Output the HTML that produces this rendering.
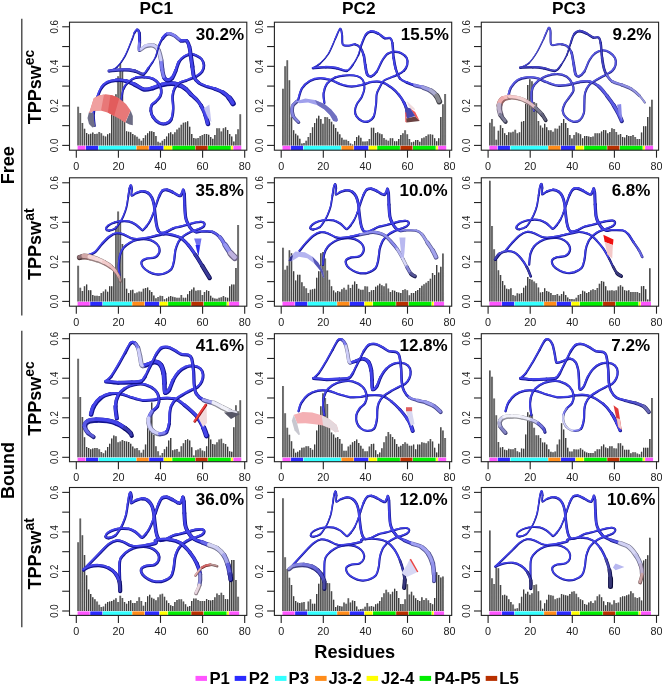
<!DOCTYPE html><html><head><meta charset="utf-8"><title>PCA residue fluctuations</title><style>html,body{margin:0;padding:0;background:#fff;width:662px;height:685px;overflow:hidden}svg{display:block}text{font-family:"Liberation Sans",Arial,sans-serif}</style></head><body>
<svg width="662" height="685" viewBox="0 0 662 685">
<text x="156.2" y="13.7" font-size="17.3" font-weight="bold" text-anchor="middle">PC1</text>
<text x="358.8" y="13.7" font-size="17.3" font-weight="bold" text-anchor="middle">PC2</text>
<text x="568.8" y="13.7" font-size="17.3" font-weight="bold" text-anchor="middle">PC3</text>
<line x1="21.8" y1="18.7" x2="21.8" y2="315.4" stroke="#3a3a3a" stroke-width="1.3"/>
<line x1="21.8" y1="330.8" x2="21.8" y2="627.3" stroke="#3a3a3a" stroke-width="1.3"/>
<text transform="translate(14,165.2) rotate(-90)" font-size="18" font-weight="bold" text-anchor="middle">Free</text>
<text transform="translate(14,470.4) rotate(-90)" font-size="18" font-weight="bold" text-anchor="middle">Bound</text>
<text transform="translate(41.3,124.3) rotate(-90)" font-size="18" font-weight="bold">TPPsw<tspan dy="-7" font-size="14">ec</tspan></text>
<text transform="translate(41.3,279.9) rotate(-90)" font-size="18" font-weight="bold">TPPsw<tspan dy="-7" font-size="14">at</tspan></text>
<text transform="translate(41.3,435.8) rotate(-90)" font-size="18" font-weight="bold">TPPsw<tspan dy="-7" font-size="14">ec</tspan></text>
<text transform="translate(41.3,589.6) rotate(-90)" font-size="18" font-weight="bold">TPPsw<tspan dy="-7" font-size="14">at</tspan></text>
<path fill="#8e8e8e" d="M77.56 106.85h1.6v38.55h-1.6zM79.66 112.98h1.6v32.42h-1.6zM81.77 123.06h1.6v22.34h-1.6zM83.87 128.79h1.6v16.61h-1.6zM85.98 132.94h1.6v12.46h-1.6zM88.08 134.13h1.6v11.27h-1.6zM90.19 133.74h1.6v11.66h-1.6zM92.29 132.55h1.6v12.85h-1.6zM94.4 133.93h1.6v11.47h-1.6zM96.5 133.74h1.6v11.66h-1.6zM98.61 131.96h1.6v13.44h-1.6zM100.71 133.14h1.6v12.26h-1.6zM102.81 135.71h1.6v9.69h-1.6zM104.92 136.5h1.6v8.9h-1.6zM107.03 134.13h1.6v11.27h-1.6zM109.13 133.14h1.6v12.26h-1.6zM111.23 111.79h1.6v33.61h-1.6zM113.34 101.91h1.6v43.49h-1.6zM115.44 94.2h1.6v51.2h-1.6zM117.55 76.21h1.6v69.19h-1.6zM119.66 63.95h1.6v81.45h-1.6zM121.76 71.26h1.6v74.14h-1.6zM123.87 115.75h1.6v29.66h-1.6zM125.97 131.17h1.6v14.23h-1.6zM128.08 131.76h1.6v13.64h-1.6zM130.18 132.15h1.6v13.25h-1.6zM132.28 133.93h1.6v11.47h-1.6zM134.39 135.32h1.6v10.08h-1.6zM136.5 136.7h1.6v8.7h-1.6zM138.6 138.68h1.6v6.72h-1.6zM140.71 140.85h1.6v4.55h-1.6zM142.81 137.89h1.6v7.51h-1.6zM144.91 135.32h1.6v10.08h-1.6zM147.02 133.14h1.6v12.26h-1.6zM149.12 131.17h1.6v14.23h-1.6zM151.23 131.17h1.6v14.23h-1.6zM153.34 131.96h1.6v13.44h-1.6zM155.44 136.11h1.6v9.29h-1.6zM157.54 141.84h1.6v3.56h-1.6zM159.65 142.83h1.6v2.57h-1.6zM161.75 140.85h1.6v4.55h-1.6zM163.86 138.88h1.6v6.52h-1.6zM165.97 136.5h1.6v8.9h-1.6zM168.07 133.14h1.6v12.26h-1.6zM170.17 132.15h1.6v13.25h-1.6zM172.28 134.33h1.6v11.07h-1.6zM174.39 132.15h1.6v13.25h-1.6zM176.49 129.58h1.6v15.82h-1.6zM178.59 127.8h1.6v17.6h-1.6zM180.7 124.64h1.6v20.76h-1.6zM182.81 122.86h1.6v22.54h-1.6zM184.91 122.27h1.6v23.13h-1.6zM187.02 121.28h1.6v24.12h-1.6zM189.12 126.82h1.6v18.58h-1.6zM191.22 133.93h1.6v11.47h-1.6zM193.33 137.89h1.6v7.51h-1.6zM195.44 138.48h1.6v6.92h-1.6zM197.54 137.89h1.6v7.51h-1.6zM199.65 136.11h1.6v9.29h-1.6zM201.75 135.12h1.6v10.28h-1.6zM203.85 133.93h1.6v11.47h-1.6zM205.96 133.93h1.6v11.47h-1.6zM208.07 134.72h1.6v10.68h-1.6zM210.17 137.1h1.6v8.3h-1.6zM212.28 138.68h1.6v6.72h-1.6zM214.38 135.12h1.6v10.28h-1.6zM216.48 128.2h1.6v17.2h-1.6zM218.59 128.2h1.6v17.2h-1.6zM220.7 131.56h1.6v13.84h-1.6zM222.8 128.2h1.6v17.2h-1.6zM224.91 127.21h1.6v18.19h-1.6zM227.01 129.98h1.6v15.42h-1.6zM229.11 133.93h1.6v11.47h-1.6zM231.22 136.5h1.6v8.9h-1.6zM233.33 141.45h1.6v3.95h-1.6zM235.43 134.33h1.6v11.07h-1.6zM237.53 129.19h1.6v16.21h-1.6zM239.64 114.16h1.6v31.24h-1.6z"/><path fill="#202020" d="M77.56 106.85h.75v38.55h-.75zM79.66 112.98h.75v32.42h-.75zM81.77 123.06h.75v22.34h-.75zM83.87 128.79h.75v16.61h-.75zM85.98 132.94h.75v12.46h-.75zM88.08 134.13h.75v11.27h-.75zM90.19 133.74h.75v11.66h-.75zM92.29 132.55h.75v12.85h-.75zM94.4 133.93h.75v11.47h-.75zM96.5 133.74h.75v11.66h-.75zM98.61 131.96h.75v13.44h-.75zM100.71 133.14h.75v12.26h-.75zM102.81 135.71h.75v9.69h-.75zM104.92 136.5h.75v8.9h-.75zM107.03 134.13h.75v11.27h-.75zM109.13 133.14h.75v12.26h-.75zM111.23 111.79h.75v33.61h-.75zM113.34 101.91h.75v43.49h-.75zM115.44 94.2h.75v51.2h-.75zM117.55 76.21h.75v69.19h-.75zM119.66 63.95h.75v81.45h-.75zM121.76 71.26h.75v74.14h-.75zM123.87 115.75h.75v29.66h-.75zM125.97 131.17h.75v14.23h-.75zM128.08 131.76h.75v13.64h-.75zM130.18 132.15h.75v13.25h-.75zM132.28 133.93h.75v11.47h-.75zM134.39 135.32h.75v10.08h-.75zM136.5 136.7h.75v8.7h-.75zM138.6 138.68h.75v6.72h-.75zM140.71 140.85h.75v4.55h-.75zM142.81 137.89h.75v7.51h-.75zM144.91 135.32h.75v10.08h-.75zM147.02 133.14h.75v12.26h-.75zM149.12 131.17h.75v14.23h-.75zM151.23 131.17h.75v14.23h-.75zM153.34 131.96h.75v13.44h-.75zM155.44 136.11h.75v9.29h-.75zM157.54 141.84h.75v3.56h-.75zM159.65 142.83h.75v2.57h-.75zM161.75 140.85h.75v4.55h-.75zM163.86 138.88h.75v6.52h-.75zM165.97 136.5h.75v8.9h-.75zM168.07 133.14h.75v12.26h-.75zM170.17 132.15h.75v13.25h-.75zM172.28 134.33h.75v11.07h-.75zM174.39 132.15h.75v13.25h-.75zM176.49 129.58h.75v15.82h-.75zM178.59 127.8h.75v17.6h-.75zM180.7 124.64h.75v20.76h-.75zM182.81 122.86h.75v22.54h-.75zM184.91 122.27h.75v23.13h-.75zM187.02 121.28h.75v24.12h-.75zM189.12 126.82h.75v18.58h-.75zM191.22 133.93h.75v11.47h-.75zM193.33 137.89h.75v7.51h-.75zM195.44 138.48h.75v6.92h-.75zM197.54 137.89h.75v7.51h-.75zM199.65 136.11h.75v9.29h-.75zM201.75 135.12h.75v10.28h-.75zM203.85 133.93h.75v11.47h-.75zM205.96 133.93h.75v11.47h-.75zM208.07 134.72h.75v10.68h-.75zM210.17 137.1h.75v8.3h-.75zM212.28 138.68h.75v6.72h-.75zM214.38 135.12h.75v10.28h-.75zM216.48 128.2h.75v17.2h-.75zM218.59 128.2h.75v17.2h-.75zM220.7 131.56h.75v13.84h-.75zM222.8 128.2h.75v17.2h-.75zM224.91 127.21h.75v18.19h-.75zM227.01 129.98h.75v15.42h-.75zM229.11 133.93h.75v11.47h-.75zM231.22 136.5h.75v8.9h-.75zM233.33 141.45h.75v3.95h-.75zM235.43 134.33h.75v11.07h-.75zM237.53 129.19h.75v16.21h-.75zM239.64 114.16h.75v31.24h-.75z"/>
<rect x="77.6" y="145.8" width="7.92" height="4.4" fill="#ff55ff"/>
<rect x="86.02" y="145.8" width="12.13" height="4.4" fill="#2a2aff"/>
<rect x="98.65" y="145.8" width="37.39" height="4.4" fill="#33ffff"/>
<rect x="136.54" y="145.8" width="12.13" height="4.4" fill="#ff8c1a"/>
<rect x="149.17" y="145.8" width="14.23" height="4.4" fill="#2a2aff"/>
<rect x="163.91" y="145.8" width="7.92" height="4.4" fill="#ffff00"/>
<rect x="172.33" y="145.8" width="22.66" height="4.4" fill="#00ee00"/>
<rect x="195.48" y="145.8" width="12.13" height="4.4" fill="#b83000"/>
<rect x="208.11" y="145.8" width="22.65" height="4.4" fill="#00ee00"/>
<rect x="231.27" y="145.8" width="1.61" height="4.4" fill="#ffff00"/>
<rect x="233.37" y="145.8" width="7.92" height="4.4" fill="#ff55ff"/>
<rect x="69.5" y="22.2" width="177.3" height="128" fill="none" stroke="#222" stroke-width="1.1"/>
<line x1="62.2" y1="145.4" x2="69.5" y2="145.4" stroke="#222" stroke-width="1.1"/>
<line x1="62.2" y1="125.63" x2="69.5" y2="125.63" stroke="#222" stroke-width="1.1"/>
<line x1="62.2" y1="105.86" x2="69.5" y2="105.86" stroke="#222" stroke-width="1.1"/>
<line x1="62.2" y1="86.09" x2="69.5" y2="86.09" stroke="#222" stroke-width="1.1"/>
<line x1="62.2" y1="66.32" x2="69.5" y2="66.32" stroke="#222" stroke-width="1.1"/>
<line x1="62.2" y1="46.55" x2="69.5" y2="46.55" stroke="#222" stroke-width="1.1"/>
<line x1="62.2" y1="26.78" x2="69.5" y2="26.78" stroke="#222" stroke-width="1.1"/>
<text transform="translate(58.4,145.4) rotate(-90)" font-size="11.4" text-anchor="middle" textLength="13.5" lengthAdjust="spacingAndGlyphs" fill="#222">0.0</text>
<text transform="translate(58.4,105.86) rotate(-90)" font-size="11.4" text-anchor="middle" textLength="13.5" lengthAdjust="spacingAndGlyphs" fill="#222">0.2</text>
<text transform="translate(58.4,66.32) rotate(-90)" font-size="11.4" text-anchor="middle" textLength="13.5" lengthAdjust="spacingAndGlyphs" fill="#222">0.4</text>
<text transform="translate(58.4,26.78) rotate(-90)" font-size="11.4" text-anchor="middle" textLength="13.5" lengthAdjust="spacingAndGlyphs" fill="#222">0.6</text>
<line x1="76.3" y1="150.2" x2="76.3" y2="157.7" stroke="#222" stroke-width="1.1"/>
<text x="76.3" y="169.6" font-size="10.8" text-anchor="middle" fill="#222">0</text>
<line x1="118.4" y1="150.2" x2="118.4" y2="157.7" stroke="#222" stroke-width="1.1"/>
<text x="118.4" y="169.6" font-size="10.8" text-anchor="middle" fill="#222">20</text>
<line x1="160.5" y1="150.2" x2="160.5" y2="157.7" stroke="#222" stroke-width="1.1"/>
<text x="160.5" y="169.6" font-size="10.8" text-anchor="middle" fill="#222">40</text>
<line x1="202.6" y1="150.2" x2="202.6" y2="157.7" stroke="#222" stroke-width="1.1"/>
<text x="202.6" y="169.6" font-size="10.8" text-anchor="middle" fill="#222">60</text>
<line x1="244.7" y1="150.2" x2="244.7" y2="157.7" stroke="#222" stroke-width="1.1"/>
<text x="244.7" y="169.6" font-size="10.8" text-anchor="middle" fill="#222">80</text>
<text x="244.0" y="39.9" font-size="17" font-weight="bold" text-anchor="end">30.2%</text>
<path fill="#8e8e8e" d="M282.45 88.66h1.6v56.74h-1.6zM284.56 66.32h1.6v79.08h-1.6zM286.66 60.19h1.6v85.21h-1.6zM288.77 80.36h1.6v65.04h-1.6zM290.87 117.13h1.6v28.27h-1.6zM292.98 130.37h1.6v15.03h-1.6zM295.08 133.74h1.6v11.66h-1.6zM297.19 135.52h1.6v9.88h-1.6zM299.29 138.68h1.6v6.72h-1.6zM301.4 143.42h1.6v1.98h-1.6zM303.5 143.03h1.6v2.37h-1.6zM305.61 140.85h1.6v4.55h-1.6zM307.71 137.1h1.6v8.3h-1.6zM309.82 132.94h1.6v12.46h-1.6zM311.92 127.21h1.6v18.19h-1.6zM314.03 123.06h1.6v22.34h-1.6zM316.13 118.51h1.6v26.89h-1.6zM318.24 115.75h1.6v29.66h-1.6zM320.34 119.11h1.6v26.29h-1.6zM322.45 123.65h1.6v21.75h-1.6zM324.55 116.93h1.6v28.47h-1.6zM326.66 117.13h1.6v28.27h-1.6zM328.76 119.11h1.6v26.29h-1.6zM330.87 121.87h1.6v23.53h-1.6zM332.97 124.44h1.6v20.96h-1.6zM335.08 128h1.6v17.4h-1.6zM337.18 131.76h1.6v13.64h-1.6zM339.29 134.13h1.6v11.27h-1.6zM341.39 137.69h1.6v7.71h-1.6zM343.5 139.86h1.6v5.54h-1.6zM345.6 139.86h1.6v5.54h-1.6zM347.71 141.05h1.6v4.35h-1.6zM349.81 143.42h1.6v1.98h-1.6zM351.92 144.41h1.6v0.99h-1.6zM354.02 141.05h1.6v4.35h-1.6zM356.13 136.9h1.6v8.5h-1.6zM358.23 135.52h1.6v9.88h-1.6zM360.34 137.69h1.6v7.71h-1.6zM362.44 141.45h1.6v3.95h-1.6zM364.55 141.45h1.6v3.95h-1.6zM366.65 141.25h1.6v4.15h-1.6zM368.76 139.07h1.6v6.33h-1.6zM370.86 127.8h1.6v17.6h-1.6zM372.97 127.8h1.6v17.6h-1.6zM375.07 132.94h1.6v12.46h-1.6zM377.18 132.15h1.6v13.25h-1.6zM379.28 133.54h1.6v11.86h-1.6zM381.39 134.33h1.6v11.07h-1.6zM383.49 137.89h1.6v7.51h-1.6zM385.6 139.67h1.6v5.73h-1.6zM387.7 140.85h1.6v4.55h-1.6zM389.81 138.28h1.6v7.12h-1.6zM391.91 138.28h1.6v7.12h-1.6zM394.02 141.25h1.6v4.15h-1.6zM396.12 141.25h1.6v4.15h-1.6zM398.23 138.88h1.6v6.52h-1.6zM400.33 135.12h1.6v10.28h-1.6zM402.44 133.14h1.6v12.26h-1.6zM404.54 130.18h1.6v15.22h-1.6zM406.65 134.33h1.6v11.07h-1.6zM408.75 138.88h1.6v6.52h-1.6zM410.86 142.24h1.6v3.16h-1.6zM412.96 141.84h1.6v3.56h-1.6zM415.07 140.06h1.6v5.34h-1.6zM417.17 140.06h1.6v5.34h-1.6zM419.28 141.84h1.6v3.56h-1.6zM421.38 138.28h1.6v7.12h-1.6zM423.49 137.49h1.6v7.91h-1.6zM425.59 136.11h1.6v9.29h-1.6zM427.7 134.53h1.6v10.87h-1.6zM429.8 134.33h1.6v11.07h-1.6zM431.91 134.72h1.6v10.68h-1.6zM434.01 138.28h1.6v7.12h-1.6zM436.12 141.25h1.6v4.15h-1.6zM438.22 138.28h1.6v7.12h-1.6zM440.33 116.93h1.6v28.47h-1.6zM442.43 104.28h1.6v41.12h-1.6zM444.54 94h1.6v51.4h-1.6z"/><path fill="#202020" d="M282.45 88.66h.75v56.74h-.75zM284.56 66.32h.75v79.08h-.75zM286.66 60.19h.75v85.21h-.75zM288.77 80.36h.75v65.04h-.75zM290.87 117.13h.75v28.27h-.75zM292.98 130.37h.75v15.03h-.75zM295.08 133.74h.75v11.66h-.75zM297.19 135.52h.75v9.88h-.75zM299.29 138.68h.75v6.72h-.75zM301.4 143.42h.75v1.98h-.75zM303.5 143.03h.75v2.37h-.75zM305.61 140.85h.75v4.55h-.75zM307.71 137.1h.75v8.3h-.75zM309.82 132.94h.75v12.46h-.75zM311.92 127.21h.75v18.19h-.75zM314.03 123.06h.75v22.34h-.75zM316.13 118.51h.75v26.89h-.75zM318.24 115.75h.75v29.66h-.75zM320.34 119.11h.75v26.29h-.75zM322.45 123.65h.75v21.75h-.75zM324.55 116.93h.75v28.47h-.75zM326.66 117.13h.75v28.27h-.75zM328.76 119.11h.75v26.29h-.75zM330.87 121.87h.75v23.53h-.75zM332.97 124.44h.75v20.96h-.75zM335.08 128h.75v17.4h-.75zM337.18 131.76h.75v13.64h-.75zM339.29 134.13h.75v11.27h-.75zM341.39 137.69h.75v7.71h-.75zM343.5 139.86h.75v5.54h-.75zM345.6 139.86h.75v5.54h-.75zM347.71 141.05h.75v4.35h-.75zM349.81 143.42h.75v1.98h-.75zM351.92 144.41h.75v0.99h-.75zM354.02 141.05h.75v4.35h-.75zM356.13 136.9h.75v8.5h-.75zM358.23 135.52h.75v9.88h-.75zM360.34 137.69h.75v7.71h-.75zM362.44 141.45h.75v3.95h-.75zM364.55 141.45h.75v3.95h-.75zM366.65 141.25h.75v4.15h-.75zM368.76 139.07h.75v6.33h-.75zM370.86 127.8h.75v17.6h-.75zM372.97 127.8h.75v17.6h-.75zM375.07 132.94h.75v12.46h-.75zM377.18 132.15h.75v13.25h-.75zM379.28 133.54h.75v11.86h-.75zM381.39 134.33h.75v11.07h-.75zM383.49 137.89h.75v7.51h-.75zM385.6 139.67h.75v5.73h-.75zM387.7 140.85h.75v4.55h-.75zM389.81 138.28h.75v7.12h-.75zM391.91 138.28h.75v7.12h-.75zM394.02 141.25h.75v4.15h-.75zM396.12 141.25h.75v4.15h-.75zM398.23 138.88h.75v6.52h-.75zM400.33 135.12h.75v10.28h-.75zM402.44 133.14h.75v12.26h-.75zM404.54 130.18h.75v15.22h-.75zM406.65 134.33h.75v11.07h-.75zM408.75 138.88h.75v6.52h-.75zM410.86 142.24h.75v3.16h-.75zM412.96 141.84h.75v3.56h-.75zM415.07 140.06h.75v5.34h-.75zM417.17 140.06h.75v5.34h-.75zM419.28 141.84h.75v3.56h-.75zM421.38 138.28h.75v7.12h-.75zM423.49 137.49h.75v7.91h-.75zM425.59 136.11h.75v9.29h-.75zM427.7 134.53h.75v10.87h-.75zM429.8 134.33h.75v11.07h-.75zM431.91 134.72h.75v10.68h-.75zM434.01 138.28h.75v7.12h-.75zM436.12 141.25h.75v4.15h-.75zM438.22 138.28h.75v7.12h-.75zM440.33 116.93h.75v28.47h-.75zM442.43 104.28h.75v41.12h-.75zM444.54 94h.75v51.4h-.75z"/>
<rect x="282.5" y="145.8" width="7.92" height="4.4" fill="#ff55ff"/>
<rect x="290.92" y="145.8" width="12.13" height="4.4" fill="#2a2aff"/>
<rect x="303.55" y="145.8" width="37.39" height="4.4" fill="#33ffff"/>
<rect x="341.44" y="145.8" width="12.13" height="4.4" fill="#ff8c1a"/>
<rect x="354.07" y="145.8" width="14.24" height="4.4" fill="#2a2aff"/>
<rect x="368.81" y="145.8" width="7.92" height="4.4" fill="#ffff00"/>
<rect x="377.23" y="145.8" width="22.66" height="4.4" fill="#00ee00"/>
<rect x="400.38" y="145.8" width="12.13" height="4.4" fill="#b83000"/>
<rect x="413.01" y="145.8" width="22.66" height="4.4" fill="#00ee00"/>
<rect x="436.17" y="145.8" width="1.6" height="4.4" fill="#ffff00"/>
<rect x="438.27" y="145.8" width="7.92" height="4.4" fill="#ff55ff"/>
<rect x="274.4" y="22.2" width="177.3" height="128" fill="none" stroke="#222" stroke-width="1.1"/>
<line x1="267.1" y1="145.4" x2="274.4" y2="145.4" stroke="#222" stroke-width="1.1"/>
<line x1="267.1" y1="125.63" x2="274.4" y2="125.63" stroke="#222" stroke-width="1.1"/>
<line x1="267.1" y1="105.86" x2="274.4" y2="105.86" stroke="#222" stroke-width="1.1"/>
<line x1="267.1" y1="86.09" x2="274.4" y2="86.09" stroke="#222" stroke-width="1.1"/>
<line x1="267.1" y1="66.32" x2="274.4" y2="66.32" stroke="#222" stroke-width="1.1"/>
<line x1="267.1" y1="46.55" x2="274.4" y2="46.55" stroke="#222" stroke-width="1.1"/>
<line x1="267.1" y1="26.78" x2="274.4" y2="26.78" stroke="#222" stroke-width="1.1"/>
<text transform="translate(263.3,145.4) rotate(-90)" font-size="11.4" text-anchor="middle" textLength="13.5" lengthAdjust="spacingAndGlyphs" fill="#222">0.0</text>
<text transform="translate(263.3,105.86) rotate(-90)" font-size="11.4" text-anchor="middle" textLength="13.5" lengthAdjust="spacingAndGlyphs" fill="#222">0.2</text>
<text transform="translate(263.3,66.32) rotate(-90)" font-size="11.4" text-anchor="middle" textLength="13.5" lengthAdjust="spacingAndGlyphs" fill="#222">0.4</text>
<text transform="translate(263.3,26.78) rotate(-90)" font-size="11.4" text-anchor="middle" textLength="13.5" lengthAdjust="spacingAndGlyphs" fill="#222">0.6</text>
<line x1="281.2" y1="150.2" x2="281.2" y2="157.7" stroke="#222" stroke-width="1.1"/>
<text x="281.2" y="169.6" font-size="10.8" text-anchor="middle" fill="#222">0</text>
<line x1="323.3" y1="150.2" x2="323.3" y2="157.7" stroke="#222" stroke-width="1.1"/>
<text x="323.3" y="169.6" font-size="10.8" text-anchor="middle" fill="#222">20</text>
<line x1="365.4" y1="150.2" x2="365.4" y2="157.7" stroke="#222" stroke-width="1.1"/>
<text x="365.4" y="169.6" font-size="10.8" text-anchor="middle" fill="#222">40</text>
<line x1="407.5" y1="150.2" x2="407.5" y2="157.7" stroke="#222" stroke-width="1.1"/>
<text x="407.5" y="169.6" font-size="10.8" text-anchor="middle" fill="#222">60</text>
<line x1="449.6" y1="150.2" x2="449.6" y2="157.7" stroke="#222" stroke-width="1.1"/>
<text x="449.6" y="169.6" font-size="10.8" text-anchor="middle" fill="#222">80</text>
<text x="448.9" y="39.9" font-size="17" font-weight="bold" text-anchor="end">15.5%</text>
<path fill="#8e8e8e" d="M489.36 122.66h1.6v22.74h-1.6zM491.46 119.11h1.6v26.29h-1.6zM493.56 126.42h1.6v18.98h-1.6zM495.67 139.86h1.6v5.54h-1.6zM497.77 130.77h1.6v14.63h-1.6zM499.88 125.23h1.6v20.17h-1.6zM501.99 128h1.6v17.4h-1.6zM504.09 133.34h1.6v12.06h-1.6zM506.19 135.12h1.6v10.28h-1.6zM508.3 132.15h1.6v13.25h-1.6zM510.4 132.55h1.6v12.85h-1.6zM512.51 131.76h1.6v13.64h-1.6zM514.62 129.78h1.6v15.62h-1.6zM516.72 133.34h1.6v12.06h-1.6zM518.83 132.15h1.6v13.25h-1.6zM520.93 121.87h1.6v23.53h-1.6zM523.03 120.89h1.6v24.51h-1.6zM525.14 103.88h1.6v41.52h-1.6zM527.25 85.1h1.6v60.3h-1.6zM529.35 79.37h1.6v66.03h-1.6zM531.46 81.35h1.6v64.05h-1.6zM533.56 101.91h1.6v43.49h-1.6zM535.66 103.29h1.6v42.11h-1.6zM537.77 121.08h1.6v24.32h-1.6zM539.88 125.43h1.6v19.97h-1.6zM541.98 127.8h1.6v17.6h-1.6zM544.09 123.85h1.6v21.55h-1.6zM546.19 127.21h1.6v18.19h-1.6zM548.29 130.18h1.6v15.22h-1.6zM550.4 130.37h1.6v15.03h-1.6zM552.5 131.76h1.6v13.64h-1.6zM554.61 128.4h1.6v17h-1.6zM556.72 128.79h1.6v16.61h-1.6zM558.82 125.83h1.6v19.57h-1.6zM560.92 123.06h1.6v22.34h-1.6zM563.03 119.11h1.6v26.29h-1.6zM565.13 123.06h1.6v22.34h-1.6zM567.24 128h1.6v17.4h-1.6zM569.35 135.12h1.6v10.28h-1.6zM571.45 138.48h1.6v6.92h-1.6zM573.55 135.12h1.6v10.28h-1.6zM575.66 132.15h1.6v13.25h-1.6zM577.76 133.14h1.6v12.26h-1.6zM579.87 134.33h1.6v11.07h-1.6zM581.98 138.28h1.6v7.12h-1.6zM584.08 135.91h1.6v9.49h-1.6zM586.19 135.91h1.6v9.49h-1.6zM588.29 136.5h1.6v8.9h-1.6zM590.39 136.9h1.6v8.5h-1.6zM592.5 136.5h1.6v8.9h-1.6zM594.61 133.14h1.6v12.26h-1.6zM596.71 133.14h1.6v12.26h-1.6zM598.81 133.14h1.6v12.26h-1.6zM600.92 131.56h1.6v13.84h-1.6zM603.02 129.98h1.6v15.42h-1.6zM605.13 130.37h1.6v15.03h-1.6zM607.24 133.14h1.6v12.26h-1.6zM609.34 131.96h1.6v13.44h-1.6zM611.45 128.2h1.6v17.2h-1.6zM613.55 128.99h1.6v16.41h-1.6zM615.65 131.96h1.6v13.44h-1.6zM617.76 134.72h1.6v10.68h-1.6zM619.87 133.93h1.6v11.47h-1.6zM621.97 136.9h1.6v8.5h-1.6zM624.07 137.49h1.6v7.91h-1.6zM626.18 135.12h1.6v10.28h-1.6zM628.28 135.91h1.6v9.49h-1.6zM630.39 135.91h1.6v9.49h-1.6zM632.5 135.12h1.6v10.28h-1.6zM634.6 136.9h1.6v8.5h-1.6zM636.71 139.07h1.6v6.33h-1.6zM638.81 139.07h1.6v6.33h-1.6zM640.91 132.55h1.6v12.85h-1.6zM643.02 126.22h1.6v19.18h-1.6zM645.12 126.22h1.6v19.18h-1.6zM647.23 116.93h1.6v28.47h-1.6zM649.34 106.65h1.6v38.75h-1.6zM651.44 99.73h1.6v45.67h-1.6z"/><path fill="#202020" d="M489.36 122.66h.75v22.74h-.75zM491.46 119.11h.75v26.29h-.75zM493.56 126.42h.75v18.98h-.75zM495.67 139.86h.75v5.54h-.75zM497.77 130.77h.75v14.63h-.75zM499.88 125.23h.75v20.17h-.75zM501.99 128h.75v17.4h-.75zM504.09 133.34h.75v12.06h-.75zM506.19 135.12h.75v10.28h-.75zM508.3 132.15h.75v13.25h-.75zM510.4 132.55h.75v12.85h-.75zM512.51 131.76h.75v13.64h-.75zM514.62 129.78h.75v15.62h-.75zM516.72 133.34h.75v12.06h-.75zM518.83 132.15h.75v13.25h-.75zM520.93 121.87h.75v23.53h-.75zM523.03 120.89h.75v24.51h-.75zM525.14 103.88h.75v41.52h-.75zM527.25 85.1h.75v60.3h-.75zM529.35 79.37h.75v66.03h-.75zM531.46 81.35h.75v64.05h-.75zM533.56 101.91h.75v43.49h-.75zM535.66 103.29h.75v42.11h-.75zM537.77 121.08h.75v24.32h-.75zM539.88 125.43h.75v19.97h-.75zM541.98 127.8h.75v17.6h-.75zM544.09 123.85h.75v21.55h-.75zM546.19 127.21h.75v18.19h-.75zM548.29 130.18h.75v15.22h-.75zM550.4 130.37h.75v15.03h-.75zM552.5 131.76h.75v13.64h-.75zM554.61 128.4h.75v17h-.75zM556.72 128.79h.75v16.61h-.75zM558.82 125.83h.75v19.57h-.75zM560.92 123.06h.75v22.34h-.75zM563.03 119.11h.75v26.29h-.75zM565.13 123.06h.75v22.34h-.75zM567.24 128h.75v17.4h-.75zM569.35 135.12h.75v10.28h-.75zM571.45 138.48h.75v6.92h-.75zM573.55 135.12h.75v10.28h-.75zM575.66 132.15h.75v13.25h-.75zM577.76 133.14h.75v12.26h-.75zM579.87 134.33h.75v11.07h-.75zM581.98 138.28h.75v7.12h-.75zM584.08 135.91h.75v9.49h-.75zM586.19 135.91h.75v9.49h-.75zM588.29 136.5h.75v8.9h-.75zM590.39 136.9h.75v8.5h-.75zM592.5 136.5h.75v8.9h-.75zM594.61 133.14h.75v12.26h-.75zM596.71 133.14h.75v12.26h-.75zM598.81 133.14h.75v12.26h-.75zM600.92 131.56h.75v13.84h-.75zM603.02 129.98h.75v15.42h-.75zM605.13 130.37h.75v15.03h-.75zM607.24 133.14h.75v12.26h-.75zM609.34 131.96h.75v13.44h-.75zM611.45 128.2h.75v17.2h-.75zM613.55 128.99h.75v16.41h-.75zM615.65 131.96h.75v13.44h-.75zM617.76 134.72h.75v10.68h-.75zM619.87 133.93h.75v11.47h-.75zM621.97 136.9h.75v8.5h-.75zM624.07 137.49h.75v7.91h-.75zM626.18 135.12h.75v10.28h-.75zM628.28 135.91h.75v9.49h-.75zM630.39 135.91h.75v9.49h-.75zM632.5 135.12h.75v10.28h-.75zM634.6 136.9h.75v8.5h-.75zM636.71 139.07h.75v6.33h-.75zM638.81 139.07h.75v6.33h-.75zM640.91 132.55h.75v12.85h-.75zM643.02 126.22h.75v19.18h-.75zM645.12 126.22h.75v19.18h-.75zM647.23 116.93h.75v28.47h-.75zM649.34 106.65h.75v38.75h-.75zM651.44 99.73h.75v45.67h-.75z"/>
<rect x="489.4" y="145.8" width="7.92" height="4.4" fill="#ff55ff"/>
<rect x="497.82" y="145.8" width="12.13" height="4.4" fill="#2a2aff"/>
<rect x="510.45" y="145.8" width="37.39" height="4.4" fill="#33ffff"/>
<rect x="548.34" y="145.8" width="12.13" height="4.4" fill="#ff8c1a"/>
<rect x="560.97" y="145.8" width="14.23" height="4.4" fill="#2a2aff"/>
<rect x="575.71" y="145.8" width="7.92" height="4.4" fill="#ffff00"/>
<rect x="584.13" y="145.8" width="22.65" height="4.4" fill="#00ee00"/>
<rect x="607.28" y="145.8" width="12.13" height="4.4" fill="#b83000"/>
<rect x="619.91" y="145.8" width="22.65" height="4.4" fill="#00ee00"/>
<rect x="643.07" y="145.8" width="1.61" height="4.4" fill="#ffff00"/>
<rect x="645.17" y="145.8" width="7.92" height="4.4" fill="#ff55ff"/>
<rect x="481.3" y="22.2" width="177.3" height="128" fill="none" stroke="#222" stroke-width="1.1"/>
<line x1="474" y1="145.4" x2="481.3" y2="145.4" stroke="#222" stroke-width="1.1"/>
<line x1="474" y1="125.63" x2="481.3" y2="125.63" stroke="#222" stroke-width="1.1"/>
<line x1="474" y1="105.86" x2="481.3" y2="105.86" stroke="#222" stroke-width="1.1"/>
<line x1="474" y1="86.09" x2="481.3" y2="86.09" stroke="#222" stroke-width="1.1"/>
<line x1="474" y1="66.32" x2="481.3" y2="66.32" stroke="#222" stroke-width="1.1"/>
<line x1="474" y1="46.55" x2="481.3" y2="46.55" stroke="#222" stroke-width="1.1"/>
<line x1="474" y1="26.78" x2="481.3" y2="26.78" stroke="#222" stroke-width="1.1"/>
<text transform="translate(470.2,145.4) rotate(-90)" font-size="11.4" text-anchor="middle" textLength="13.5" lengthAdjust="spacingAndGlyphs" fill="#222">0.0</text>
<text transform="translate(470.2,105.86) rotate(-90)" font-size="11.4" text-anchor="middle" textLength="13.5" lengthAdjust="spacingAndGlyphs" fill="#222">0.2</text>
<text transform="translate(470.2,66.32) rotate(-90)" font-size="11.4" text-anchor="middle" textLength="13.5" lengthAdjust="spacingAndGlyphs" fill="#222">0.4</text>
<text transform="translate(470.2,26.78) rotate(-90)" font-size="11.4" text-anchor="middle" textLength="13.5" lengthAdjust="spacingAndGlyphs" fill="#222">0.6</text>
<line x1="488.1" y1="150.2" x2="488.1" y2="157.7" stroke="#222" stroke-width="1.1"/>
<text x="488.1" y="169.6" font-size="10.8" text-anchor="middle" fill="#222">0</text>
<line x1="530.2" y1="150.2" x2="530.2" y2="157.7" stroke="#222" stroke-width="1.1"/>
<text x="530.2" y="169.6" font-size="10.8" text-anchor="middle" fill="#222">20</text>
<line x1="572.3" y1="150.2" x2="572.3" y2="157.7" stroke="#222" stroke-width="1.1"/>
<text x="572.3" y="169.6" font-size="10.8" text-anchor="middle" fill="#222">40</text>
<line x1="614.4" y1="150.2" x2="614.4" y2="157.7" stroke="#222" stroke-width="1.1"/>
<text x="614.4" y="169.6" font-size="10.8" text-anchor="middle" fill="#222">60</text>
<line x1="656.5" y1="150.2" x2="656.5" y2="157.7" stroke="#222" stroke-width="1.1"/>
<text x="656.5" y="169.6" font-size="10.8" text-anchor="middle" fill="#222">80</text>
<text x="651.3" y="39.9" font-size="17" font-weight="bold" text-anchor="end">9.2%</text>
<path fill="#8e8e8e" d="M77.56 265.81h1.6v35.59h-1.6zM79.66 287.76h1.6v13.64h-1.6zM81.77 291.12h1.6v10.28h-1.6zM83.87 286.18h1.6v15.22h-1.6zM85.98 284.4h1.6v17h-1.6zM88.08 290.13h1.6v11.27h-1.6zM90.19 290.13h1.6v11.27h-1.6zM92.29 295.07h1.6v6.33h-1.6zM94.4 295.67h1.6v5.73h-1.6zM96.5 295.67h1.6v5.73h-1.6zM98.61 296.06h1.6v5.34h-1.6zM100.71 292.9h1.6v8.5h-1.6zM102.81 291.51h1.6v9.88h-1.6zM104.92 289.54h1.6v11.86h-1.6zM107.03 291.71h1.6v9.69h-1.6zM109.13 286.37h1.6v15.03h-1.6zM111.23 286.37h1.6v15.03h-1.6zM113.34 269.77h1.6v31.63h-1.6zM115.44 226.27h1.6v75.13h-1.6zM117.55 211.45h1.6v89.95h-1.6zM119.66 220.34h1.6v81.06h-1.6zM121.76 244.07h1.6v57.33h-1.6zM123.87 278.27h1.6v23.13h-1.6zM125.97 288.75h1.6v12.65h-1.6zM128.08 292.9h1.6v8.5h-1.6zM130.18 290.13h1.6v11.27h-1.6zM132.28 289.74h1.6v11.66h-1.6zM134.39 293.29h1.6v8.11h-1.6zM136.5 292.5h1.6v8.9h-1.6zM138.6 291.51h1.6v9.88h-1.6zM140.71 291.71h1.6v9.69h-1.6zM142.81 288.75h1.6v12.65h-1.6zM144.91 287.96h1.6v13.44h-1.6zM147.02 287.56h1.6v13.84h-1.6zM149.12 290.13h1.6v11.27h-1.6zM151.23 292.11h1.6v9.29h-1.6zM153.34 295.47h1.6v5.93h-1.6zM155.44 298.24h1.6v3.16h-1.6zM157.54 297.05h1.6v4.35h-1.6zM159.65 295.67h1.6v5.73h-1.6zM161.75 296.06h1.6v5.34h-1.6zM163.86 299.23h1.6v2.17h-1.6zM165.97 298.24h1.6v3.16h-1.6zM168.07 296.85h1.6v4.55h-1.6zM170.17 296.06h1.6v5.34h-1.6zM172.28 296.85h1.6v4.55h-1.6zM174.39 297.25h1.6v4.15h-1.6zM176.49 297.84h1.6v3.56h-1.6zM178.59 297.84h1.6v3.56h-1.6zM180.7 294.88h1.6v6.52h-1.6zM182.81 297.84h1.6v3.56h-1.6zM184.91 297.84h1.6v3.56h-1.6zM187.02 294.28h1.6v7.12h-1.6zM189.12 291.12h1.6v10.28h-1.6zM191.22 289.54h1.6v11.86h-1.6zM193.33 287.56h1.6v13.84h-1.6zM195.44 290.72h1.6v10.68h-1.6zM197.54 290.33h1.6v11.07h-1.6zM199.65 290.33h1.6v11.07h-1.6zM201.75 295.07h1.6v6.33h-1.6zM203.85 291.91h1.6v9.49h-1.6zM205.96 290.33h1.6v11.07h-1.6zM208.07 291.12h1.6v10.28h-1.6zM210.17 295.67h1.6v5.73h-1.6zM212.28 297.84h1.6v3.56h-1.6zM214.38 298.43h1.6v2.97h-1.6zM216.48 298.83h1.6v2.57h-1.6zM218.59 297.84h1.6v3.56h-1.6zM220.7 297.25h1.6v4.15h-1.6zM222.8 296.06h1.6v5.34h-1.6zM224.91 297.25h1.6v4.15h-1.6zM227.01 297.84h1.6v3.56h-1.6zM229.11 286.37h1.6v15.03h-1.6zM231.22 284.6h1.6v16.8h-1.6zM233.33 284.6h1.6v16.8h-1.6zM235.43 267.99h1.6v33.41h-1.6zM237.53 225.09h1.6v76.31h-1.6z"/><path fill="#202020" d="M77.56 265.81h.75v35.59h-.75zM79.66 287.76h.75v13.64h-.75zM81.77 291.12h.75v10.28h-.75zM83.87 286.18h.75v15.22h-.75zM85.98 284.4h.75v17h-.75zM88.08 290.13h.75v11.27h-.75zM90.19 290.13h.75v11.27h-.75zM92.29 295.07h.75v6.33h-.75zM94.4 295.67h.75v5.73h-.75zM96.5 295.67h.75v5.73h-.75zM98.61 296.06h.75v5.34h-.75zM100.71 292.9h.75v8.5h-.75zM102.81 291.51h.75v9.88h-.75zM104.92 289.54h.75v11.86h-.75zM107.03 291.71h.75v9.69h-.75zM109.13 286.37h.75v15.03h-.75zM111.23 286.37h.75v15.03h-.75zM113.34 269.77h.75v31.63h-.75zM115.44 226.27h.75v75.13h-.75zM117.55 211.45h.75v89.95h-.75zM119.66 220.34h.75v81.06h-.75zM121.76 244.07h.75v57.33h-.75zM123.87 278.27h.75v23.13h-.75zM125.97 288.75h.75v12.65h-.75zM128.08 292.9h.75v8.5h-.75zM130.18 290.13h.75v11.27h-.75zM132.28 289.74h.75v11.66h-.75zM134.39 293.29h.75v8.11h-.75zM136.5 292.5h.75v8.9h-.75zM138.6 291.51h.75v9.88h-.75zM140.71 291.71h.75v9.69h-.75zM142.81 288.75h.75v12.65h-.75zM144.91 287.96h.75v13.44h-.75zM147.02 287.56h.75v13.84h-.75zM149.12 290.13h.75v11.27h-.75zM151.23 292.11h.75v9.29h-.75zM153.34 295.47h.75v5.93h-.75zM155.44 298.24h.75v3.16h-.75zM157.54 297.05h.75v4.35h-.75zM159.65 295.67h.75v5.73h-.75zM161.75 296.06h.75v5.34h-.75zM163.86 299.23h.75v2.17h-.75zM165.97 298.24h.75v3.16h-.75zM168.07 296.85h.75v4.55h-.75zM170.17 296.06h.75v5.34h-.75zM172.28 296.85h.75v4.55h-.75zM174.39 297.25h.75v4.15h-.75zM176.49 297.84h.75v3.56h-.75zM178.59 297.84h.75v3.56h-.75zM180.7 294.88h.75v6.52h-.75zM182.81 297.84h.75v3.56h-.75zM184.91 297.84h.75v3.56h-.75zM187.02 294.28h.75v7.12h-.75zM189.12 291.12h.75v10.28h-.75zM191.22 289.54h.75v11.86h-.75zM193.33 287.56h.75v13.84h-.75zM195.44 290.72h.75v10.68h-.75zM197.54 290.33h.75v11.07h-.75zM199.65 290.33h.75v11.07h-.75zM201.75 295.07h.75v6.33h-.75zM203.85 291.91h.75v9.49h-.75zM205.96 290.33h.75v11.07h-.75zM208.07 291.12h.75v10.28h-.75zM210.17 295.67h.75v5.73h-.75zM212.28 297.84h.75v3.56h-.75zM214.38 298.43h.75v2.97h-.75zM216.48 298.83h.75v2.57h-.75zM218.59 297.84h.75v3.56h-.75zM220.7 297.25h.75v4.15h-.75zM222.8 296.06h.75v5.34h-.75zM224.91 297.25h.75v4.15h-.75zM227.01 297.84h.75v3.56h-.75zM229.11 286.37h.75v15.03h-.75zM231.22 284.6h.75v16.8h-.75zM233.33 284.6h.75v16.8h-.75zM235.43 267.99h.75v33.41h-.75zM237.53 225.09h.75v76.31h-.75z"/>
<rect x="77.6" y="301.8" width="12.13" height="4.4" fill="#ff55ff"/>
<rect x="90.23" y="301.8" width="12.13" height="4.4" fill="#2a2aff"/>
<rect x="102.86" y="301.8" width="28.97" height="4.4" fill="#33ffff"/>
<rect x="132.33" y="301.8" width="12.13" height="4.4" fill="#ff8c1a"/>
<rect x="144.96" y="301.8" width="14.24" height="4.4" fill="#2a2aff"/>
<rect x="159.7" y="301.8" width="7.92" height="4.4" fill="#ffff00"/>
<rect x="168.12" y="301.8" width="22.65" height="4.4" fill="#00ee00"/>
<rect x="191.27" y="301.8" width="12.13" height="4.4" fill="#b83000"/>
<rect x="203.9" y="301.8" width="22.66" height="4.4" fill="#00ee00"/>
<rect x="227.06" y="301.8" width="1.61" height="4.4" fill="#ffff00"/>
<rect x="229.16" y="301.8" width="10.02" height="4.4" fill="#ff55ff"/>
<rect x="69.5" y="177.8" width="177.3" height="128.4" fill="none" stroke="#222" stroke-width="1.1"/>
<line x1="62.2" y1="301.4" x2="69.5" y2="301.4" stroke="#222" stroke-width="1.1"/>
<line x1="62.2" y1="281.63" x2="69.5" y2="281.63" stroke="#222" stroke-width="1.1"/>
<line x1="62.2" y1="261.86" x2="69.5" y2="261.86" stroke="#222" stroke-width="1.1"/>
<line x1="62.2" y1="242.09" x2="69.5" y2="242.09" stroke="#222" stroke-width="1.1"/>
<line x1="62.2" y1="222.32" x2="69.5" y2="222.32" stroke="#222" stroke-width="1.1"/>
<line x1="62.2" y1="202.55" x2="69.5" y2="202.55" stroke="#222" stroke-width="1.1"/>
<line x1="62.2" y1="182.78" x2="69.5" y2="182.78" stroke="#222" stroke-width="1.1"/>
<text transform="translate(58.4,301.4) rotate(-90)" font-size="11.4" text-anchor="middle" textLength="13.5" lengthAdjust="spacingAndGlyphs" fill="#222">0.0</text>
<text transform="translate(58.4,261.86) rotate(-90)" font-size="11.4" text-anchor="middle" textLength="13.5" lengthAdjust="spacingAndGlyphs" fill="#222">0.2</text>
<text transform="translate(58.4,222.32) rotate(-90)" font-size="11.4" text-anchor="middle" textLength="13.5" lengthAdjust="spacingAndGlyphs" fill="#222">0.4</text>
<text transform="translate(58.4,182.78) rotate(-90)" font-size="11.4" text-anchor="middle" textLength="13.5" lengthAdjust="spacingAndGlyphs" fill="#222">0.6</text>
<line x1="76.3" y1="306.2" x2="76.3" y2="313.7" stroke="#222" stroke-width="1.1"/>
<text x="76.3" y="325.6" font-size="10.8" text-anchor="middle" fill="#222">0</text>
<line x1="118.4" y1="306.2" x2="118.4" y2="313.7" stroke="#222" stroke-width="1.1"/>
<text x="118.4" y="325.6" font-size="10.8" text-anchor="middle" fill="#222">20</text>
<line x1="160.5" y1="306.2" x2="160.5" y2="313.7" stroke="#222" stroke-width="1.1"/>
<text x="160.5" y="325.6" font-size="10.8" text-anchor="middle" fill="#222">40</text>
<line x1="202.6" y1="306.2" x2="202.6" y2="313.7" stroke="#222" stroke-width="1.1"/>
<text x="202.6" y="325.6" font-size="10.8" text-anchor="middle" fill="#222">60</text>
<line x1="244.7" y1="306.2" x2="244.7" y2="313.7" stroke="#222" stroke-width="1.1"/>
<text x="244.7" y="325.6" font-size="10.8" text-anchor="middle" fill="#222">80</text>
<text x="243.8" y="195.5" font-size="17" font-weight="bold" text-anchor="end">35.8%</text>
<path fill="#8e8e8e" d="M282.45 247.82h1.6v53.58h-1.6zM284.56 269.77h1.6v31.63h-1.6zM286.66 265.81h1.6v35.59h-1.6zM288.77 250.2h1.6v51.2h-1.6zM290.87 253.16h1.6v48.24h-1.6zM292.98 271.15h1.6v30.25h-1.6zM295.08 280.44h1.6v20.96h-1.6zM297.19 274.71h1.6v26.69h-1.6zM299.29 274.71h1.6v26.69h-1.6zM301.4 282.22h1.6v19.18h-1.6zM303.5 286.18h1.6v15.22h-1.6zM305.61 288.35h1.6v13.05h-1.6zM307.71 293.1h1.6v8.3h-1.6zM309.82 289.74h1.6v11.66h-1.6zM311.92 289.14h1.6v12.26h-1.6zM314.03 288.75h1.6v12.65h-1.6zM316.13 277.87h1.6v23.53h-1.6zM318.24 271.15h1.6v30.25h-1.6zM320.34 253.16h1.6v48.24h-1.6zM322.45 251.97h1.6v49.42h-1.6zM324.55 258.5h1.6v42.9h-1.6zM326.66 270.56h1.6v30.84h-1.6zM328.76 279.85h1.6v21.55h-1.6zM330.87 286.37h1.6v15.03h-1.6zM332.97 290.53h1.6v10.87h-1.6zM335.08 292.5h1.6v8.9h-1.6zM337.18 291.12h1.6v10.28h-1.6zM339.29 291.71h1.6v9.69h-1.6zM341.39 289.34h1.6v12.06h-1.6zM343.5 287.76h1.6v13.64h-1.6zM345.6 289.74h1.6v11.66h-1.6zM347.71 284.79h1.6v16.61h-1.6zM349.81 287.96h1.6v13.44h-1.6zM351.92 284.79h1.6v16.61h-1.6zM354.02 281.43h1.6v19.97h-1.6zM356.13 284h1.6v17.4h-1.6zM358.23 288.75h1.6v12.65h-1.6zM360.34 289.74h1.6v11.66h-1.6zM362.44 289.74h1.6v11.66h-1.6zM364.55 286.37h1.6v15.03h-1.6zM366.65 286.57h1.6v14.83h-1.6zM368.76 292.11h1.6v9.29h-1.6zM370.86 290.33h1.6v11.07h-1.6zM372.97 289.93h1.6v11.47h-1.6zM375.07 286.77h1.6v14.63h-1.6zM377.18 285.58h1.6v15.82h-1.6zM379.28 283.8h1.6v17.6h-1.6zM381.39 285.19h1.6v16.21h-1.6zM383.49 286.37h1.6v15.03h-1.6zM385.6 283.61h1.6v17.79h-1.6zM387.7 288.55h1.6v12.85h-1.6zM389.81 292.11h1.6v9.29h-1.6zM391.91 290.33h1.6v11.07h-1.6zM394.02 290.72h1.6v10.68h-1.6zM396.12 292.11h1.6v9.29h-1.6zM398.23 292.5h1.6v8.9h-1.6zM400.33 292.9h1.6v8.5h-1.6zM402.44 289.93h1.6v11.47h-1.6zM404.54 289.14h1.6v12.26h-1.6zM406.65 290.33h1.6v11.07h-1.6zM408.75 295.27h1.6v6.13h-1.6zM410.86 293.1h1.6v8.3h-1.6zM412.96 292.9h1.6v8.5h-1.6zM415.07 291.12h1.6v10.28h-1.6zM417.17 289.93h1.6v11.47h-1.6zM419.28 287.96h1.6v13.44h-1.6zM421.38 285.78h1.6v15.62h-1.6zM423.49 284.2h1.6v17.2h-1.6zM425.59 282.82h1.6v18.58h-1.6zM427.7 281.04h1.6v20.36h-1.6zM429.8 278.86h1.6v22.54h-1.6zM431.91 272.93h1.6v28.47h-1.6zM434.01 274.91h1.6v26.49h-1.6zM436.12 265.02h1.6v36.38h-1.6zM438.22 272.54h1.6v28.86h-1.6zM440.33 266.8h1.6v34.6h-1.6zM442.43 253.56h1.6v47.84h-1.6z"/><path fill="#202020" d="M282.45 247.82h.75v53.58h-.75zM284.56 269.77h.75v31.63h-.75zM286.66 265.81h.75v35.59h-.75zM288.77 250.2h.75v51.2h-.75zM290.87 253.16h.75v48.24h-.75zM292.98 271.15h.75v30.25h-.75zM295.08 280.44h.75v20.96h-.75zM297.19 274.71h.75v26.69h-.75zM299.29 274.71h.75v26.69h-.75zM301.4 282.22h.75v19.18h-.75zM303.5 286.18h.75v15.22h-.75zM305.61 288.35h.75v13.05h-.75zM307.71 293.1h.75v8.3h-.75zM309.82 289.74h.75v11.66h-.75zM311.92 289.14h.75v12.26h-.75zM314.03 288.75h.75v12.65h-.75zM316.13 277.87h.75v23.53h-.75zM318.24 271.15h.75v30.25h-.75zM320.34 253.16h.75v48.24h-.75zM322.45 251.97h.75v49.42h-.75zM324.55 258.5h.75v42.9h-.75zM326.66 270.56h.75v30.84h-.75zM328.76 279.85h.75v21.55h-.75zM330.87 286.37h.75v15.03h-.75zM332.97 290.53h.75v10.87h-.75zM335.08 292.5h.75v8.9h-.75zM337.18 291.12h.75v10.28h-.75zM339.29 291.71h.75v9.69h-.75zM341.39 289.34h.75v12.06h-.75zM343.5 287.76h.75v13.64h-.75zM345.6 289.74h.75v11.66h-.75zM347.71 284.79h.75v16.61h-.75zM349.81 287.96h.75v13.44h-.75zM351.92 284.79h.75v16.61h-.75zM354.02 281.43h.75v19.97h-.75zM356.13 284h.75v17.4h-.75zM358.23 288.75h.75v12.65h-.75zM360.34 289.74h.75v11.66h-.75zM362.44 289.74h.75v11.66h-.75zM364.55 286.37h.75v15.03h-.75zM366.65 286.57h.75v14.83h-.75zM368.76 292.11h.75v9.29h-.75zM370.86 290.33h.75v11.07h-.75zM372.97 289.93h.75v11.47h-.75zM375.07 286.77h.75v14.63h-.75zM377.18 285.58h.75v15.82h-.75zM379.28 283.8h.75v17.6h-.75zM381.39 285.19h.75v16.21h-.75zM383.49 286.37h.75v15.03h-.75zM385.6 283.61h.75v17.79h-.75zM387.7 288.55h.75v12.85h-.75zM389.81 292.11h.75v9.29h-.75zM391.91 290.33h.75v11.07h-.75zM394.02 290.72h.75v10.68h-.75zM396.12 292.11h.75v9.29h-.75zM398.23 292.5h.75v8.9h-.75zM400.33 292.9h.75v8.5h-.75zM402.44 289.93h.75v11.47h-.75zM404.54 289.14h.75v12.26h-.75zM406.65 290.33h.75v11.07h-.75zM408.75 295.27h.75v6.13h-.75zM410.86 293.1h.75v8.3h-.75zM412.96 292.9h.75v8.5h-.75zM415.07 291.12h.75v10.28h-.75zM417.17 289.93h.75v11.47h-.75zM419.28 287.96h.75v13.44h-.75zM421.38 285.78h.75v15.62h-.75zM423.49 284.2h.75v17.2h-.75zM425.59 282.82h.75v18.58h-.75zM427.7 281.04h.75v20.36h-.75zM429.8 278.86h.75v22.54h-.75zM431.91 272.93h.75v28.47h-.75zM434.01 274.91h.75v26.49h-.75zM436.12 265.02h.75v36.38h-.75zM438.22 272.54h.75v28.86h-.75zM440.33 266.8h.75v34.6h-.75zM442.43 253.56h.75v47.84h-.75z"/>
<rect x="282.5" y="301.8" width="12.13" height="4.4" fill="#ff55ff"/>
<rect x="295.13" y="301.8" width="12.13" height="4.4" fill="#2a2aff"/>
<rect x="307.76" y="301.8" width="28.97" height="4.4" fill="#33ffff"/>
<rect x="337.23" y="301.8" width="12.13" height="4.4" fill="#ff8c1a"/>
<rect x="349.86" y="301.8" width="14.24" height="4.4" fill="#2a2aff"/>
<rect x="364.6" y="301.8" width="7.92" height="4.4" fill="#ffff00"/>
<rect x="373.02" y="301.8" width="22.66" height="4.4" fill="#00ee00"/>
<rect x="396.17" y="301.8" width="12.13" height="4.4" fill="#b83000"/>
<rect x="408.8" y="301.8" width="22.65" height="4.4" fill="#00ee00"/>
<rect x="431.96" y="301.8" width="1.61" height="4.4" fill="#ffff00"/>
<rect x="434.06" y="301.8" width="10.02" height="4.4" fill="#ff55ff"/>
<rect x="274.4" y="177.8" width="177.3" height="128.4" fill="none" stroke="#222" stroke-width="1.1"/>
<line x1="267.1" y1="301.4" x2="274.4" y2="301.4" stroke="#222" stroke-width="1.1"/>
<line x1="267.1" y1="281.63" x2="274.4" y2="281.63" stroke="#222" stroke-width="1.1"/>
<line x1="267.1" y1="261.86" x2="274.4" y2="261.86" stroke="#222" stroke-width="1.1"/>
<line x1="267.1" y1="242.09" x2="274.4" y2="242.09" stroke="#222" stroke-width="1.1"/>
<line x1="267.1" y1="222.32" x2="274.4" y2="222.32" stroke="#222" stroke-width="1.1"/>
<line x1="267.1" y1="202.55" x2="274.4" y2="202.55" stroke="#222" stroke-width="1.1"/>
<line x1="267.1" y1="182.78" x2="274.4" y2="182.78" stroke="#222" stroke-width="1.1"/>
<text transform="translate(263.3,301.4) rotate(-90)" font-size="11.4" text-anchor="middle" textLength="13.5" lengthAdjust="spacingAndGlyphs" fill="#222">0.0</text>
<text transform="translate(263.3,261.86) rotate(-90)" font-size="11.4" text-anchor="middle" textLength="13.5" lengthAdjust="spacingAndGlyphs" fill="#222">0.2</text>
<text transform="translate(263.3,222.32) rotate(-90)" font-size="11.4" text-anchor="middle" textLength="13.5" lengthAdjust="spacingAndGlyphs" fill="#222">0.4</text>
<text transform="translate(263.3,182.78) rotate(-90)" font-size="11.4" text-anchor="middle" textLength="13.5" lengthAdjust="spacingAndGlyphs" fill="#222">0.6</text>
<line x1="281.2" y1="306.2" x2="281.2" y2="313.7" stroke="#222" stroke-width="1.1"/>
<text x="281.2" y="325.6" font-size="10.8" text-anchor="middle" fill="#222">0</text>
<line x1="323.3" y1="306.2" x2="323.3" y2="313.7" stroke="#222" stroke-width="1.1"/>
<text x="323.3" y="325.6" font-size="10.8" text-anchor="middle" fill="#222">20</text>
<line x1="365.4" y1="306.2" x2="365.4" y2="313.7" stroke="#222" stroke-width="1.1"/>
<text x="365.4" y="325.6" font-size="10.8" text-anchor="middle" fill="#222">40</text>
<line x1="407.5" y1="306.2" x2="407.5" y2="313.7" stroke="#222" stroke-width="1.1"/>
<text x="407.5" y="325.6" font-size="10.8" text-anchor="middle" fill="#222">60</text>
<line x1="449.6" y1="306.2" x2="449.6" y2="313.7" stroke="#222" stroke-width="1.1"/>
<text x="449.6" y="325.6" font-size="10.8" text-anchor="middle" fill="#222">80</text>
<text x="447.7" y="195.5" font-size="17" font-weight="bold" text-anchor="end">10.0%</text>
<path fill="#8e8e8e" d="M489.36 180.8h1.6v120.6h-1.6zM491.46 225.88h1.6v75.52h-1.6zM493.56 249.21h1.6v52.19h-1.6zM495.67 259.88h1.6v41.52h-1.6zM497.77 270.16h1.6v31.24h-1.6zM499.88 275.11h1.6v26.29h-1.6zM501.99 281.04h1.6v20.36h-1.6zM504.09 285.19h1.6v16.21h-1.6zM506.19 288.75h1.6v12.65h-1.6zM508.3 289.14h1.6v12.26h-1.6zM510.4 288.15h1.6v13.25h-1.6zM512.51 295.07h1.6v6.33h-1.6zM514.62 295.67h1.6v5.73h-1.6zM516.72 293.29h1.6v8.11h-1.6zM518.83 293.69h1.6v7.71h-1.6zM520.93 292.9h1.6v8.5h-1.6zM523.03 287.76h1.6v13.64h-1.6zM525.14 285.78h1.6v15.62h-1.6zM527.25 276.89h1.6v24.51h-1.6zM529.35 279.06h1.6v22.34h-1.6zM531.46 279.85h1.6v21.55h-1.6zM533.56 281.43h1.6v19.97h-1.6zM535.66 283.21h1.6v18.19h-1.6zM537.77 287.56h1.6v13.84h-1.6zM539.88 292.5h1.6v8.9h-1.6zM541.98 292.11h1.6v9.29h-1.6zM544.09 288.35h1.6v13.05h-1.6zM546.19 291.12h1.6v10.28h-1.6zM548.29 291.71h1.6v9.69h-1.6zM550.4 293.1h1.6v8.3h-1.6zM552.5 295.07h1.6v6.33h-1.6zM554.61 295.07h1.6v6.33h-1.6zM556.72 294.09h1.6v7.31h-1.6zM558.82 295.67h1.6v5.73h-1.6zM560.92 294.09h1.6v7.31h-1.6zM563.03 291.51h1.6v9.88h-1.6zM565.13 295.07h1.6v6.33h-1.6zM567.24 297.45h1.6v3.95h-1.6zM569.35 299.03h1.6v2.37h-1.6zM571.45 299.03h1.6v2.37h-1.6zM573.55 299.23h1.6v2.17h-1.6zM575.66 297.84h1.6v3.56h-1.6zM577.76 295.07h1.6v6.33h-1.6zM579.87 293.89h1.6v7.51h-1.6zM581.98 290.72h1.6v10.68h-1.6zM584.08 291.51h1.6v9.88h-1.6zM586.19 292.9h1.6v8.5h-1.6zM588.29 292.11h1.6v9.29h-1.6zM590.39 290.33h1.6v11.07h-1.6zM592.5 289.14h1.6v12.26h-1.6zM594.61 289.93h1.6v11.47h-1.6zM596.71 287.96h1.6v13.44h-1.6zM598.81 283.8h1.6v17.6h-1.6zM600.92 281.04h1.6v20.36h-1.6zM603.02 281.83h1.6v19.57h-1.6zM605.13 286.37h1.6v15.03h-1.6zM607.24 290.53h1.6v10.87h-1.6zM609.34 290.53h1.6v10.87h-1.6zM611.45 290.33h1.6v11.07h-1.6zM613.55 290.72h1.6v10.68h-1.6zM615.65 290.33h1.6v11.07h-1.6zM617.76 286.57h1.6v14.83h-1.6zM619.87 285.19h1.6v16.21h-1.6zM621.97 286.77h1.6v14.63h-1.6zM624.07 290.33h1.6v11.07h-1.6zM626.18 290.72h1.6v10.68h-1.6zM628.28 290.33h1.6v11.07h-1.6zM630.39 292.11h1.6v9.29h-1.6zM632.5 292.11h1.6v9.29h-1.6zM634.6 292.11h1.6v9.29h-1.6zM636.71 292.11h1.6v9.29h-1.6zM638.81 292.9h1.6v8.5h-1.6zM640.91 286.37h1.6v15.03h-1.6zM643.02 285.98h1.6v15.42h-1.6zM645.12 289.14h1.6v12.26h-1.6zM647.23 299.62h1.6v1.78h-1.6zM649.34 268.19h1.6v33.21h-1.6z"/><path fill="#202020" d="M489.36 180.8h.75v120.6h-.75zM491.46 225.88h.75v75.52h-.75zM493.56 249.21h.75v52.19h-.75zM495.67 259.88h.75v41.52h-.75zM497.77 270.16h.75v31.24h-.75zM499.88 275.11h.75v26.29h-.75zM501.99 281.04h.75v20.36h-.75zM504.09 285.19h.75v16.21h-.75zM506.19 288.75h.75v12.65h-.75zM508.3 289.14h.75v12.26h-.75zM510.4 288.15h.75v13.25h-.75zM512.51 295.07h.75v6.33h-.75zM514.62 295.67h.75v5.73h-.75zM516.72 293.29h.75v8.11h-.75zM518.83 293.69h.75v7.71h-.75zM520.93 292.9h.75v8.5h-.75zM523.03 287.76h.75v13.64h-.75zM525.14 285.78h.75v15.62h-.75zM527.25 276.89h.75v24.51h-.75zM529.35 279.06h.75v22.34h-.75zM531.46 279.85h.75v21.55h-.75zM533.56 281.43h.75v19.97h-.75zM535.66 283.21h.75v18.19h-.75zM537.77 287.56h.75v13.84h-.75zM539.88 292.5h.75v8.9h-.75zM541.98 292.11h.75v9.29h-.75zM544.09 288.35h.75v13.05h-.75zM546.19 291.12h.75v10.28h-.75zM548.29 291.71h.75v9.69h-.75zM550.4 293.1h.75v8.3h-.75zM552.5 295.07h.75v6.33h-.75zM554.61 295.07h.75v6.33h-.75zM556.72 294.09h.75v7.31h-.75zM558.82 295.67h.75v5.73h-.75zM560.92 294.09h.75v7.31h-.75zM563.03 291.51h.75v9.88h-.75zM565.13 295.07h.75v6.33h-.75zM567.24 297.45h.75v3.95h-.75zM569.35 299.03h.75v2.37h-.75zM571.45 299.03h.75v2.37h-.75zM573.55 299.23h.75v2.17h-.75zM575.66 297.84h.75v3.56h-.75zM577.76 295.07h.75v6.33h-.75zM579.87 293.89h.75v7.51h-.75zM581.98 290.72h.75v10.68h-.75zM584.08 291.51h.75v9.88h-.75zM586.19 292.9h.75v8.5h-.75zM588.29 292.11h.75v9.29h-.75zM590.39 290.33h.75v11.07h-.75zM592.5 289.14h.75v12.26h-.75zM594.61 289.93h.75v11.47h-.75zM596.71 287.96h.75v13.44h-.75zM598.81 283.8h.75v17.6h-.75zM600.92 281.04h.75v20.36h-.75zM603.02 281.83h.75v19.57h-.75zM605.13 286.37h.75v15.03h-.75zM607.24 290.53h.75v10.87h-.75zM609.34 290.53h.75v10.87h-.75zM611.45 290.33h.75v11.07h-.75zM613.55 290.72h.75v10.68h-.75zM615.65 290.33h.75v11.07h-.75zM617.76 286.57h.75v14.83h-.75zM619.87 285.19h.75v16.21h-.75zM621.97 286.77h.75v14.63h-.75zM624.07 290.33h.75v11.07h-.75zM626.18 290.72h.75v10.68h-.75zM628.28 290.33h.75v11.07h-.75zM630.39 292.11h.75v9.29h-.75zM632.5 292.11h.75v9.29h-.75zM634.6 292.11h.75v9.29h-.75zM636.71 292.11h.75v9.29h-.75zM638.81 292.9h.75v8.5h-.75zM640.91 286.37h.75v15.03h-.75zM643.02 285.98h.75v15.42h-.75zM645.12 289.14h.75v12.26h-.75zM647.23 299.62h.75v1.78h-.75zM649.34 268.19h.75v33.21h-.75z"/>
<rect x="489.4" y="301.8" width="12.13" height="4.4" fill="#ff55ff"/>
<rect x="502.03" y="301.8" width="12.13" height="4.4" fill="#2a2aff"/>
<rect x="514.66" y="301.8" width="28.97" height="4.4" fill="#33ffff"/>
<rect x="544.13" y="301.8" width="12.13" height="4.4" fill="#ff8c1a"/>
<rect x="556.76" y="301.8" width="14.24" height="4.4" fill="#2a2aff"/>
<rect x="571.5" y="301.8" width="7.92" height="4.4" fill="#ffff00"/>
<rect x="579.92" y="301.8" width="22.65" height="4.4" fill="#00ee00"/>
<rect x="603.07" y="301.8" width="12.13" height="4.4" fill="#b83000"/>
<rect x="615.7" y="301.8" width="22.66" height="4.4" fill="#00ee00"/>
<rect x="638.86" y="301.8" width="1.61" height="4.4" fill="#ffff00"/>
<rect x="640.96" y="301.8" width="10.02" height="4.4" fill="#ff55ff"/>
<rect x="481.3" y="177.8" width="177.3" height="128.4" fill="none" stroke="#222" stroke-width="1.1"/>
<line x1="474" y1="301.4" x2="481.3" y2="301.4" stroke="#222" stroke-width="1.1"/>
<line x1="474" y1="281.63" x2="481.3" y2="281.63" stroke="#222" stroke-width="1.1"/>
<line x1="474" y1="261.86" x2="481.3" y2="261.86" stroke="#222" stroke-width="1.1"/>
<line x1="474" y1="242.09" x2="481.3" y2="242.09" stroke="#222" stroke-width="1.1"/>
<line x1="474" y1="222.32" x2="481.3" y2="222.32" stroke="#222" stroke-width="1.1"/>
<line x1="474" y1="202.55" x2="481.3" y2="202.55" stroke="#222" stroke-width="1.1"/>
<line x1="474" y1="182.78" x2="481.3" y2="182.78" stroke="#222" stroke-width="1.1"/>
<text transform="translate(470.2,301.4) rotate(-90)" font-size="11.4" text-anchor="middle" textLength="13.5" lengthAdjust="spacingAndGlyphs" fill="#222">0.0</text>
<text transform="translate(470.2,261.86) rotate(-90)" font-size="11.4" text-anchor="middle" textLength="13.5" lengthAdjust="spacingAndGlyphs" fill="#222">0.2</text>
<text transform="translate(470.2,222.32) rotate(-90)" font-size="11.4" text-anchor="middle" textLength="13.5" lengthAdjust="spacingAndGlyphs" fill="#222">0.4</text>
<text transform="translate(470.2,182.78) rotate(-90)" font-size="11.4" text-anchor="middle" textLength="13.5" lengthAdjust="spacingAndGlyphs" fill="#222">0.6</text>
<line x1="488.1" y1="306.2" x2="488.1" y2="313.7" stroke="#222" stroke-width="1.1"/>
<text x="488.1" y="325.6" font-size="10.8" text-anchor="middle" fill="#222">0</text>
<line x1="530.2" y1="306.2" x2="530.2" y2="313.7" stroke="#222" stroke-width="1.1"/>
<text x="530.2" y="325.6" font-size="10.8" text-anchor="middle" fill="#222">20</text>
<line x1="572.3" y1="306.2" x2="572.3" y2="313.7" stroke="#222" stroke-width="1.1"/>
<text x="572.3" y="325.6" font-size="10.8" text-anchor="middle" fill="#222">40</text>
<line x1="614.4" y1="306.2" x2="614.4" y2="313.7" stroke="#222" stroke-width="1.1"/>
<text x="614.4" y="325.6" font-size="10.8" text-anchor="middle" fill="#222">60</text>
<line x1="656.5" y1="306.2" x2="656.5" y2="313.7" stroke="#222" stroke-width="1.1"/>
<text x="656.5" y="325.6" font-size="10.8" text-anchor="middle" fill="#222">80</text>
<text x="650.4" y="195.5" font-size="17" font-weight="bold" text-anchor="end">6.8%</text>
<path fill="#8e8e8e" d="M77.56 358.65h1.6v98.65h-1.6zM79.66 397h1.6v60.3h-1.6zM81.77 416.97h1.6v40.33h-1.6zM83.87 437.13h1.6v20.17h-1.6zM85.98 447.02h1.6v10.28h-1.6zM88.08 448.01h1.6v9.29h-1.6zM90.19 449.19h1.6v8.11h-1.6zM92.29 448.4h1.6v8.9h-1.6zM94.4 448.01h1.6v9.29h-1.6zM96.5 448.01h1.6v9.29h-1.6zM98.61 449.19h1.6v8.11h-1.6zM100.71 451.96h1.6v5.34h-1.6zM102.81 453.15h1.6v4.15h-1.6zM104.92 450.38h1.6v6.92h-1.6zM107.03 447.02h1.6v10.28h-1.6zM109.13 443.86h1.6v13.44h-1.6zM111.23 438.52h1.6v18.78h-1.6zM113.34 435.55h1.6v21.75h-1.6zM115.44 436.15h1.6v21.15h-1.6zM117.55 442.27h1.6v15.03h-1.6zM119.66 441.48h1.6v15.82h-1.6zM121.76 440.1h1.6v17.2h-1.6zM123.87 440.89h1.6v16.41h-1.6zM125.97 441.48h1.6v15.82h-1.6zM128.08 441.88h1.6v15.42h-1.6zM130.18 443.86h1.6v13.44h-1.6zM132.28 446.43h1.6v10.87h-1.6zM134.39 448.4h1.6v8.9h-1.6zM136.5 448.01h1.6v9.29h-1.6zM138.6 450.18h1.6v7.12h-1.6zM140.71 452.75h1.6v4.55h-1.6zM142.81 449.79h1.6v7.51h-1.6zM144.91 444.45h1.6v12.85h-1.6zM147.02 428.24h1.6v29.06h-1.6zM149.12 429.62h1.6v27.68h-1.6zM151.23 402.54h1.6v54.76h-1.6zM153.34 434.96h1.6v22.34h-1.6zM155.44 446.23h1.6v11.07h-1.6zM157.54 451.37h1.6v5.93h-1.6zM159.65 455.52h1.6v1.78h-1.6zM161.75 452.95h1.6v4.35h-1.6zM163.86 449.19h1.6v8.11h-1.6zM165.97 446.82h1.6v10.48h-1.6zM168.07 440.5h1.6v16.8h-1.6zM170.17 437.93h1.6v19.37h-1.6zM172.28 450.18h1.6v7.12h-1.6zM174.39 449.39h1.6v7.91h-1.6zM176.49 449h1.6v8.3h-1.6zM178.59 451.76h1.6v5.54h-1.6zM180.7 446.23h1.6v11.07h-1.6zM182.81 443.26h1.6v14.04h-1.6zM184.91 440.1h1.6v17.2h-1.6zM187.02 439.31h1.6v17.99h-1.6zM189.12 440.5h1.6v16.8h-1.6zM191.22 447.22h1.6v10.08h-1.6zM193.33 455.52h1.6v1.78h-1.6zM195.44 450.18h1.6v7.12h-1.6zM197.54 449.39h1.6v7.91h-1.6zM199.65 448.21h1.6v9.09h-1.6zM201.75 450.58h1.6v6.72h-1.6zM203.85 451.17h1.6v6.13h-1.6zM205.96 446.23h1.6v11.07h-1.6zM208.07 434.56h1.6v22.74h-1.6zM210.17 439.51h1.6v17.79h-1.6zM212.28 444.05h1.6v13.25h-1.6zM214.38 444.45h1.6v12.85h-1.6zM216.48 442.27h1.6v15.03h-1.6zM218.59 439.51h1.6v17.79h-1.6zM220.7 438.72h1.6v18.58h-1.6zM222.8 443.26h1.6v14.04h-1.6zM224.91 444.05h1.6v13.25h-1.6zM227.01 446.82h1.6v10.48h-1.6zM229.11 451.17h1.6v6.13h-1.6zM231.22 451.76h1.6v5.54h-1.6zM233.33 427.25h1.6v30.05h-1.6zM235.43 405.3h1.6v52h-1.6zM237.53 411.24h1.6v46.06h-1.6zM239.64 400.16h1.6v57.14h-1.6z"/><path fill="#202020" d="M77.56 358.65h.75v98.65h-.75zM79.66 397h.75v60.3h-.75zM81.77 416.97h.75v40.33h-.75zM83.87 437.13h.75v20.17h-.75zM85.98 447.02h.75v10.28h-.75zM88.08 448.01h.75v9.29h-.75zM90.19 449.19h.75v8.11h-.75zM92.29 448.4h.75v8.9h-.75zM94.4 448.01h.75v9.29h-.75zM96.5 448.01h.75v9.29h-.75zM98.61 449.19h.75v8.11h-.75zM100.71 451.96h.75v5.34h-.75zM102.81 453.15h.75v4.15h-.75zM104.92 450.38h.75v6.92h-.75zM107.03 447.02h.75v10.28h-.75zM109.13 443.86h.75v13.44h-.75zM111.23 438.52h.75v18.78h-.75zM113.34 435.55h.75v21.75h-.75zM115.44 436.15h.75v21.15h-.75zM117.55 442.27h.75v15.03h-.75zM119.66 441.48h.75v15.82h-.75zM121.76 440.1h.75v17.2h-.75zM123.87 440.89h.75v16.41h-.75zM125.97 441.48h.75v15.82h-.75zM128.08 441.88h.75v15.42h-.75zM130.18 443.86h.75v13.44h-.75zM132.28 446.43h.75v10.87h-.75zM134.39 448.4h.75v8.9h-.75zM136.5 448.01h.75v9.29h-.75zM138.6 450.18h.75v7.12h-.75zM140.71 452.75h.75v4.55h-.75zM142.81 449.79h.75v7.51h-.75zM144.91 444.45h.75v12.85h-.75zM147.02 428.24h.75v29.06h-.75zM149.12 429.62h.75v27.68h-.75zM151.23 402.54h.75v54.76h-.75zM153.34 434.96h.75v22.34h-.75zM155.44 446.23h.75v11.07h-.75zM157.54 451.37h.75v5.93h-.75zM159.65 455.52h.75v1.78h-.75zM161.75 452.95h.75v4.35h-.75zM163.86 449.19h.75v8.11h-.75zM165.97 446.82h.75v10.48h-.75zM168.07 440.5h.75v16.8h-.75zM170.17 437.93h.75v19.37h-.75zM172.28 450.18h.75v7.12h-.75zM174.39 449.39h.75v7.91h-.75zM176.49 449h.75v8.3h-.75zM178.59 451.76h.75v5.54h-.75zM180.7 446.23h.75v11.07h-.75zM182.81 443.26h.75v14.04h-.75zM184.91 440.1h.75v17.2h-.75zM187.02 439.31h.75v17.99h-.75zM189.12 440.5h.75v16.8h-.75zM191.22 447.22h.75v10.08h-.75zM193.33 455.52h.75v1.78h-.75zM195.44 450.18h.75v7.12h-.75zM197.54 449.39h.75v7.91h-.75zM199.65 448.21h.75v9.09h-.75zM201.75 450.58h.75v6.72h-.75zM203.85 451.17h.75v6.13h-.75zM205.96 446.23h.75v11.07h-.75zM208.07 434.56h.75v22.74h-.75zM210.17 439.51h.75v17.79h-.75zM212.28 444.05h.75v13.25h-.75zM214.38 444.45h.75v12.85h-.75zM216.48 442.27h.75v15.03h-.75zM218.59 439.51h.75v17.79h-.75zM220.7 438.72h.75v18.58h-.75zM222.8 443.26h.75v14.04h-.75zM224.91 444.05h.75v13.25h-.75zM227.01 446.82h.75v10.48h-.75zM229.11 451.17h.75v6.13h-.75zM231.22 451.76h.75v5.54h-.75zM233.33 427.25h.75v30.05h-.75zM235.43 405.3h.75v52h-.75zM237.53 411.24h.75v46.06h-.75zM239.64 400.16h.75v57.14h-.75z"/>
<rect x="77.6" y="457.7" width="7.92" height="4" fill="#ff55ff"/>
<rect x="86.02" y="457.7" width="12.13" height="4" fill="#2a2aff"/>
<rect x="98.65" y="457.7" width="37.39" height="4" fill="#33ffff"/>
<rect x="136.54" y="457.7" width="12.13" height="4" fill="#ff8c1a"/>
<rect x="149.17" y="457.7" width="14.23" height="4" fill="#2a2aff"/>
<rect x="163.91" y="457.7" width="7.92" height="4" fill="#ffff00"/>
<rect x="172.33" y="457.7" width="22.66" height="4" fill="#00ee00"/>
<rect x="195.48" y="457.7" width="12.13" height="4" fill="#b83000"/>
<rect x="208.11" y="457.7" width="22.65" height="4" fill="#00ee00"/>
<rect x="231.27" y="457.7" width="1.61" height="4" fill="#ffff00"/>
<rect x="233.37" y="457.7" width="7.92" height="4" fill="#ff55ff"/>
<rect x="69.5" y="333.7" width="177.3" height="128" fill="none" stroke="#222" stroke-width="1.1"/>
<line x1="62.2" y1="457.3" x2="69.5" y2="457.3" stroke="#222" stroke-width="1.1"/>
<line x1="62.2" y1="437.53" x2="69.5" y2="437.53" stroke="#222" stroke-width="1.1"/>
<line x1="62.2" y1="417.76" x2="69.5" y2="417.76" stroke="#222" stroke-width="1.1"/>
<line x1="62.2" y1="397.99" x2="69.5" y2="397.99" stroke="#222" stroke-width="1.1"/>
<line x1="62.2" y1="378.22" x2="69.5" y2="378.22" stroke="#222" stroke-width="1.1"/>
<line x1="62.2" y1="358.45" x2="69.5" y2="358.45" stroke="#222" stroke-width="1.1"/>
<line x1="62.2" y1="338.68" x2="69.5" y2="338.68" stroke="#222" stroke-width="1.1"/>
<text transform="translate(58.4,457.3) rotate(-90)" font-size="11.4" text-anchor="middle" textLength="13.5" lengthAdjust="spacingAndGlyphs" fill="#222">0.0</text>
<text transform="translate(58.4,417.76) rotate(-90)" font-size="11.4" text-anchor="middle" textLength="13.5" lengthAdjust="spacingAndGlyphs" fill="#222">0.2</text>
<text transform="translate(58.4,378.22) rotate(-90)" font-size="11.4" text-anchor="middle" textLength="13.5" lengthAdjust="spacingAndGlyphs" fill="#222">0.4</text>
<text transform="translate(58.4,338.68) rotate(-90)" font-size="11.4" text-anchor="middle" textLength="13.5" lengthAdjust="spacingAndGlyphs" fill="#222">0.6</text>
<line x1="76.3" y1="461.7" x2="76.3" y2="469.2" stroke="#222" stroke-width="1.1"/>
<text x="76.3" y="481.1" font-size="10.8" text-anchor="middle" fill="#222">0</text>
<line x1="118.4" y1="461.7" x2="118.4" y2="469.2" stroke="#222" stroke-width="1.1"/>
<text x="118.4" y="481.1" font-size="10.8" text-anchor="middle" fill="#222">20</text>
<line x1="160.5" y1="461.7" x2="160.5" y2="469.2" stroke="#222" stroke-width="1.1"/>
<text x="160.5" y="481.1" font-size="10.8" text-anchor="middle" fill="#222">40</text>
<line x1="202.6" y1="461.7" x2="202.6" y2="469.2" stroke="#222" stroke-width="1.1"/>
<text x="202.6" y="481.1" font-size="10.8" text-anchor="middle" fill="#222">60</text>
<line x1="244.7" y1="461.7" x2="244.7" y2="469.2" stroke="#222" stroke-width="1.1"/>
<text x="244.7" y="481.1" font-size="10.8" text-anchor="middle" fill="#222">80</text>
<text x="244.0" y="351.4" font-size="17" font-weight="bold" text-anchor="end">41.6%</text>
<path fill="#8e8e8e" d="M282.45 385.93h1.6v71.37h-1.6zM284.56 413.21h1.6v44.09h-1.6zM286.66 427.84h1.6v29.46h-1.6zM288.77 434.76h1.6v22.54h-1.6zM290.87 441.29h1.6v16.01h-1.6zM292.98 448.8h1.6v8.5h-1.6zM295.08 452.75h1.6v4.55h-1.6zM297.19 451.76h1.6v5.54h-1.6zM299.29 450.18h1.6v7.12h-1.6zM301.4 447.81h1.6v9.49h-1.6zM303.5 447.42h1.6v9.88h-1.6zM305.61 446.23h1.6v11.07h-1.6zM307.71 446.23h1.6v11.07h-1.6zM309.82 448.01h1.6v9.29h-1.6zM311.92 449.79h1.6v7.51h-1.6zM314.03 444.45h1.6v12.85h-1.6zM316.13 430.41h1.6v26.89h-1.6zM318.24 423.69h1.6v33.61h-1.6zM320.34 406.29h1.6v51.01h-1.6zM322.45 393.25h1.6v64.05h-1.6zM324.55 397.99h1.6v59.31h-1.6zM326.66 404.12h1.6v53.18h-1.6zM328.76 425.67h1.6v31.63h-1.6zM330.87 432.39h1.6v24.91h-1.6zM332.97 434.56h1.6v22.74h-1.6zM335.08 437.73h1.6v19.57h-1.6zM337.18 436.94h1.6v20.36h-1.6zM339.29 439.11h1.6v18.19h-1.6zM341.39 443.86h1.6v13.44h-1.6zM343.5 450.78h1.6v6.52h-1.6zM345.6 450.78h1.6v6.52h-1.6zM347.71 446.43h1.6v10.87h-1.6zM349.81 444.84h1.6v12.46h-1.6zM351.92 442.27h1.6v15.03h-1.6zM354.02 440.89h1.6v16.41h-1.6zM356.13 439.51h1.6v17.79h-1.6zM358.23 443.07h1.6v14.23h-1.6zM360.34 445.83h1.6v11.47h-1.6zM362.44 448.8h1.6v8.5h-1.6zM364.55 451.17h1.6v6.13h-1.6zM366.65 451.17h1.6v6.13h-1.6zM368.76 446.62h1.6v10.68h-1.6zM370.86 444.05h1.6v13.25h-1.6zM372.97 443.86h1.6v13.44h-1.6zM375.07 450.18h1.6v7.12h-1.6zM377.18 454.33h1.6v2.97h-1.6zM379.28 452.56h1.6v4.74h-1.6zM381.39 448.21h1.6v9.09h-1.6zM383.49 442.27h1.6v15.03h-1.6zM385.6 436.15h1.6v21.15h-1.6zM387.7 431.99h1.6v25.31h-1.6zM389.81 434.37h1.6v22.93h-1.6zM391.91 436.94h1.6v20.36h-1.6zM394.02 439.31h1.6v17.99h-1.6zM396.12 444.05h1.6v13.25h-1.6zM398.23 446.82h1.6v10.48h-1.6zM400.33 445.83h1.6v11.47h-1.6zM402.44 444.05h1.6v13.25h-1.6zM404.54 442.27h1.6v15.03h-1.6zM406.65 443.86h1.6v13.44h-1.6zM408.75 445.83h1.6v11.47h-1.6zM410.86 445.83h1.6v11.47h-1.6zM412.96 444.45h1.6v12.85h-1.6zM415.07 449.19h1.6v8.11h-1.6zM417.17 444.45h1.6v12.85h-1.6zM419.28 444.45h1.6v12.85h-1.6zM421.38 442.27h1.6v15.03h-1.6zM423.49 442.87h1.6v14.43h-1.6zM425.59 443.26h1.6v14.04h-1.6zM427.7 441.29h1.6v16.01h-1.6zM429.8 438.91h1.6v18.39h-1.6zM431.91 441.48h1.6v15.82h-1.6zM434.01 447.81h1.6v9.49h-1.6zM436.12 452.56h1.6v4.74h-1.6zM438.22 443.86h1.6v13.44h-1.6zM440.33 427.25h1.6v30.05h-1.6zM442.43 430.61h1.6v26.69h-1.6zM444.54 437.93h1.6v19.37h-1.6z"/><path fill="#202020" d="M282.45 385.93h.75v71.37h-.75zM284.56 413.21h.75v44.09h-.75zM286.66 427.84h.75v29.46h-.75zM288.77 434.76h.75v22.54h-.75zM290.87 441.29h.75v16.01h-.75zM292.98 448.8h.75v8.5h-.75zM295.08 452.75h.75v4.55h-.75zM297.19 451.76h.75v5.54h-.75zM299.29 450.18h.75v7.12h-.75zM301.4 447.81h.75v9.49h-.75zM303.5 447.42h.75v9.88h-.75zM305.61 446.23h.75v11.07h-.75zM307.71 446.23h.75v11.07h-.75zM309.82 448.01h.75v9.29h-.75zM311.92 449.79h.75v7.51h-.75zM314.03 444.45h.75v12.85h-.75zM316.13 430.41h.75v26.89h-.75zM318.24 423.69h.75v33.61h-.75zM320.34 406.29h.75v51.01h-.75zM322.45 393.25h.75v64.05h-.75zM324.55 397.99h.75v59.31h-.75zM326.66 404.12h.75v53.18h-.75zM328.76 425.67h.75v31.63h-.75zM330.87 432.39h.75v24.91h-.75zM332.97 434.56h.75v22.74h-.75zM335.08 437.73h.75v19.57h-.75zM337.18 436.94h.75v20.36h-.75zM339.29 439.11h.75v18.19h-.75zM341.39 443.86h.75v13.44h-.75zM343.5 450.78h.75v6.52h-.75zM345.6 450.78h.75v6.52h-.75zM347.71 446.43h.75v10.87h-.75zM349.81 444.84h.75v12.46h-.75zM351.92 442.27h.75v15.03h-.75zM354.02 440.89h.75v16.41h-.75zM356.13 439.51h.75v17.79h-.75zM358.23 443.07h.75v14.23h-.75zM360.34 445.83h.75v11.47h-.75zM362.44 448.8h.75v8.5h-.75zM364.55 451.17h.75v6.13h-.75zM366.65 451.17h.75v6.13h-.75zM368.76 446.62h.75v10.68h-.75zM370.86 444.05h.75v13.25h-.75zM372.97 443.86h.75v13.44h-.75zM375.07 450.18h.75v7.12h-.75zM377.18 454.33h.75v2.97h-.75zM379.28 452.56h.75v4.74h-.75zM381.39 448.21h.75v9.09h-.75zM383.49 442.27h.75v15.03h-.75zM385.6 436.15h.75v21.15h-.75zM387.7 431.99h.75v25.31h-.75zM389.81 434.37h.75v22.93h-.75zM391.91 436.94h.75v20.36h-.75zM394.02 439.31h.75v17.99h-.75zM396.12 444.05h.75v13.25h-.75zM398.23 446.82h.75v10.48h-.75zM400.33 445.83h.75v11.47h-.75zM402.44 444.05h.75v13.25h-.75zM404.54 442.27h.75v15.03h-.75zM406.65 443.86h.75v13.44h-.75zM408.75 445.83h.75v11.47h-.75zM410.86 445.83h.75v11.47h-.75zM412.96 444.45h.75v12.85h-.75zM415.07 449.19h.75v8.11h-.75zM417.17 444.45h.75v12.85h-.75zM419.28 444.45h.75v12.85h-.75zM421.38 442.27h.75v15.03h-.75zM423.49 442.87h.75v14.43h-.75zM425.59 443.26h.75v14.04h-.75zM427.7 441.29h.75v16.01h-.75zM429.8 438.91h.75v18.39h-.75zM431.91 441.48h.75v15.82h-.75zM434.01 447.81h.75v9.49h-.75zM436.12 452.56h.75v4.74h-.75zM438.22 443.86h.75v13.44h-.75zM440.33 427.25h.75v30.05h-.75zM442.43 430.61h.75v26.69h-.75zM444.54 437.93h.75v19.37h-.75z"/>
<rect x="282.5" y="457.7" width="7.92" height="4" fill="#ff55ff"/>
<rect x="290.92" y="457.7" width="12.13" height="4" fill="#2a2aff"/>
<rect x="303.55" y="457.7" width="37.39" height="4" fill="#33ffff"/>
<rect x="341.44" y="457.7" width="12.13" height="4" fill="#ff8c1a"/>
<rect x="354.07" y="457.7" width="14.24" height="4" fill="#2a2aff"/>
<rect x="368.81" y="457.7" width="7.92" height="4" fill="#ffff00"/>
<rect x="377.23" y="457.7" width="22.66" height="4" fill="#00ee00"/>
<rect x="400.38" y="457.7" width="12.13" height="4" fill="#b83000"/>
<rect x="413.01" y="457.7" width="22.66" height="4" fill="#00ee00"/>
<rect x="436.17" y="457.7" width="1.6" height="4" fill="#ffff00"/>
<rect x="438.27" y="457.7" width="7.92" height="4" fill="#ff55ff"/>
<rect x="274.4" y="333.7" width="177.3" height="128" fill="none" stroke="#222" stroke-width="1.1"/>
<line x1="267.1" y1="457.3" x2="274.4" y2="457.3" stroke="#222" stroke-width="1.1"/>
<line x1="267.1" y1="437.53" x2="274.4" y2="437.53" stroke="#222" stroke-width="1.1"/>
<line x1="267.1" y1="417.76" x2="274.4" y2="417.76" stroke="#222" stroke-width="1.1"/>
<line x1="267.1" y1="397.99" x2="274.4" y2="397.99" stroke="#222" stroke-width="1.1"/>
<line x1="267.1" y1="378.22" x2="274.4" y2="378.22" stroke="#222" stroke-width="1.1"/>
<line x1="267.1" y1="358.45" x2="274.4" y2="358.45" stroke="#222" stroke-width="1.1"/>
<line x1="267.1" y1="338.68" x2="274.4" y2="338.68" stroke="#222" stroke-width="1.1"/>
<text transform="translate(263.3,457.3) rotate(-90)" font-size="11.4" text-anchor="middle" textLength="13.5" lengthAdjust="spacingAndGlyphs" fill="#222">0.0</text>
<text transform="translate(263.3,417.76) rotate(-90)" font-size="11.4" text-anchor="middle" textLength="13.5" lengthAdjust="spacingAndGlyphs" fill="#222">0.2</text>
<text transform="translate(263.3,378.22) rotate(-90)" font-size="11.4" text-anchor="middle" textLength="13.5" lengthAdjust="spacingAndGlyphs" fill="#222">0.4</text>
<text transform="translate(263.3,338.68) rotate(-90)" font-size="11.4" text-anchor="middle" textLength="13.5" lengthAdjust="spacingAndGlyphs" fill="#222">0.6</text>
<line x1="281.2" y1="461.7" x2="281.2" y2="469.2" stroke="#222" stroke-width="1.1"/>
<text x="281.2" y="481.1" font-size="10.8" text-anchor="middle" fill="#222">0</text>
<line x1="323.3" y1="461.7" x2="323.3" y2="469.2" stroke="#222" stroke-width="1.1"/>
<text x="323.3" y="481.1" font-size="10.8" text-anchor="middle" fill="#222">20</text>
<line x1="365.4" y1="461.7" x2="365.4" y2="469.2" stroke="#222" stroke-width="1.1"/>
<text x="365.4" y="481.1" font-size="10.8" text-anchor="middle" fill="#222">40</text>
<line x1="407.5" y1="461.7" x2="407.5" y2="469.2" stroke="#222" stroke-width="1.1"/>
<text x="407.5" y="481.1" font-size="10.8" text-anchor="middle" fill="#222">60</text>
<line x1="449.6" y1="461.7" x2="449.6" y2="469.2" stroke="#222" stroke-width="1.1"/>
<text x="449.6" y="481.1" font-size="10.8" text-anchor="middle" fill="#222">80</text>
<text x="447.7" y="351.4" font-size="17" font-weight="bold" text-anchor="end">12.8%</text>
<path fill="#8e8e8e" d="M489.36 370.51h1.6v86.79h-1.6zM491.46 376.64h1.6v80.66h-1.6zM493.56 398.39h1.6v58.91h-1.6zM495.67 415.19h1.6v42.11h-1.6zM497.77 441.88h1.6v15.42h-1.6zM499.88 447.42h1.6v9.88h-1.6zM501.99 447.02h1.6v10.28h-1.6zM504.09 449.79h1.6v7.51h-1.6zM506.19 450.18h1.6v7.12h-1.6zM508.3 448.8h1.6v8.5h-1.6zM510.4 449.19h1.6v8.11h-1.6zM512.51 449.19h1.6v8.11h-1.6zM514.62 448.01h1.6v9.29h-1.6zM516.72 451.17h1.6v6.13h-1.6zM518.83 452.36h1.6v4.94h-1.6zM520.93 448.4h1.6v8.9h-1.6zM523.03 448.8h1.6v8.5h-1.6zM525.14 434.56h1.6v22.74h-1.6zM527.25 412.22h1.6v45.08h-1.6zM529.35 414.79h1.6v42.51h-1.6zM531.46 414.2h1.6v43.1h-1.6zM533.56 427.84h1.6v29.46h-1.6zM535.66 435.16h1.6v22.14h-1.6zM537.77 435.16h1.6v22.14h-1.6zM539.88 438.12h1.6v19.18h-1.6zM541.98 442.47h1.6v14.83h-1.6zM544.09 442.47h1.6v14.83h-1.6zM546.19 444.45h1.6v12.85h-1.6zM548.29 449.19h1.6v8.11h-1.6zM550.4 451.76h1.6v5.54h-1.6zM552.5 452.36h1.6v4.94h-1.6zM554.61 451.57h1.6v5.73h-1.6zM556.72 444.45h1.6v12.85h-1.6zM558.82 439.51h1.6v17.79h-1.6zM560.92 423.3h1.6v34h-1.6zM563.03 429.62h1.6v27.68h-1.6zM565.13 438.12h1.6v19.18h-1.6zM567.24 447.81h1.6v9.49h-1.6zM569.35 451.57h1.6v5.73h-1.6zM571.45 451.57h1.6v5.73h-1.6zM573.55 449.19h1.6v8.11h-1.6zM575.66 449.39h1.6v7.91h-1.6zM577.76 449.39h1.6v7.91h-1.6zM579.87 448.21h1.6v9.09h-1.6zM581.98 449.79h1.6v7.51h-1.6zM584.08 451.57h1.6v5.73h-1.6zM586.19 452.56h1.6v4.74h-1.6zM588.29 452.95h1.6v4.35h-1.6zM590.39 452.95h1.6v4.35h-1.6zM592.5 452.95h1.6v4.35h-1.6zM594.61 451.17h1.6v6.13h-1.6zM596.71 449.19h1.6v8.11h-1.6zM598.81 449.19h1.6v8.11h-1.6zM600.92 446.23h1.6v11.07h-1.6zM603.02 444.45h1.6v12.85h-1.6zM605.13 447.61h1.6v9.69h-1.6zM607.24 448.21h1.6v9.09h-1.6zM609.34 446.23h1.6v11.07h-1.6zM611.45 446.23h1.6v11.07h-1.6zM613.55 448.21h1.6v9.09h-1.6zM615.65 448.4h1.6v8.9h-1.6zM617.76 443.26h1.6v14.04h-1.6zM619.87 443.26h1.6v14.04h-1.6zM621.97 445.83h1.6v11.47h-1.6zM624.07 449.79h1.6v7.51h-1.6zM626.18 449.79h1.6v7.51h-1.6zM628.28 449.79h1.6v7.51h-1.6zM630.39 453.15h1.6v4.15h-1.6zM632.5 452.16h1.6v5.14h-1.6zM634.6 452.16h1.6v5.14h-1.6zM636.71 453.54h1.6v3.76h-1.6zM638.81 454.14h1.6v3.16h-1.6zM640.91 451.76h1.6v5.54h-1.6zM643.02 447.81h1.6v9.49h-1.6zM645.12 447.81h1.6v9.49h-1.6zM647.23 447.81h1.6v9.49h-1.6zM649.34 439.11h1.6v18.19h-1.6zM651.44 397.99h1.6v59.31h-1.6z"/><path fill="#202020" d="M489.36 370.51h.75v86.79h-.75zM491.46 376.64h.75v80.66h-.75zM493.56 398.39h.75v58.91h-.75zM495.67 415.19h.75v42.11h-.75zM497.77 441.88h.75v15.42h-.75zM499.88 447.42h.75v9.88h-.75zM501.99 447.02h.75v10.28h-.75zM504.09 449.79h.75v7.51h-.75zM506.19 450.18h.75v7.12h-.75zM508.3 448.8h.75v8.5h-.75zM510.4 449.19h.75v8.11h-.75zM512.51 449.19h.75v8.11h-.75zM514.62 448.01h.75v9.29h-.75zM516.72 451.17h.75v6.13h-.75zM518.83 452.36h.75v4.94h-.75zM520.93 448.4h.75v8.9h-.75zM523.03 448.8h.75v8.5h-.75zM525.14 434.56h.75v22.74h-.75zM527.25 412.22h.75v45.08h-.75zM529.35 414.79h.75v42.51h-.75zM531.46 414.2h.75v43.1h-.75zM533.56 427.84h.75v29.46h-.75zM535.66 435.16h.75v22.14h-.75zM537.77 435.16h.75v22.14h-.75zM539.88 438.12h.75v19.18h-.75zM541.98 442.47h.75v14.83h-.75zM544.09 442.47h.75v14.83h-.75zM546.19 444.45h.75v12.85h-.75zM548.29 449.19h.75v8.11h-.75zM550.4 451.76h.75v5.54h-.75zM552.5 452.36h.75v4.94h-.75zM554.61 451.57h.75v5.73h-.75zM556.72 444.45h.75v12.85h-.75zM558.82 439.51h.75v17.79h-.75zM560.92 423.3h.75v34h-.75zM563.03 429.62h.75v27.68h-.75zM565.13 438.12h.75v19.18h-.75zM567.24 447.81h.75v9.49h-.75zM569.35 451.57h.75v5.73h-.75zM571.45 451.57h.75v5.73h-.75zM573.55 449.19h.75v8.11h-.75zM575.66 449.39h.75v7.91h-.75zM577.76 449.39h.75v7.91h-.75zM579.87 448.21h.75v9.09h-.75zM581.98 449.79h.75v7.51h-.75zM584.08 451.57h.75v5.73h-.75zM586.19 452.56h.75v4.74h-.75zM588.29 452.95h.75v4.35h-.75zM590.39 452.95h.75v4.35h-.75zM592.5 452.95h.75v4.35h-.75zM594.61 451.17h.75v6.13h-.75zM596.71 449.19h.75v8.11h-.75zM598.81 449.19h.75v8.11h-.75zM600.92 446.23h.75v11.07h-.75zM603.02 444.45h.75v12.85h-.75zM605.13 447.61h.75v9.69h-.75zM607.24 448.21h.75v9.09h-.75zM609.34 446.23h.75v11.07h-.75zM611.45 446.23h.75v11.07h-.75zM613.55 448.21h.75v9.09h-.75zM615.65 448.4h.75v8.9h-.75zM617.76 443.26h.75v14.04h-.75zM619.87 443.26h.75v14.04h-.75zM621.97 445.83h.75v11.47h-.75zM624.07 449.79h.75v7.51h-.75zM626.18 449.79h.75v7.51h-.75zM628.28 449.79h.75v7.51h-.75zM630.39 453.15h.75v4.15h-.75zM632.5 452.16h.75v5.14h-.75zM634.6 452.16h.75v5.14h-.75zM636.71 453.54h.75v3.76h-.75zM638.81 454.14h.75v3.16h-.75zM640.91 451.76h.75v5.54h-.75zM643.02 447.81h.75v9.49h-.75zM645.12 447.81h.75v9.49h-.75zM647.23 447.81h.75v9.49h-.75zM649.34 439.11h.75v18.19h-.75zM651.44 397.99h.75v59.31h-.75z"/>
<rect x="489.4" y="457.7" width="7.92" height="4" fill="#ff55ff"/>
<rect x="497.82" y="457.7" width="12.13" height="4" fill="#2a2aff"/>
<rect x="510.45" y="457.7" width="37.39" height="4" fill="#33ffff"/>
<rect x="548.34" y="457.7" width="12.13" height="4" fill="#ff8c1a"/>
<rect x="560.97" y="457.7" width="14.23" height="4" fill="#2a2aff"/>
<rect x="575.71" y="457.7" width="7.92" height="4" fill="#ffff00"/>
<rect x="584.13" y="457.7" width="22.65" height="4" fill="#00ee00"/>
<rect x="607.28" y="457.7" width="12.13" height="4" fill="#b83000"/>
<rect x="619.91" y="457.7" width="22.65" height="4" fill="#00ee00"/>
<rect x="643.07" y="457.7" width="1.61" height="4" fill="#ffff00"/>
<rect x="645.17" y="457.7" width="7.92" height="4" fill="#ff55ff"/>
<rect x="481.3" y="333.7" width="177.3" height="128" fill="none" stroke="#222" stroke-width="1.1"/>
<line x1="474" y1="457.3" x2="481.3" y2="457.3" stroke="#222" stroke-width="1.1"/>
<line x1="474" y1="437.53" x2="481.3" y2="437.53" stroke="#222" stroke-width="1.1"/>
<line x1="474" y1="417.76" x2="481.3" y2="417.76" stroke="#222" stroke-width="1.1"/>
<line x1="474" y1="397.99" x2="481.3" y2="397.99" stroke="#222" stroke-width="1.1"/>
<line x1="474" y1="378.22" x2="481.3" y2="378.22" stroke="#222" stroke-width="1.1"/>
<line x1="474" y1="358.45" x2="481.3" y2="358.45" stroke="#222" stroke-width="1.1"/>
<line x1="474" y1="338.68" x2="481.3" y2="338.68" stroke="#222" stroke-width="1.1"/>
<text transform="translate(470.2,457.3) rotate(-90)" font-size="11.4" text-anchor="middle" textLength="13.5" lengthAdjust="spacingAndGlyphs" fill="#222">0.0</text>
<text transform="translate(470.2,417.76) rotate(-90)" font-size="11.4" text-anchor="middle" textLength="13.5" lengthAdjust="spacingAndGlyphs" fill="#222">0.2</text>
<text transform="translate(470.2,378.22) rotate(-90)" font-size="11.4" text-anchor="middle" textLength="13.5" lengthAdjust="spacingAndGlyphs" fill="#222">0.4</text>
<text transform="translate(470.2,338.68) rotate(-90)" font-size="11.4" text-anchor="middle" textLength="13.5" lengthAdjust="spacingAndGlyphs" fill="#222">0.6</text>
<line x1="488.1" y1="461.7" x2="488.1" y2="469.2" stroke="#222" stroke-width="1.1"/>
<text x="488.1" y="481.1" font-size="10.8" text-anchor="middle" fill="#222">0</text>
<line x1="530.2" y1="461.7" x2="530.2" y2="469.2" stroke="#222" stroke-width="1.1"/>
<text x="530.2" y="481.1" font-size="10.8" text-anchor="middle" fill="#222">20</text>
<line x1="572.3" y1="461.7" x2="572.3" y2="469.2" stroke="#222" stroke-width="1.1"/>
<text x="572.3" y="481.1" font-size="10.8" text-anchor="middle" fill="#222">40</text>
<line x1="614.4" y1="461.7" x2="614.4" y2="469.2" stroke="#222" stroke-width="1.1"/>
<text x="614.4" y="481.1" font-size="10.8" text-anchor="middle" fill="#222">60</text>
<line x1="656.5" y1="461.7" x2="656.5" y2="469.2" stroke="#222" stroke-width="1.1"/>
<text x="656.5" y="481.1" font-size="10.8" text-anchor="middle" fill="#222">80</text>
<text x="650.0" y="351.4" font-size="17" font-weight="bold" text-anchor="end">7.2%</text>
<path fill="#8e8e8e" d="M77.56 542.2h1.6v68.8h-1.6zM79.66 518.48h1.6v92.52h-1.6zM81.77 535.28h1.6v75.72h-1.6zM83.87 555.05h1.6v55.95h-1.6zM85.98 575.22h1.6v35.78h-1.6zM88.08 589.45h1.6v21.55h-1.6zM90.19 594h1.6v17h-1.6zM92.29 597.16h1.6v13.84h-1.6zM94.4 599.14h1.6v11.86h-1.6zM96.5 601.51h1.6v9.49h-1.6zM98.61 604.67h1.6v6.33h-1.6zM100.71 607.05h1.6v3.95h-1.6zM102.81 606.45h1.6v4.55h-1.6zM104.92 603.69h1.6v7.31h-1.6zM107.03 602.1h1.6v8.9h-1.6zM109.13 601.51h1.6v9.49h-1.6zM111.23 601.12h1.6v9.88h-1.6zM113.34 599.73h1.6v11.27h-1.6zM115.44 598.35h1.6v12.65h-1.6zM117.55 602.1h1.6v8.9h-1.6zM119.66 595.78h1.6v15.22h-1.6zM121.76 597.95h1.6v13.05h-1.6zM123.87 602.1h1.6v8.9h-1.6zM125.97 603.69h1.6v7.31h-1.6zM128.08 601.12h1.6v9.88h-1.6zM130.18 600.13h1.6v10.87h-1.6zM132.28 603.09h1.6v7.91h-1.6zM134.39 602.89h1.6v8.11h-1.6zM136.5 601.12h1.6v9.88h-1.6zM138.6 597.16h1.6v13.84h-1.6zM140.71 601.12h1.6v9.88h-1.6zM142.81 605.66h1.6v5.34h-1.6zM144.91 602.1h1.6v8.9h-1.6zM147.02 596.17h1.6v14.83h-1.6zM149.12 594.79h1.6v16.21h-1.6zM151.23 597.75h1.6v13.25h-1.6zM153.34 598.74h1.6v12.26h-1.6zM155.44 600.13h1.6v10.87h-1.6zM157.54 597.16h1.6v13.84h-1.6zM159.65 594.39h1.6v16.61h-1.6zM161.75 593.8h1.6v17.2h-1.6zM163.86 596.77h1.6v14.23h-1.6zM165.97 600.52h1.6v10.48h-1.6zM168.07 602.89h1.6v8.11h-1.6zM170.17 605.27h1.6v5.73h-1.6zM172.28 606.06h1.6v4.94h-1.6zM174.39 602.1h1.6v8.9h-1.6zM176.49 599.93h1.6v11.07h-1.6zM178.59 599.14h1.6v11.86h-1.6zM180.7 599.14h1.6v11.86h-1.6zM182.81 601.51h1.6v9.49h-1.6zM184.91 604.28h1.6v6.72h-1.6zM187.02 606.85h1.6v4.15h-1.6zM189.12 606.06h1.6v4.94h-1.6zM191.22 600.92h1.6v10.08h-1.6zM193.33 598.54h1.6v12.46h-1.6zM195.44 598.54h1.6v12.46h-1.6zM197.54 599.93h1.6v11.07h-1.6zM199.65 601.12h1.6v9.88h-1.6zM201.75 601.12h1.6v9.88h-1.6zM203.85 601.12h1.6v9.88h-1.6zM205.96 598.94h1.6v12.06h-1.6zM208.07 599.93h1.6v11.07h-1.6zM210.17 600.52h1.6v10.48h-1.6zM212.28 599.93h1.6v11.07h-1.6zM214.38 597.16h1.6v13.84h-1.6zM216.48 593.6h1.6v17.4h-1.6zM218.59 594.99h1.6v16.01h-1.6zM220.7 592.81h1.6v18.19h-1.6zM222.8 594.99h1.6v16.01h-1.6zM224.91 598.94h1.6v12.06h-1.6zM227.01 599.14h1.6v11.86h-1.6zM229.11 581.15h1.6v29.85h-1.6zM231.22 559.99h1.6v51.01h-1.6zM233.33 559.99h1.6v51.01h-1.6zM235.43 579.96h1.6v31.04h-1.6zM237.53 596.77h1.6v14.23h-1.6z"/><path fill="#202020" d="M77.56 542.2h.75v68.8h-.75zM79.66 518.48h.75v92.52h-.75zM81.77 535.28h.75v75.72h-.75zM83.87 555.05h.75v55.95h-.75zM85.98 575.22h.75v35.78h-.75zM88.08 589.45h.75v21.55h-.75zM90.19 594h.75v17h-.75zM92.29 597.16h.75v13.84h-.75zM94.4 599.14h.75v11.86h-.75zM96.5 601.51h.75v9.49h-.75zM98.61 604.67h.75v6.33h-.75zM100.71 607.05h.75v3.95h-.75zM102.81 606.45h.75v4.55h-.75zM104.92 603.69h.75v7.31h-.75zM107.03 602.1h.75v8.9h-.75zM109.13 601.51h.75v9.49h-.75zM111.23 601.12h.75v9.88h-.75zM113.34 599.73h.75v11.27h-.75zM115.44 598.35h.75v12.65h-.75zM117.55 602.1h.75v8.9h-.75zM119.66 595.78h.75v15.22h-.75zM121.76 597.95h.75v13.05h-.75zM123.87 602.1h.75v8.9h-.75zM125.97 603.69h.75v7.31h-.75zM128.08 601.12h.75v9.88h-.75zM130.18 600.13h.75v10.87h-.75zM132.28 603.09h.75v7.91h-.75zM134.39 602.89h.75v8.11h-.75zM136.5 601.12h.75v9.88h-.75zM138.6 597.16h.75v13.84h-.75zM140.71 601.12h.75v9.88h-.75zM142.81 605.66h.75v5.34h-.75zM144.91 602.1h.75v8.9h-.75zM147.02 596.17h.75v14.83h-.75zM149.12 594.79h.75v16.21h-.75zM151.23 597.75h.75v13.25h-.75zM153.34 598.74h.75v12.26h-.75zM155.44 600.13h.75v10.87h-.75zM157.54 597.16h.75v13.84h-.75zM159.65 594.39h.75v16.61h-.75zM161.75 593.8h.75v17.2h-.75zM163.86 596.77h.75v14.23h-.75zM165.97 600.52h.75v10.48h-.75zM168.07 602.89h.75v8.11h-.75zM170.17 605.27h.75v5.73h-.75zM172.28 606.06h.75v4.94h-.75zM174.39 602.1h.75v8.9h-.75zM176.49 599.93h.75v11.07h-.75zM178.59 599.14h.75v11.86h-.75zM180.7 599.14h.75v11.86h-.75zM182.81 601.51h.75v9.49h-.75zM184.91 604.28h.75v6.72h-.75zM187.02 606.85h.75v4.15h-.75zM189.12 606.06h.75v4.94h-.75zM191.22 600.92h.75v10.08h-.75zM193.33 598.54h.75v12.46h-.75zM195.44 598.54h.75v12.46h-.75zM197.54 599.93h.75v11.07h-.75zM199.65 601.12h.75v9.88h-.75zM201.75 601.12h.75v9.88h-.75zM203.85 601.12h.75v9.88h-.75zM205.96 598.94h.75v12.06h-.75zM208.07 599.93h.75v11.07h-.75zM210.17 600.52h.75v10.48h-.75zM212.28 599.93h.75v11.07h-.75zM214.38 597.16h.75v13.84h-.75zM216.48 593.6h.75v17.4h-.75zM218.59 594.99h.75v16.01h-.75zM220.7 592.81h.75v18.19h-.75zM222.8 594.99h.75v16.01h-.75zM224.91 598.94h.75v12.06h-.75zM227.01 599.14h.75v11.86h-.75zM229.11 581.15h.75v29.85h-.75zM231.22 559.99h.75v51.01h-.75zM233.33 559.99h.75v51.01h-.75zM235.43 579.96h.75v31.04h-.75zM237.53 596.77h.75v14.23h-.75z"/>
<rect x="77.6" y="611.4" width="12.13" height="4" fill="#ff55ff"/>
<rect x="90.23" y="611.4" width="12.13" height="4" fill="#2a2aff"/>
<rect x="102.86" y="611.4" width="28.97" height="4" fill="#33ffff"/>
<rect x="132.33" y="611.4" width="12.13" height="4" fill="#ff8c1a"/>
<rect x="144.96" y="611.4" width="14.24" height="4" fill="#2a2aff"/>
<rect x="159.7" y="611.4" width="7.92" height="4" fill="#ffff00"/>
<rect x="168.12" y="611.4" width="22.65" height="4" fill="#00ee00"/>
<rect x="191.27" y="611.4" width="12.13" height="4" fill="#b83000"/>
<rect x="203.9" y="611.4" width="22.66" height="4" fill="#00ee00"/>
<rect x="227.06" y="611.4" width="1.61" height="4" fill="#ffff00"/>
<rect x="229.16" y="611.4" width="10.02" height="4" fill="#ff55ff"/>
<rect x="69.5" y="487.5" width="177.3" height="127.9" fill="none" stroke="#222" stroke-width="1.1"/>
<line x1="62.2" y1="611" x2="69.5" y2="611" stroke="#222" stroke-width="1.1"/>
<line x1="62.2" y1="591.23" x2="69.5" y2="591.23" stroke="#222" stroke-width="1.1"/>
<line x1="62.2" y1="571.46" x2="69.5" y2="571.46" stroke="#222" stroke-width="1.1"/>
<line x1="62.2" y1="551.69" x2="69.5" y2="551.69" stroke="#222" stroke-width="1.1"/>
<line x1="62.2" y1="531.92" x2="69.5" y2="531.92" stroke="#222" stroke-width="1.1"/>
<line x1="62.2" y1="512.15" x2="69.5" y2="512.15" stroke="#222" stroke-width="1.1"/>
<line x1="62.2" y1="492.38" x2="69.5" y2="492.38" stroke="#222" stroke-width="1.1"/>
<text transform="translate(58.4,611) rotate(-90)" font-size="11.4" text-anchor="middle" textLength="13.5" lengthAdjust="spacingAndGlyphs" fill="#222">0.0</text>
<text transform="translate(58.4,571.46) rotate(-90)" font-size="11.4" text-anchor="middle" textLength="13.5" lengthAdjust="spacingAndGlyphs" fill="#222">0.2</text>
<text transform="translate(58.4,531.92) rotate(-90)" font-size="11.4" text-anchor="middle" textLength="13.5" lengthAdjust="spacingAndGlyphs" fill="#222">0.4</text>
<text transform="translate(58.4,492.38) rotate(-90)" font-size="11.4" text-anchor="middle" textLength="13.5" lengthAdjust="spacingAndGlyphs" fill="#222">0.6</text>
<line x1="76.3" y1="615.4" x2="76.3" y2="622.9" stroke="#222" stroke-width="1.1"/>
<text x="76.3" y="634.8" font-size="10.8" text-anchor="middle" fill="#222">0</text>
<line x1="118.4" y1="615.4" x2="118.4" y2="622.9" stroke="#222" stroke-width="1.1"/>
<text x="118.4" y="634.8" font-size="10.8" text-anchor="middle" fill="#222">20</text>
<line x1="160.5" y1="615.4" x2="160.5" y2="622.9" stroke="#222" stroke-width="1.1"/>
<text x="160.5" y="634.8" font-size="10.8" text-anchor="middle" fill="#222">40</text>
<line x1="202.6" y1="615.4" x2="202.6" y2="622.9" stroke="#222" stroke-width="1.1"/>
<text x="202.6" y="634.8" font-size="10.8" text-anchor="middle" fill="#222">60</text>
<line x1="244.7" y1="615.4" x2="244.7" y2="622.9" stroke="#222" stroke-width="1.1"/>
<text x="244.7" y="634.8" font-size="10.8" text-anchor="middle" fill="#222">80</text>
<text x="244.0" y="505.2" font-size="17" font-weight="bold" text-anchor="end">36.0%</text>
<path fill="#8e8e8e" d="M282.45 498.31h1.6v112.69h-1.6zM284.56 557.23h1.6v53.77h-1.6zM286.66 568.89h1.6v42.11h-1.6zM288.77 577.79h1.6v33.21h-1.6zM290.87 585.1h1.6v25.9h-1.6zM292.98 596.37h1.6v14.63h-1.6zM295.08 601.12h1.6v9.88h-1.6zM297.19 602.5h1.6v8.5h-1.6zM299.29 603.09h1.6v7.91h-1.6zM301.4 602.5h1.6v8.5h-1.6zM303.5 602.1h1.6v8.9h-1.6zM305.61 609.42h1.6v1.58h-1.6zM307.71 601.51h1.6v9.49h-1.6zM309.82 599.14h1.6v11.86h-1.6zM311.92 603.69h1.6v7.31h-1.6zM314.03 603.69h1.6v7.31h-1.6zM316.13 594h1.6v17h-1.6zM318.24 583.72h1.6v27.28h-1.6zM320.34 577.39h1.6v33.61h-1.6zM322.45 572.45h1.6v38.55h-1.6zM324.55 579.37h1.6v31.63h-1.6zM326.66 583.12h1.6v27.88h-1.6zM328.76 583.32h1.6v27.68h-1.6zM330.87 591.23h1.6v19.77h-1.6zM332.97 599.73h1.6v11.27h-1.6zM335.08 607.05h1.6v3.95h-1.6zM337.18 605.46h1.6v5.54h-1.6zM339.29 606.06h1.6v4.94h-1.6zM341.39 606.45h1.6v4.55h-1.6zM343.5 602.5h1.6v8.5h-1.6zM345.6 603.69h1.6v7.31h-1.6zM347.71 598.35h1.6v12.65h-1.6zM349.81 602.5h1.6v8.5h-1.6zM351.92 600.52h1.6v10.48h-1.6zM354.02 601.12h1.6v9.88h-1.6zM356.13 606.45h1.6v4.55h-1.6zM358.23 609.42h1.6v1.58h-1.6zM360.34 609.02h1.6v1.98h-1.6zM362.44 608.63h1.6v2.37h-1.6zM364.55 606.85h1.6v4.15h-1.6zM366.65 603.09h1.6v7.91h-1.6zM368.76 606.45h1.6v4.55h-1.6zM370.86 606.06h1.6v4.94h-1.6zM372.97 606.85h1.6v4.15h-1.6zM375.07 604.28h1.6v6.72h-1.6zM377.18 603.49h1.6v7.51h-1.6zM379.28 601.12h1.6v9.88h-1.6zM381.39 597.16h1.6v13.84h-1.6zM383.49 593.21h1.6v17.79h-1.6zM385.6 589.85h1.6v21.15h-1.6zM387.7 592.22h1.6v18.78h-1.6zM389.81 594.2h1.6v16.8h-1.6zM391.91 591.82h1.6v19.18h-1.6zM394.02 588.86h1.6v22.14h-1.6zM396.12 591.03h1.6v19.97h-1.6zM398.23 597.95h1.6v13.05h-1.6zM400.33 603.88h1.6v7.12h-1.6zM402.44 603.88h1.6v7.12h-1.6zM404.54 599.14h1.6v11.86h-1.6zM406.65 584.31h1.6v26.69h-1.6zM408.75 594.59h1.6v16.41h-1.6zM410.86 591.82h1.6v19.18h-1.6zM412.96 595.58h1.6v15.42h-1.6zM415.07 598.15h1.6v12.85h-1.6zM417.17 599.93h1.6v11.07h-1.6zM419.28 601.12h1.6v9.88h-1.6zM421.38 597.16h1.6v13.84h-1.6zM423.49 599.93h1.6v11.07h-1.6zM425.59 598.15h1.6v12.85h-1.6zM427.7 600.32h1.6v10.68h-1.6zM429.8 602.89h1.6v8.11h-1.6zM431.91 604.28h1.6v6.72h-1.6zM434.01 597.95h1.6v13.05h-1.6zM436.12 572.25h1.6v38.75h-1.6zM438.22 575.02h1.6v35.98h-1.6zM440.33 577.59h1.6v33.41h-1.6zM442.43 576.4h1.6v34.6h-1.6z"/><path fill="#202020" d="M282.45 498.31h.75v112.69h-.75zM284.56 557.23h.75v53.77h-.75zM286.66 568.89h.75v42.11h-.75zM288.77 577.79h.75v33.21h-.75zM290.87 585.1h.75v25.9h-.75zM292.98 596.37h.75v14.63h-.75zM295.08 601.12h.75v9.88h-.75zM297.19 602.5h.75v8.5h-.75zM299.29 603.09h.75v7.91h-.75zM301.4 602.5h.75v8.5h-.75zM303.5 602.1h.75v8.9h-.75zM305.61 609.42h.75v1.58h-.75zM307.71 601.51h.75v9.49h-.75zM309.82 599.14h.75v11.86h-.75zM311.92 603.69h.75v7.31h-.75zM314.03 603.69h.75v7.31h-.75zM316.13 594h.75v17h-.75zM318.24 583.72h.75v27.28h-.75zM320.34 577.39h.75v33.61h-.75zM322.45 572.45h.75v38.55h-.75zM324.55 579.37h.75v31.63h-.75zM326.66 583.12h.75v27.88h-.75zM328.76 583.32h.75v27.68h-.75zM330.87 591.23h.75v19.77h-.75zM332.97 599.73h.75v11.27h-.75zM335.08 607.05h.75v3.95h-.75zM337.18 605.46h.75v5.54h-.75zM339.29 606.06h.75v4.94h-.75zM341.39 606.45h.75v4.55h-.75zM343.5 602.5h.75v8.5h-.75zM345.6 603.69h.75v7.31h-.75zM347.71 598.35h.75v12.65h-.75zM349.81 602.5h.75v8.5h-.75zM351.92 600.52h.75v10.48h-.75zM354.02 601.12h.75v9.88h-.75zM356.13 606.45h.75v4.55h-.75zM358.23 609.42h.75v1.58h-.75zM360.34 609.02h.75v1.98h-.75zM362.44 608.63h.75v2.37h-.75zM364.55 606.85h.75v4.15h-.75zM366.65 603.09h.75v7.91h-.75zM368.76 606.45h.75v4.55h-.75zM370.86 606.06h.75v4.94h-.75zM372.97 606.85h.75v4.15h-.75zM375.07 604.28h.75v6.72h-.75zM377.18 603.49h.75v7.51h-.75zM379.28 601.12h.75v9.88h-.75zM381.39 597.16h.75v13.84h-.75zM383.49 593.21h.75v17.79h-.75zM385.6 589.85h.75v21.15h-.75zM387.7 592.22h.75v18.78h-.75zM389.81 594.2h.75v16.8h-.75zM391.91 591.82h.75v19.18h-.75zM394.02 588.86h.75v22.14h-.75zM396.12 591.03h.75v19.97h-.75zM398.23 597.95h.75v13.05h-.75zM400.33 603.88h.75v7.12h-.75zM402.44 603.88h.75v7.12h-.75zM404.54 599.14h.75v11.86h-.75zM406.65 584.31h.75v26.69h-.75zM408.75 594.59h.75v16.41h-.75zM410.86 591.82h.75v19.18h-.75zM412.96 595.58h.75v15.42h-.75zM415.07 598.15h.75v12.85h-.75zM417.17 599.93h.75v11.07h-.75zM419.28 601.12h.75v9.88h-.75zM421.38 597.16h.75v13.84h-.75zM423.49 599.93h.75v11.07h-.75zM425.59 598.15h.75v12.85h-.75zM427.7 600.32h.75v10.68h-.75zM429.8 602.89h.75v8.11h-.75zM431.91 604.28h.75v6.72h-.75zM434.01 597.95h.75v13.05h-.75zM436.12 572.25h.75v38.75h-.75zM438.22 575.02h.75v35.98h-.75zM440.33 577.59h.75v33.41h-.75zM442.43 576.4h.75v34.6h-.75z"/>
<rect x="282.5" y="611.4" width="12.13" height="4" fill="#ff55ff"/>
<rect x="295.13" y="611.4" width="12.13" height="4" fill="#2a2aff"/>
<rect x="307.76" y="611.4" width="28.97" height="4" fill="#33ffff"/>
<rect x="337.23" y="611.4" width="12.13" height="4" fill="#ff8c1a"/>
<rect x="349.86" y="611.4" width="14.24" height="4" fill="#2a2aff"/>
<rect x="364.6" y="611.4" width="7.92" height="4" fill="#ffff00"/>
<rect x="373.02" y="611.4" width="22.66" height="4" fill="#00ee00"/>
<rect x="396.17" y="611.4" width="12.13" height="4" fill="#b83000"/>
<rect x="408.8" y="611.4" width="22.65" height="4" fill="#00ee00"/>
<rect x="431.96" y="611.4" width="1.61" height="4" fill="#ffff00"/>
<rect x="434.06" y="611.4" width="10.02" height="4" fill="#ff55ff"/>
<rect x="274.4" y="487.5" width="177.3" height="127.9" fill="none" stroke="#222" stroke-width="1.1"/>
<line x1="267.1" y1="611" x2="274.4" y2="611" stroke="#222" stroke-width="1.1"/>
<line x1="267.1" y1="591.23" x2="274.4" y2="591.23" stroke="#222" stroke-width="1.1"/>
<line x1="267.1" y1="571.46" x2="274.4" y2="571.46" stroke="#222" stroke-width="1.1"/>
<line x1="267.1" y1="551.69" x2="274.4" y2="551.69" stroke="#222" stroke-width="1.1"/>
<line x1="267.1" y1="531.92" x2="274.4" y2="531.92" stroke="#222" stroke-width="1.1"/>
<line x1="267.1" y1="512.15" x2="274.4" y2="512.15" stroke="#222" stroke-width="1.1"/>
<line x1="267.1" y1="492.38" x2="274.4" y2="492.38" stroke="#222" stroke-width="1.1"/>
<text transform="translate(263.3,611) rotate(-90)" font-size="11.4" text-anchor="middle" textLength="13.5" lengthAdjust="spacingAndGlyphs" fill="#222">0.0</text>
<text transform="translate(263.3,571.46) rotate(-90)" font-size="11.4" text-anchor="middle" textLength="13.5" lengthAdjust="spacingAndGlyphs" fill="#222">0.2</text>
<text transform="translate(263.3,531.92) rotate(-90)" font-size="11.4" text-anchor="middle" textLength="13.5" lengthAdjust="spacingAndGlyphs" fill="#222">0.4</text>
<text transform="translate(263.3,492.38) rotate(-90)" font-size="11.4" text-anchor="middle" textLength="13.5" lengthAdjust="spacingAndGlyphs" fill="#222">0.6</text>
<line x1="281.2" y1="615.4" x2="281.2" y2="622.9" stroke="#222" stroke-width="1.1"/>
<text x="281.2" y="634.8" font-size="10.8" text-anchor="middle" fill="#222">0</text>
<line x1="323.3" y1="615.4" x2="323.3" y2="622.9" stroke="#222" stroke-width="1.1"/>
<text x="323.3" y="634.8" font-size="10.8" text-anchor="middle" fill="#222">20</text>
<line x1="365.4" y1="615.4" x2="365.4" y2="622.9" stroke="#222" stroke-width="1.1"/>
<text x="365.4" y="634.8" font-size="10.8" text-anchor="middle" fill="#222">40</text>
<line x1="407.5" y1="615.4" x2="407.5" y2="622.9" stroke="#222" stroke-width="1.1"/>
<text x="407.5" y="634.8" font-size="10.8" text-anchor="middle" fill="#222">60</text>
<line x1="449.6" y1="615.4" x2="449.6" y2="622.9" stroke="#222" stroke-width="1.1"/>
<text x="449.6" y="634.8" font-size="10.8" text-anchor="middle" fill="#222">80</text>
<text x="447.7" y="505.2" font-size="17" font-weight="bold" text-anchor="end">12.0%</text>
<path fill="#8e8e8e" d="M489.36 530.54h1.6v80.46h-1.6zM491.46 578.18h1.6v32.82h-1.6zM493.56 584.11h1.6v26.89h-1.6zM495.67 567.51h1.6v43.49h-1.6zM497.77 568.3h1.6v42.7h-1.6zM499.88 585.1h1.6v25.9h-1.6zM501.99 595.18h1.6v15.82h-1.6zM504.09 594.79h1.6v16.21h-1.6zM506.19 595.78h1.6v15.22h-1.6zM508.3 599.14h1.6v11.86h-1.6zM510.4 602.1h1.6v8.9h-1.6zM512.51 604.48h1.6v6.52h-1.6zM514.62 608.63h1.6v2.37h-1.6zM516.72 608.23h1.6v2.77h-1.6zM518.83 603.29h1.6v7.71h-1.6zM520.93 596.77h1.6v14.23h-1.6zM523.03 589.45h1.6v21.55h-1.6zM525.14 593.8h1.6v17.2h-1.6zM527.25 591.82h1.6v19.18h-1.6zM529.35 594.79h1.6v16.21h-1.6zM531.46 593.21h1.6v17.79h-1.6zM533.56 585.1h1.6v25.9h-1.6zM535.66 584.51h1.6v26.49h-1.6zM537.77 591.23h1.6v19.77h-1.6zM539.88 600.52h1.6v10.48h-1.6zM541.98 608.63h1.6v2.37h-1.6zM544.09 603.29h1.6v7.71h-1.6zM546.19 599.73h1.6v11.27h-1.6zM548.29 594.79h1.6v16.21h-1.6zM550.4 595.18h1.6v15.82h-1.6zM552.5 595.78h1.6v15.22h-1.6zM554.61 599.14h1.6v11.86h-1.6zM556.72 598.35h1.6v12.65h-1.6zM558.82 597.75h1.6v13.25h-1.6zM560.92 594h1.6v17h-1.6zM563.03 594.79h1.6v16.21h-1.6zM565.13 595.18h1.6v15.82h-1.6zM567.24 595.78h1.6v15.22h-1.6zM569.35 594h1.6v17h-1.6zM571.45 591.82h1.6v19.18h-1.6zM573.55 591.23h1.6v19.77h-1.6zM575.66 593.8h1.6v17.2h-1.6zM577.76 597.16h1.6v13.84h-1.6zM579.87 599.14h1.6v11.86h-1.6zM581.98 600.32h1.6v10.68h-1.6zM584.08 603.88h1.6v7.12h-1.6zM586.19 604.87h1.6v6.13h-1.6zM588.29 602.5h1.6v8.5h-1.6zM590.39 601.31h1.6v9.69h-1.6zM592.5 602.89h1.6v8.11h-1.6zM594.61 600.52h1.6v10.48h-1.6zM596.71 596.37h1.6v14.63h-1.6zM598.81 594.59h1.6v16.41h-1.6zM600.92 597.16h1.6v13.84h-1.6zM603.02 601.31h1.6v9.69h-1.6zM605.13 605.27h1.6v5.73h-1.6zM607.24 602.1h1.6v8.9h-1.6zM609.34 602.5h1.6v8.5h-1.6zM611.45 604.48h1.6v6.52h-1.6zM613.55 600.32h1.6v10.68h-1.6zM615.65 602.89h1.6v8.11h-1.6zM617.76 602.5h1.6v8.5h-1.6zM619.87 597.16h1.6v13.84h-1.6zM621.97 596.37h1.6v14.63h-1.6zM624.07 596.37h1.6v14.63h-1.6zM626.18 595.18h1.6v15.82h-1.6zM628.28 594.59h1.6v16.41h-1.6zM630.39 591.23h1.6v19.77h-1.6zM632.5 593.21h1.6v17.79h-1.6zM634.6 597.16h1.6v13.84h-1.6zM636.71 597.95h1.6v13.05h-1.6zM638.81 597.16h1.6v13.84h-1.6zM640.91 600.52h1.6v10.48h-1.6zM643.02 560.59h1.6v50.41h-1.6zM645.12 559h1.6v52h-1.6zM647.23 555.25h1.6v55.75h-1.6zM649.34 537.85h1.6v73.15h-1.6z"/><path fill="#202020" d="M489.36 530.54h.75v80.46h-.75zM491.46 578.18h.75v32.82h-.75zM493.56 584.11h.75v26.89h-.75zM495.67 567.51h.75v43.49h-.75zM497.77 568.3h.75v42.7h-.75zM499.88 585.1h.75v25.9h-.75zM501.99 595.18h.75v15.82h-.75zM504.09 594.79h.75v16.21h-.75zM506.19 595.78h.75v15.22h-.75zM508.3 599.14h.75v11.86h-.75zM510.4 602.1h.75v8.9h-.75zM512.51 604.48h.75v6.52h-.75zM514.62 608.63h.75v2.37h-.75zM516.72 608.23h.75v2.77h-.75zM518.83 603.29h.75v7.71h-.75zM520.93 596.77h.75v14.23h-.75zM523.03 589.45h.75v21.55h-.75zM525.14 593.8h.75v17.2h-.75zM527.25 591.82h.75v19.18h-.75zM529.35 594.79h.75v16.21h-.75zM531.46 593.21h.75v17.79h-.75zM533.56 585.1h.75v25.9h-.75zM535.66 584.51h.75v26.49h-.75zM537.77 591.23h.75v19.77h-.75zM539.88 600.52h.75v10.48h-.75zM541.98 608.63h.75v2.37h-.75zM544.09 603.29h.75v7.71h-.75zM546.19 599.73h.75v11.27h-.75zM548.29 594.79h.75v16.21h-.75zM550.4 595.18h.75v15.82h-.75zM552.5 595.78h.75v15.22h-.75zM554.61 599.14h.75v11.86h-.75zM556.72 598.35h.75v12.65h-.75zM558.82 597.75h.75v13.25h-.75zM560.92 594h.75v17h-.75zM563.03 594.79h.75v16.21h-.75zM565.13 595.18h.75v15.82h-.75zM567.24 595.78h.75v15.22h-.75zM569.35 594h.75v17h-.75zM571.45 591.82h.75v19.18h-.75zM573.55 591.23h.75v19.77h-.75zM575.66 593.8h.75v17.2h-.75zM577.76 597.16h.75v13.84h-.75zM579.87 599.14h.75v11.86h-.75zM581.98 600.32h.75v10.68h-.75zM584.08 603.88h.75v7.12h-.75zM586.19 604.87h.75v6.13h-.75zM588.29 602.5h.75v8.5h-.75zM590.39 601.31h.75v9.69h-.75zM592.5 602.89h.75v8.11h-.75zM594.61 600.52h.75v10.48h-.75zM596.71 596.37h.75v14.63h-.75zM598.81 594.59h.75v16.41h-.75zM600.92 597.16h.75v13.84h-.75zM603.02 601.31h.75v9.69h-.75zM605.13 605.27h.75v5.73h-.75zM607.24 602.1h.75v8.9h-.75zM609.34 602.5h.75v8.5h-.75zM611.45 604.48h.75v6.52h-.75zM613.55 600.32h.75v10.68h-.75zM615.65 602.89h.75v8.11h-.75zM617.76 602.5h.75v8.5h-.75zM619.87 597.16h.75v13.84h-.75zM621.97 596.37h.75v14.63h-.75zM624.07 596.37h.75v14.63h-.75zM626.18 595.18h.75v15.82h-.75zM628.28 594.59h.75v16.41h-.75zM630.39 591.23h.75v19.77h-.75zM632.5 593.21h.75v17.79h-.75zM634.6 597.16h.75v13.84h-.75zM636.71 597.95h.75v13.05h-.75zM638.81 597.16h.75v13.84h-.75zM640.91 600.52h.75v10.48h-.75zM643.02 560.59h.75v50.41h-.75zM645.12 559h.75v52h-.75zM647.23 555.25h.75v55.75h-.75zM649.34 537.85h.75v73.15h-.75z"/>
<rect x="489.4" y="611.4" width="12.13" height="4" fill="#ff55ff"/>
<rect x="502.03" y="611.4" width="12.13" height="4" fill="#2a2aff"/>
<rect x="514.66" y="611.4" width="28.97" height="4" fill="#33ffff"/>
<rect x="544.13" y="611.4" width="12.13" height="4" fill="#ff8c1a"/>
<rect x="556.76" y="611.4" width="14.24" height="4" fill="#2a2aff"/>
<rect x="571.5" y="611.4" width="7.92" height="4" fill="#ffff00"/>
<rect x="579.92" y="611.4" width="22.65" height="4" fill="#00ee00"/>
<rect x="603.07" y="611.4" width="12.13" height="4" fill="#b83000"/>
<rect x="615.7" y="611.4" width="22.66" height="4" fill="#00ee00"/>
<rect x="638.86" y="611.4" width="1.61" height="4" fill="#ffff00"/>
<rect x="640.96" y="611.4" width="10.02" height="4" fill="#ff55ff"/>
<rect x="481.3" y="487.5" width="177.3" height="127.9" fill="none" stroke="#222" stroke-width="1.1"/>
<line x1="474" y1="611" x2="481.3" y2="611" stroke="#222" stroke-width="1.1"/>
<line x1="474" y1="591.23" x2="481.3" y2="591.23" stroke="#222" stroke-width="1.1"/>
<line x1="474" y1="571.46" x2="481.3" y2="571.46" stroke="#222" stroke-width="1.1"/>
<line x1="474" y1="551.69" x2="481.3" y2="551.69" stroke="#222" stroke-width="1.1"/>
<line x1="474" y1="531.92" x2="481.3" y2="531.92" stroke="#222" stroke-width="1.1"/>
<line x1="474" y1="512.15" x2="481.3" y2="512.15" stroke="#222" stroke-width="1.1"/>
<line x1="474" y1="492.38" x2="481.3" y2="492.38" stroke="#222" stroke-width="1.1"/>
<text transform="translate(470.2,611) rotate(-90)" font-size="11.4" text-anchor="middle" textLength="13.5" lengthAdjust="spacingAndGlyphs" fill="#222">0.0</text>
<text transform="translate(470.2,571.46) rotate(-90)" font-size="11.4" text-anchor="middle" textLength="13.5" lengthAdjust="spacingAndGlyphs" fill="#222">0.2</text>
<text transform="translate(470.2,531.92) rotate(-90)" font-size="11.4" text-anchor="middle" textLength="13.5" lengthAdjust="spacingAndGlyphs" fill="#222">0.4</text>
<text transform="translate(470.2,492.38) rotate(-90)" font-size="11.4" text-anchor="middle" textLength="13.5" lengthAdjust="spacingAndGlyphs" fill="#222">0.6</text>
<line x1="488.1" y1="615.4" x2="488.1" y2="622.9" stroke="#222" stroke-width="1.1"/>
<text x="488.1" y="634.8" font-size="10.8" text-anchor="middle" fill="#222">0</text>
<line x1="530.2" y1="615.4" x2="530.2" y2="622.9" stroke="#222" stroke-width="1.1"/>
<text x="530.2" y="634.8" font-size="10.8" text-anchor="middle" fill="#222">20</text>
<line x1="572.3" y1="615.4" x2="572.3" y2="622.9" stroke="#222" stroke-width="1.1"/>
<text x="572.3" y="634.8" font-size="10.8" text-anchor="middle" fill="#222">40</text>
<line x1="614.4" y1="615.4" x2="614.4" y2="622.9" stroke="#222" stroke-width="1.1"/>
<text x="614.4" y="634.8" font-size="10.8" text-anchor="middle" fill="#222">60</text>
<line x1="656.5" y1="615.4" x2="656.5" y2="622.9" stroke="#222" stroke-width="1.1"/>
<text x="656.5" y="634.8" font-size="10.8" text-anchor="middle" fill="#222">80</text>
<text x="655.3" y="505.2" font-size="17" font-weight="bold" text-anchor="end">10.6%</text>
<g id="ribbons"><g fill="none" stroke-linecap="round" stroke-linejoin="round"><path d="M94.7 126C94.5 123.9 93.5 117.6 93.8 113.4" stroke="#11118e" stroke-width="2.2"/><path d="M93.8 113.4C94.1 109.2 95.1 104.9 96.4 100.7" stroke="#11118e" stroke-width="2.4"/><path d="M96.4 100.7C97.7 96.5 99.7 91 101.5 88" stroke="#11118e" stroke-width="2.6"/><path d="M101.5 88C103.3 85 104.7 84 107.2 82.7" stroke="#11118e" stroke-width="3"/><path d="M107.2 82.7C109.7 81.4 113.3 80.7 116.3 80.4" stroke="#11118e" stroke-width="3.2"/><path d="M116.3 80.4C119.3 80.1 122.3 80.2 125.3 80.9" stroke="#11118e" stroke-width="3.6"/><path d="M125.3 80.9C128.3 81.6 131.3 83 134.4 84.5" stroke="#11118e" stroke-width="3.8"/><path d="M134.4 84.5C137.5 86 141 89 144.1 89.6C147.2 90.2 150.1 88.9 153.1 88.1" stroke="#11118e" stroke-width="4.2"/><path d="M153.1 88.1C156.1 87.3 159.2 85.7 162.2 84.9" stroke="#11118e" stroke-width="4.4"/><path d="M162.2 84.9C165.2 84.2 168.6 83.6 171.3 83.6" stroke="#11118e" stroke-width="4.6"/><path d="M171.3 83.6C174 83.6 176.1 84 178.5 84.9" stroke="#11118e" stroke-width="4.8"/><path d="M178.5 84.9C180.9 85.8 183.7 87.4 185.8 89" stroke="#11118e" stroke-width="4.6"/><path d="M185.8 89C187.9 90.6 189.2 92.8 191 94.5" stroke="#11118e" stroke-width="4.2"/><path d="M191 94.5C192.8 96.2 194.8 97.7 196.5 99.5" stroke="#11118e" stroke-width="3.8"/><path d="M196.5 99.5C198.2 101.3 199.5 102.9 201 105.5" stroke="#11118e" stroke-width="3.6"/><path d="M201 105.5C202.5 108.1 204.3 111.9 205.5 115" stroke="#11118e" stroke-width="4"/><path d="M205.5 115C206.7 118.1 207.6 122.5 208 124" stroke="#11118e" stroke-width="4.6"/><path d="M94.3 125.4C94.2 123.3 93.1 117 93.4 112.8" stroke="#4444ea" stroke-width="1.4"/><path d="M93.4 112.8C93.7 108.6 94.7 104.3 96 100.1" stroke="#4444ea" stroke-width="1.6"/><path d="M96 100.1C97.3 95.9 99.3 90.4 101.1 87.4" stroke="#4444ea" stroke-width="1.8"/><path d="M101.1 87.4C102.9 84.4 104.4 83.4 106.8 82.1" stroke="#4444ea" stroke-width="2"/><path d="M106.8 82.1C109.3 80.8 112.9 80.1 115.9 79.8" stroke="#4444ea" stroke-width="2.2"/><path d="M115.9 79.8C118.9 79.5 121.9 79.6 124.9 80.3" stroke="#4444ea" stroke-width="2.4"/><path d="M124.9 80.3C127.9 81 130.9 82.4 134 83.9" stroke="#4444ea" stroke-width="2.6"/><path d="M134 83.9C137.2 85.3 140.6 88.4 143.7 89C146.8 89.6 149.7 88.3 152.7 87.5" stroke="#4444ea" stroke-width="2.8"/><path d="M152.7 87.5C155.7 86.7 158.8 85 161.8 84.3" stroke="#4444ea" stroke-width="3"/><path d="M161.8 84.3C164.9 83.5 168.2 83 170.9 83C173.6 83 175.7 83.4 178.1 84.3" stroke="#4444ea" stroke-width="3.2"/><path d="M178.1 84.3C180.5 85.2 183.3 86.8 185.4 88.4" stroke="#4444ea" stroke-width="3"/><path d="M185.4 88.4C187.5 90 188.8 92.1 190.6 93.9" stroke="#4444ea" stroke-width="2.8"/><path d="M190.6 93.9C192.4 95.6 194.5 97.1 196.1 98.9C197.8 100.7 199.1 102.3 200.6 104.9" stroke="#4444ea" stroke-width="2.6"/><path d="M200.6 104.9C202.1 107.5 204 111.3 205.1 114.4" stroke="#4444ea" stroke-width="2.8"/><path d="M205.1 114.4C206.3 117.5 207.2 121.9 207.6 123.4" stroke="#4444ea" stroke-width="3.2"/></g><g fill="none" stroke-linecap="round" stroke-linejoin="round"><path d="M121 103C121.4 100.7 122.2 92.5 123.5 89" stroke="#11118e" stroke-width="1.8"/><path d="M123.5 89C124.8 85.5 126.9 83.7 129 81.8" stroke="#11118e" stroke-width="2.2"/><path d="M129 81.8C131.1 79.9 133.7 78.5 136.2 77.7" stroke="#11118e" stroke-width="2.4"/><path d="M136.2 77.7C138.7 76.9 141.3 77 144.1 77.2" stroke="#11118e" stroke-width="2.6"/><path d="M144.1 77.2C146.9 77.4 150.7 77.9 153.1 79C155.5 80.1 157.2 81.8 158.6 83.6C160 85.4 161 87.8 161.3 89.9C161.6 92 161.3 94.3 160.4 96.3C159.5 98.3 157.3 100.2 155.9 101.7C154.5 103.2 152.6 103.8 151.8 105.3C151 106.8 150.7 108.9 150.9 110.8" stroke="#11118e" stroke-width="2.8"/><path d="M150.9 110.8C151.1 112.7 151.6 114.8 152.9 116.8" stroke="#11118e" stroke-width="3"/><path d="M152.9 116.8C154.2 118.8 156.8 121.7 159 122.9C161.2 124.1 163.8 124.4 165.8 123.8" stroke="#11118e" stroke-width="3.2"/><path d="M165.8 123.8C167.9 123.2 170.1 122 171.3 119.5" stroke="#11118e" stroke-width="3"/><path d="M171.3 119.5C172.6 117 173.1 112.5 173.3 108.6C173.5 104.7 172.3 99.7 172.6 96.3C172.9 92.9 173.6 90.4 174.9 88.1C176.2 85.8 178.4 83.9 180.3 82.7C182.2 81.5 184.6 81.3 186.3 80.7C188 80.1 188.7 79.7 190.4 79C192.2 78.3 194.8 77.5 196.8 76.3C198.8 75.1 201 73.6 202.2 71.8C203.4 70 204.1 67.5 204 65.4C203.9 63.3 202.8 60.6 201.5 59C200.2 57.4 197.8 56.3 196 55.5C194.2 54.7 192.7 54.2 190.8 54.4C188.9 54.6 186.5 55.3 184.5 56.6C182.5 57.9 180.4 59.7 179 62.1" stroke="#11118e" stroke-width="2.6"/><path d="M179 62.1C177.6 64.5 176.9 68.2 175.8 70.9" stroke="#11118e" stroke-width="3.2"/><path d="M175.8 70.9C174.7 73.6 173.6 76.5 172.2 78.1" stroke="#11118e" stroke-width="3.6"/><path d="M172.2 78.1C170.8 79.7 169 80.6 167.6 80.4C166.2 80.2 164.9 79.1 164 77.2" stroke="#11118e" stroke-width="4.2"/><path d="M164 77.2C163.1 75.3 162.7 71.9 162.2 69.1" stroke="#3e3e94" stroke-width="4.2"/><path d="M162.2 69.1C161.7 66.3 161.8 63.4 161.2 60.3" stroke="#3e3e94" stroke-width="4.4"/><path d="M161.2 60.3C160.6 57.2 159.7 52.7 158.5 50.3" stroke="#797999" stroke-width="4.6"/><path d="M158.5 50.3C157.3 47.9 156.1 46.5 154 45.8" stroke="#797999" stroke-width="4.4"/><path d="M154 45.8C151.9 45.1 148.2 45.5 145.8 46.2" stroke="#797999" stroke-width="4.2"/><path d="M145.8 46.2C143.4 47 140.5 51 139.5 50.3" stroke="#797999" stroke-width="3.6"/><path d="M139.5 50.3C138.5 49.6 139.6 45 139.6 42.1" stroke="#3e3e94" stroke-width="3.2"/><path d="M139.6 42.1C139.6 39.2 139.7 35.1 139.3 33.1" stroke="#11118e" stroke-width="3"/><path d="M139.3 33.1C138.9 31.1 138 29.9 137.2 29.9" stroke="#11118e" stroke-width="2.6"/><path d="M137.2 29.9C136.4 29.9 135.3 31.4 134.5 33" stroke="#11118e" stroke-width="2"/><path d="M134.5 33C133.7 34.6 133.8 35.5 132.2 39.4" stroke="#11118e" stroke-width="1.6"/><path d="M132.2 39.4C130.6 43.3 127.5 51.9 124.9 56.6C122.3 61.3 119.4 65.1 116.8 67.5" stroke="#11118e" stroke-width="1.4"/><path d="M116.8 67.5C114.2 69.9 110.4 70.5 109.1 71.1" stroke="#11118e" stroke-width="1.6"/><path d="M120.7 102.5C121.1 100.2 121.9 92.1 123.2 88.5" stroke="#4444ea" stroke-width="1.2"/><path d="M123.2 88.5C124.5 85 126.6 83.2 128.7 81.3" stroke="#4444ea" stroke-width="1.4"/><path d="M128.7 81.3C130.8 79.5 133.4 78 135.9 77.2" stroke="#4444ea" stroke-width="1.6"/><path d="M135.9 77.2C138.4 76.5 141 76.5 143.8 76.7" stroke="#4444ea" stroke-width="1.8"/><path d="M143.8 76.7C146.6 77 150.4 77.5 152.8 78.5C155.2 79.6 156.9 81.3 158.3 83.1C159.7 85 160.7 87.3 161 89.4C161.3 91.6 161 93.9 160.1 95.8C159.2 97.8 157 99.7 155.6 101.2C154.2 102.7 152.3 103.3 151.5 104.8C150.7 106.4 150.4 108.4 150.6 110.3C150.8 112.3 151.3 114.3 152.6 116.3" stroke="#4444ea" stroke-width="2"/><path d="M152.6 116.3C154 118.4 156.6 121.3 158.7 122.4C160.9 123.6 163.5 123.9 165.5 123.3" stroke="#4444ea" stroke-width="2.2"/><path d="M165.5 123.3C167.6 122.8 169.8 121.6 171 119" stroke="#4444ea" stroke-width="2"/><path d="M171 119C172.3 116.5 172.8 112 173 108.1C173.2 104.3 172 99.3 172.3 95.8C172.6 92.4 173.3 89.9 174.6 87.6C175.9 85.4 178.1 83.5 180 82.2C181.9 81 184.3 80.9 186 80.2C187.7 79.6 188.4 79.3 190.1 78.5C191.9 77.8 194.5 77 196.5 75.8C198.5 74.6 200.7 73.2 201.9 71.3C203.1 69.5 203.8 67.1 203.7 64.9C203.6 62.8 202.5 60.2 201.2 58.5C199.9 56.9 197.5 55.8 195.7 55C193.9 54.3 192.4 53.8 190.5 53.9C188.6 54.1 186.2 54.9 184.2 56.1C182.2 57.4 180.2 59.3 178.7 61.6" stroke="#4444ea" stroke-width="1.8"/><path d="M178.7 61.6C177.3 64 176.6 67.8 175.5 70.4" stroke="#4444ea" stroke-width="2.2"/><path d="M175.5 70.4C174.4 73.1 173.3 76.1 171.9 77.6" stroke="#4444ea" stroke-width="2.6"/><path d="M171.9 77.6C170.5 79.2 168.7 80.1 167.3 79.9C165.9 79.8 164.6 78.6 163.7 76.7" stroke="#4444ea" stroke-width="2.8"/><path d="M163.7 76.7C162.8 74.9 162.4 71.5 161.9 68.6" stroke="#7f7ff2" stroke-width="2.8"/><path d="M161.9 68.6C161.4 65.8 161.5 63 160.9 59.8" stroke="#7f7ff2" stroke-width="3"/><path d="M160.9 59.8C160.3 56.7 159.4 52.3 158.2 49.8C157 47.4 155.8 46 153.7 45.3" stroke="#cecef9" stroke-width="3"/><path d="M153.7 45.3C151.6 44.7 147.9 45 145.5 45.7" stroke="#cecef9" stroke-width="2.8"/><path d="M145.5 45.7C143.1 46.5 140.2 50.5 139.2 49.8" stroke="#cecef9" stroke-width="2.6"/><path d="M139.2 49.8C138.2 49.2 139.3 44.5 139.3 41.6" stroke="#7f7ff2" stroke-width="2.2"/><path d="M139.3 41.6C139.3 38.8 139.4 34.7 139 32.6" stroke="#4444ea" stroke-width="2"/><path d="M139 32.6C138.6 30.6 137.7 29.5 136.9 29.4" stroke="#4444ea" stroke-width="1.8"/><path d="M136.9 29.4C136.1 29.4 135 31 134.2 32.5" stroke="#4444ea" stroke-width="1.4"/><path d="M134.2 32.5C133.4 34.1 133.5 35 131.9 38.9C130.3 42.9 127.2 51.5 124.6 56.1C122 60.8 119.1 64.6 116.5 67C113.9 69.5 110.1 70 108.8 70.6" stroke="#4444ea" stroke-width="1"/></g><g fill="none" stroke-linecap="round" stroke-linejoin="round"><path d="M109.1 71.1C111.4 70.9 118.8 69.8 123.1 69.8" stroke="#1c1c85" stroke-width="3.2"/><path d="M123.1 69.8C127.4 69.8 131.5 70.3 134.9 71.1" stroke="#181880" stroke-width="3.4"/><path d="M134.9 71.1C138.3 71.8 141.2 74.8 143.5 74.3" stroke="#131377" stroke-width="3.2"/><path d="M143.5 74.3C145.8 73.8 147.1 70.2 148.6 68.2" stroke="#11118e" stroke-width="2.4"/><path d="M148.6 68.2C150.1 66.2 151.3 64.5 152.5 62.6" stroke="#11118e" stroke-width="1.8"/><path d="M152.5 62.6C153.7 60.7 154.7 59.6 155.8 56.6" stroke="#11118e" stroke-width="1.4"/><path d="M155.8 56.6C157 53.6 158.2 47.9 159.4 44.9" stroke="#11118e" stroke-width="1.6"/><path d="M159.4 44.9C160.6 41.9 161.2 40.4 162.7 38.5" stroke="#11118e" stroke-width="2.2"/><path d="M162.7 38.5C164.1 36.6 166.1 34.2 168.1 33.8" stroke="#11118e" stroke-width="3.2"/><path d="M168.1 33.8C170.1 33.3 172.4 34.6 174.5 35.8C176.6 37 178.8 39.9 180.8 40.8" stroke="#3e3e94" stroke-width="3.6"/><path d="M180.8 40.8C182.8 41.7 185.3 40 186.7 41" stroke="#11118e" stroke-width="3.4"/><path d="M186.7 41C188.1 42 188.7 44.2 189.4 46.7" stroke="#11118e" stroke-width="3.6"/><path d="M189.4 46.7C190.1 49.2 190.3 52.4 190.8 55.7" stroke="#11118e" stroke-width="4"/><path d="M190.8 55.7C191.3 59 191.9 63 192.4 66.6" stroke="#11118e" stroke-width="4.2"/><path d="M192.4 66.6C192.9 70.2 193.1 74.5 194.1 77.2" stroke="#11118e" stroke-width="4"/><path d="M194.1 77.2C195.1 79.9 196.6 81.2 198.6 82.7" stroke="#11118e" stroke-width="3.4"/><path d="M198.6 82.7C200.6 84.2 203.2 85.2 205.9 86.3C208.6 87.3 212 88 214.9 89" stroke="#11118e" stroke-width="3"/><path d="M214.9 89C217.8 90 220.7 91.1 223.1 92.6" stroke="#11118e" stroke-width="3.6"/><path d="M223.1 92.6C225.5 94.1 227.8 96.3 229.4 98.1" stroke="#11118e" stroke-width="4.6"/><path d="M229.4 98.1C231.1 99.9 232.4 102.6 233 103.5" stroke="#11118e" stroke-width="5.6"/><path d="M108.8 70.6C111.1 70.4 118.5 69.3 122.8 69.3" stroke="#5353df" stroke-width="2.2"/><path d="M122.8 69.3C127.1 69.3 131.2 69.8 134.6 70.6" stroke="#4e4ed8" stroke-width="2.4"/><path d="M134.6 70.6C138 71.3 140.9 74.3 143.2 73.8" stroke="#4848cb" stroke-width="2.2"/><path d="M143.2 73.8C145.5 73.3 146.8 69.6 148.3 67.7" stroke="#4444ea" stroke-width="1.6"/><path d="M148.3 67.7C149.8 65.7 151 64 152.2 62.1" stroke="#4444ea" stroke-width="1.2"/><path d="M152.2 62.1C153.4 60.1 154.3 59 155.5 56.1C156.6 53.1 157.9 47.4 159.1 44.4" stroke="#4444ea" stroke-width="1"/><path d="M159.1 44.4C160.2 41.4 160.9 39.8 162.4 38" stroke="#4444ea" stroke-width="1.4"/><path d="M162.4 38C163.8 36.1 165.8 33.7 167.8 33.3" stroke="#4444ea" stroke-width="2.2"/><path d="M167.8 33.3C169.7 32.8 172.1 34.1 174.2 35.3" stroke="#7f7ff2" stroke-width="2.6"/><path d="M174.2 35.3C176.3 36.4 178.4 39.4 180.5 40.3" stroke="#7f7ff2" stroke-width="2.4"/><path d="M180.5 40.3C182.5 41.1 184.9 39.5 186.4 40.5C187.8 41.5 188.4 43.7 189.1 46.2" stroke="#4444ea" stroke-width="2.4"/><path d="M189.1 46.2C189.8 48.6 190 51.9 190.5 55.2C191 58.5 191.5 62.5 192.1 66.1C192.6 69.7 192.7 74 193.8 76.7" stroke="#4444ea" stroke-width="2.8"/><path d="M193.8 76.7C194.8 79.4 196.3 80.7 198.3 82.2" stroke="#4444ea" stroke-width="2.4"/><path d="M198.3 82.2C200.2 83.7 202.9 84.7 205.6 85.8C208.3 86.8 211.7 87.4 214.6 88.5" stroke="#4444ea" stroke-width="2"/><path d="M214.6 88.5C217.4 89.5 220.4 90.6 222.8 92.1" stroke="#4444ea" stroke-width="2.4"/><path d="M222.8 92.1C225.2 93.6 227.4 95.8 229.1 97.6" stroke="#4444ea" stroke-width="3"/><path d="M229.1 97.6C230.7 99.4 232.1 102.1 232.7 103" stroke="#4444ea" stroke-width="3.8"/></g><path d="M203.9,108.6 L209.3,104.5 L211.4,122.2 L208,118Z" fill="#c4c4f2" /><path d="M89,112 L87.5,118 L89,124 L92.5,127.5 L95,126.5 L94,120 L93.5,113Z" fill="#707088" /><path d="M130.6,110.4 L132.8,116 L132.8,125.2 L129.4,124.4 L125.5,122.5Z" fill="#6c6c84" /><path d="M93.8,98.2 L98.9,95.6 L105.7,94.3 L112.5,95.2 L119.2,98.6 L126,104.1 L130.6,110.4 L125.1,122.7 L120.1,119.3 L114.1,115.9 L107.4,112.5 L100.6,110.4 L93.8,110.8 L89.2,113Z" fill="#e87878" /><path d="M93.8,98.2 L98.9,95.6 L104,94.6 L101,110.4 L93.8,110.8 L89.2,113Z" fill="#f0a0a0" /><path d="M110.5,94.9 L115.5,96.4 L119.2,98.6 L114.1,115.9 L110.8,114.1 L107.8,112.6Z" fill="#e25c5c" />
<g fill="none" stroke-linecap="round" stroke-linejoin="round"><path d="M297.2 101.3C296.4 102.2 293.2 104.2 292.5 106.7C291.8 109.2 292.2 113.6 293.2 116.2" stroke="#414185" stroke-width="3.6"/><path d="M293.2 116.2C294.2 118.8 297.7 121.3 298.6 122.3" stroke="#414185" stroke-width="3.4"/><path d="M296.9 100.7C296.1 101.6 292.8 103.7 292.2 106.1" stroke="#8484df" stroke-width="2.4"/><path d="M292.2 106.1C291.5 108.6 291.8 113 292.9 115.6" stroke="#8484df" stroke-width="2.6"/><path d="M292.9 115.6C293.9 118.2 297.4 120.7 298.3 121.7" stroke="#8484df" stroke-width="2.4"/></g><g fill="none" stroke-linecap="round" stroke-linejoin="round"><path d="M298 101C298.7 98.9 300 91.8 302 88.5C304 85.2 307 82.7 310 81C313 79.3 316.6 78.5 320 78.3C323.4 78.1 327 79 330.5 80C334 81 337.5 83.4 341 84.5C344.5 85.6 348 86.6 351.5 86.7C355 86.8 358.6 85.8 362 85C365.4 84.2 368.6 82.5 372 82C375.4 81.5 378.9 81.3 382.2 82.3" stroke="#11118e" stroke-width="2.2"/><path d="M382.2 82.3C385.5 83.3 388.9 85.7 391.7 87.8C394.5 89.9 396.9 92.5 399 95" stroke="#11118e" stroke-width="2.4"/><path d="M399 95C401.1 97.5 402.7 100.2 404 102.6" stroke="#11118e" stroke-width="2.6"/><path d="M404 102.6C405.3 105 406 107.2 406.7 109.4" stroke="#11118e" stroke-width="3"/><path d="M406.7 109.4C407.4 111.6 407.8 114.9 408 116" stroke="#11118e" stroke-width="3.2"/><path d="M297.8 100.6C298.4 98.5 299.8 91.4 301.8 88.1C303.8 84.8 306.8 82.3 309.8 80.6C312.8 78.9 316.3 78.1 319.8 77.9C323.2 77.7 326.8 78.6 330.3 79.6C333.8 80.6 337.3 83 340.8 84.1C344.3 85.2 347.8 86.2 351.3 86.3C354.8 86.4 358.3 85.4 361.8 84.6C365.2 83.8 368.4 82.1 371.8 81.6C375.1 81.2 378.7 80.9 382 81.9C385.2 82.9 388.7 85.3 391.5 87.4C394.3 89.5 396.7 92.1 398.8 94.6" stroke="#4444ea" stroke-width="1.6"/><path d="M398.8 94.6C400.8 97.1 402.5 99.8 403.8 102.2" stroke="#4444ea" stroke-width="1.8"/><path d="M403.8 102.2C405 104.6 405.8 106.8 406.5 109" stroke="#4444ea" stroke-width="2"/><path d="M406.5 109C407.1 111.2 407.5 114.5 407.8 115.6" stroke="#4444ea" stroke-width="2.2"/></g><g fill="none" stroke-linecap="round" stroke-linejoin="round"><path d="M324.4 103C324.3 101.3 323.2 96.3 323.7 93.1C324.1 89.9 325.2 86.2 327.1 83.6C329 81 332.1 78.9 335.3 77.5" stroke="#11118e" stroke-width="2.2"/><path d="M335.3 77.5C338.5 76.1 342.6 75.6 346.2 75.4C349.8 75.2 354.2 75.3 357 76.1C359.8 76.9 361.6 78 362.8 80C364.1 82 364.7 85.2 364.5 88C364.3 90.8 363.1 94.3 361.8 97C360.6 99.7 358.1 101.7 357 104C355.9 106.3 355.1 108.8 355 110.8" stroke="#11118e" stroke-width="2"/><path d="M355 110.8C354.9 112.8 355.3 114.5 356.4 116.2C357.5 117.9 359.8 120.1 361.8 121C363.8 121.9 366.6 122.2 368.6 121.4C370.6 120.6 372.8 119.1 374 116.2" stroke="#11118e" stroke-width="2.2"/><path d="M374 116.2C375.2 113.3 375.6 107.7 376.1 104C376.6 100.3 376.2 96.7 376.8 94C377.4 91.3 378.4 90.1 379.5 87.9C380.6 85.8 381.9 82.7 383.5 81.1C385.1 79.5 386.7 79.4 389 78.4C391.3 77.4 394.6 76.2 397.1 75C399.6 73.8 402.2 72.6 403.9 70.9" stroke="#11118e" stroke-width="2"/><path d="M403.9 70.9C405.6 69.2 406.8 67 407.3 64.8C407.8 62.6 407.7 59.9 406.7 58C405.7 56.1 403.2 54.2 401.2 53.2C399.1 52.2 396.7 51.8 394.4 51.9C392.1 52 389.6 52.4 387.6 53.9" stroke="#11118e" stroke-width="2.2"/><path d="M387.6 53.9C385.6 55.4 384 57.8 382.2 60.7C380.4 63.7 378.6 69 376.8 71.6" stroke="#11118e" stroke-width="2"/><path d="M376.8 71.6C375 74.2 372.9 75.8 371.3 76.3" stroke="#11118e" stroke-width="2.4"/><path d="M371.3 76.3C369.7 76.8 368.2 76.2 367.2 74.3" stroke="#11118e" stroke-width="2.6"/><path d="M367.2 74.3C366.2 72.4 365.8 68 365.2 64.8" stroke="#11118e" stroke-width="2.8"/><path d="M365.2 64.8C364.6 61.6 364.6 58.1 363.8 55.3" stroke="#11118e" stroke-width="2.6"/><path d="M363.8 55.3C363 52.5 361.9 49.6 360.4 47.8" stroke="#11118e" stroke-width="2.4"/><path d="M360.4 47.8C358.9 46 356.9 44.7 355 44.4" stroke="#11118e" stroke-width="2.2"/><path d="M355 44.4C353.1 44.1 350.9 45.8 348.9 45.8C346.9 45.8 343.9 46.2 342.8 44.4C341.7 42.6 342.6 37.5 342.1 34.9C341.7 32.3 341.2 28.1 340.1 28.8" stroke="#11118e" stroke-width="2"/><path d="M340.1 28.8C339 29.5 337.2 34.8 335.3 39" stroke="#11118e" stroke-width="1.6"/><path d="M335.3 39C333.4 43.2 331 49.8 328.5 53.9C326 58 322.9 61 320.3 63.4" stroke="#11118e" stroke-width="1.4"/><path d="M320.3 63.4C317.7 65.8 314.1 67.4 312.9 68.2" stroke="#11118e" stroke-width="1.6"/><path d="M324.2 102.7C324.1 101 323 96 323.5 92.8C323.9 89.5 325 85.9 326.9 83.3" stroke="#4444ea" stroke-width="1.6"/><path d="M326.9 83.3C328.8 80.7 331.9 78.5 335.1 77.2C338.3 75.8 342.4 75.3 346 75.1C349.6 74.8 354 75 356.8 75.8C359.6 76.5 361.3 77.7 362.6 79.7C363.8 81.6 364.5 84.8 364.3 87.7C364.1 90.5 362.8 94 361.6 96.7C360.3 99.3 357.9 101.4 356.8 103.7C355.7 106 354.9 108.4 354.8 110.5C354.7 112.5 355.1 114.2 356.2 115.9" stroke="#4444ea" stroke-width="1.4"/><path d="M356.2 115.9C357.3 117.6 359.6 119.8 361.6 120.7C363.6 121.5 366.4 121.9 368.4 121.1" stroke="#4444ea" stroke-width="1.6"/><path d="M368.4 121.1C370.4 120.3 372.5 118.8 373.8 115.9C375 113 375.4 107.4 375.9 103.7C376.4 100 376 96.3 376.6 93.7C377.2 91 378.2 89.7 379.3 87.6C380.4 85.4 381.7 82.3 383.3 80.8C384.9 79.2 386.5 79.1 388.8 78.1C391.1 77 394.4 75.9 396.9 74.7C399.4 73.4 402 72.3 403.7 70.6C405.4 68.9 406.6 66.6 407.1 64.5" stroke="#4444ea" stroke-width="1.4"/><path d="M407.1 64.5C407.6 62.3 407.5 59.6 406.5 57.7C405.5 55.7 403 53.9 401 52.9C398.9 51.8 396.5 51.4 394.2 51.6" stroke="#4444ea" stroke-width="1.6"/><path d="M394.2 51.6C391.9 51.7 389.4 52.1 387.4 53.6C385.4 55 383.8 57.4 382 60.4C380.2 63.3 378.4 68.7 376.6 71.3" stroke="#4444ea" stroke-width="1.4"/><path d="M376.6 71.3C374.8 73.9 372.7 75.5 371.1 76" stroke="#4444ea" stroke-width="1.6"/><path d="M371.1 76C369.5 76.4 368 75.9 367 74" stroke="#4444ea" stroke-width="1.8"/><path d="M367 74C366 72 365.6 67.6 365 64.5" stroke="#4444ea" stroke-width="2"/><path d="M365 64.5C364.4 61.3 364.4 57.8 363.6 55" stroke="#4444ea" stroke-width="1.8"/><path d="M363.6 55C362.8 52.1 361.7 49.3 360.2 47.5" stroke="#4444ea" stroke-width="1.6"/><path d="M360.2 47.5C358.7 45.6 356.7 44.4 354.8 44.1C352.9 43.7 350.7 45.5 348.7 45.5C346.7 45.5 343.7 45.9 342.6 44.1C341.5 42.2 342.3 37.2 341.9 34.6C341.4 32 341 27.8 339.9 28.5" stroke="#4444ea" stroke-width="1.4"/><path d="M339.9 28.5C338.8 29.1 337 34.5 335.1 38.7" stroke="#4444ea" stroke-width="1.2"/><path d="M335.1 38.7C333.2 42.8 330.8 49.5 328.3 53.6C325.8 57.6 322.7 60.7 320.1 63.1C317.5 65.4 313.9 67.1 312.7 67.9" stroke="#4444ea" stroke-width="1"/></g><g fill="none" stroke-linecap="round" stroke-linejoin="round"><path d="M312.9 68.2C315 68 321.8 67.2 325.8 67.2" stroke="#11118e" stroke-width="2.4"/><path d="M325.8 67.2C329.8 67.2 333.2 67.6 336.7 68.2" stroke="#11118e" stroke-width="2.6"/><path d="M336.7 68.2C340.2 68.8 344.2 71.5 346.9 70.9" stroke="#11118e" stroke-width="2.4"/><path d="M346.9 70.9C349.6 70.3 351.1 67.4 353 64.8" stroke="#11118e" stroke-width="1.8"/><path d="M353 64.8C354.9 62.2 357 58.4 358.4 55.3" stroke="#11118e" stroke-width="1.4"/><path d="M358.4 55.3C359.8 52.2 359.9 49.4 361.1 46" stroke="#11118e" stroke-width="1.6"/><path d="M361.1 46C362.4 42.6 364.2 37.3 365.9 34.9" stroke="#11118e" stroke-width="2"/><path d="M365.9 34.9C367.6 32.5 369.3 31.7 371.3 31.5" stroke="#11118e" stroke-width="2.4"/><path d="M371.3 31.5C373.3 31.3 375.8 32.4 378.1 33.5" stroke="#11118e" stroke-width="2.6"/><path d="M378.1 33.5C380.4 34.6 382.9 37.5 384.9 38.3" stroke="#11118e" stroke-width="2.4"/><path d="M384.9 38.3C386.9 39.1 389.1 37.5 390.3 38.3C391.6 39.1 391.8 39.7 392.4 43" stroke="#11118e" stroke-width="2.2"/><path d="M392.4 43C393 46.3 393.1 53.7 393.7 58" stroke="#11118e" stroke-width="2.4"/><path d="M393.7 58C394.3 62.3 394.8 65.5 395.8 68.9" stroke="#11118e" stroke-width="2.6"/><path d="M395.8 68.9C396.8 72.3 398.1 76.1 399.9 78.4" stroke="#11118e" stroke-width="2.4"/><path d="M399.9 78.4C401.7 80.7 404.2 81.3 406.7 82.5" stroke="#11118e" stroke-width="2.2"/><path d="M406.7 82.5C409.2 83.7 412.1 84.7 414.8 85.5" stroke="#11118e" stroke-width="2.6"/><path d="M414.8 85.5C417.5 86.3 420.3 86.7 423 87.6" stroke="#40408f" stroke-width="3.6"/><path d="M423 87.6C425.7 88.5 428.8 89.6 431.1 91" stroke="#545488" stroke-width="4.6"/><path d="M431.1 91C433.4 92.4 435.2 94.2 436.6 96" stroke="#5f5f7c" stroke-width="5.4"/><path d="M436.6 96C438 97.8 438.9 100.6 439.3 101.5" stroke="#45454a" stroke-width="5.8"/><path d="M312.6 67.7C314.8 67.6 321.6 66.7 325.5 66.7" stroke="#4444ea" stroke-width="1.6"/><path d="M325.5 66.7C329.5 66.7 332.9 67.1 336.4 67.7" stroke="#4444ea" stroke-width="1.8"/><path d="M336.4 67.7C339.9 68.4 343.9 71 346.6 70.4" stroke="#4444ea" stroke-width="1.6"/><path d="M346.6 70.4C349.3 69.9 350.8 66.9 352.7 64.3" stroke="#4444ea" stroke-width="1.2"/><path d="M352.7 64.3C354.6 61.7 356.8 58 358.1 54.8C359.5 51.7 359.6 48.9 360.8 45.5" stroke="#4444ea" stroke-width="1"/><path d="M360.8 45.5C362.1 42.1 363.9 36.9 365.6 34.4" stroke="#4444ea" stroke-width="1.4"/><path d="M365.6 34.4C367.3 32 369 31.3 371 31" stroke="#4444ea" stroke-width="1.6"/><path d="M371 31C373.1 30.8 375.6 31.9 377.8 33" stroke="#4444ea" stroke-width="1.8"/><path d="M377.8 33C380.1 34.2 382.6 37 384.6 37.8C386.7 38.6 388.8 37.1 390 37.8C391.3 38.6 391.6 39.3 392.1 42.5C392.7 45.8 392.9 53.2 393.4 57.5" stroke="#4444ea" stroke-width="1.6"/><path d="M393.4 57.5C394 61.9 394.5 65 395.5 68.4" stroke="#4444ea" stroke-width="1.8"/><path d="M395.5 68.4C396.6 71.8 397.8 75.7 399.6 77.9C401.4 80.2 403.9 80.9 406.4 82" stroke="#4444ea" stroke-width="1.6"/><path d="M406.4 82C408.9 83.2 411.8 84.2 414.5 85" stroke="#4444ea" stroke-width="1.8"/><path d="M414.5 85C417.2 85.9 420 86.2 422.7 87.1" stroke="#8383ec" stroke-width="2.6"/><path d="M422.7 87.1C425.4 88.1 428.6 89.1 430.8 90.5" stroke="#9d9de2" stroke-width="3.2"/><path d="M430.8 90.5C433.1 91.9 435 93.8 436.3 95.5" stroke="#acacd1" stroke-width="3.6"/><path d="M436.3 95.5C437.7 97.3 438.6 100.1 439 101" stroke="#898990" stroke-width="4"/></g><path d="M295.9,101.3 L305.4,98.5 L314.9,99.9 L324.4,104 L331.2,109.4 L336.7,116.2 L338,120.3 L336.7,121.7 L333.3,121 L329.9,114.9 L324.4,109.4 L317.6,105.3 L308.1,102.6 L299.3,103.3Z" fill="#a0a0ec" /><path d="M314.9,99.9 L324.4,104 L331.2,109.4 L336.7,116.2 L338,120.3 L336.7,121.7 L333.3,121 L329.9,114.9 L324.4,109.4 L317.6,105.3Z" fill="#7070c0" /><path d="M407,101.3 L414.4,108.2 L415.2,110.3 L410.3,108.6 L408,105Z" fill="#f0dcdc" /><path d="M410.3,108.6 L415.2,111.9 L419.7,120.9 L415.2,116.4Z" fill="#f05858" /><path d="M404.7,107 L410.3,108.2 L415.2,116 L407,118.4 L405.4,112.7Z" fill="#4848b0" /><path d="M405.2,112.3 L406.2,112.6 L406.8,122.5 L405.4,122Z" fill="#e84848" /><path d="M406.2,118.4 L415.2,116.4 L419.7,120.9 L406.6,122.5Z" fill="#6a4242" />
<g fill="none" stroke-linecap="round" stroke-linejoin="round"><path d="M508.3 96.5C508.8 95 509.4 90.4 511 87.7C512.6 85 515.1 81.9 517.8 80.2C520.5 78.5 524.1 77.8 527.3 77.5C530.5 77.2 533.7 77.4 536.9 78.2C540.1 79 543 81 546.4 82.2C549.8 83.4 553.7 85.1 557.3 85.6C560.9 86.1 564.5 85.6 568.1 85C571.7 84.4 575.5 82.8 579 82.2" stroke="#23238a" stroke-width="2.4"/><path d="M579 82.2C582.5 81.6 585.9 80.9 589.2 81.6" stroke="#23238a" stroke-width="2.6"/><path d="M589.2 81.6C592.5 82.3 595.8 83.9 598.7 86.3" stroke="#23238a" stroke-width="3"/><path d="M598.7 86.3C601.7 88.7 604.4 92.6 606.9 95.8" stroke="#23238a" stroke-width="3.4"/><path d="M606.9 95.8C609.4 99 611.7 102.1 613.7 105.3" stroke="#23238a" stroke-width="3.8"/><path d="M613.7 105.3C615.7 108.5 617.8 112.3 619.1 114.9C620.5 117.5 621.3 120 621.8 121" stroke="#23238a" stroke-width="4.2"/><path d="M508 96C508.5 94.6 509.1 90 510.7 87.2C512.3 84.5 514.8 81.4 517.5 79.7C520.2 78 523.8 77.4 527 77C530.2 76.7 533.4 77 536.6 77.7C539.8 78.5 542.7 80.5 546.1 81.7C549.5 83 553.4 84.7 557 85.1C560.6 85.6 564.2 85.1 567.8 84.5C571.4 84 575.2 82.3 578.7 81.7" stroke="#5d5de5" stroke-width="1.6"/><path d="M578.7 81.7C582.2 81.2 585.6 80.5 588.9 81.1" stroke="#5d5de5" stroke-width="1.8"/><path d="M588.9 81.1C592.2 81.8 595.5 83.5 598.4 85.8" stroke="#5d5de5" stroke-width="2"/><path d="M598.4 85.8C601.4 88.2 604.1 92.2 606.6 95.3" stroke="#5d5de5" stroke-width="2.4"/><path d="M606.6 95.3C609.1 98.5 611.4 101.7 613.4 104.8" stroke="#5d5de5" stroke-width="2.6"/><path d="M613.4 104.8C615.4 108 617.5 111.8 618.8 114.4C620.2 117.1 621.1 119.5 621.5 120.5" stroke="#5d5de5" stroke-width="2.8"/></g><path d="M617,104.7 L621.1,104 L622.2,120.3 L619,115Z" fill="#8888e8" /><g fill="none" stroke-linecap="round" stroke-linejoin="round"><path d="M534.1 110.8C533.6 108.5 531.6 101 531.4 97.2C531.2 93.4 531.7 90.4 532.8 87.7C533.9 85 535.9 82.8 538.2 80.9C540.5 79 543.2 77.2 546.4 76.1C549.6 75 553.9 74 557.3 74.1C560.7 74.2 564.3 75.2 566.8 76.8C569.3 78.4 571.1 81.3 572.2 83.6C573.3 85.9 574.1 88.1 573.6 90.4C573.1 92.7 571 94.9 569.5 97.2C568 99.5 565.8 101.7 564.7 104C563.6 106.3 562.5 108.5 562.7 110.8C562.9 113.1 564.4 115.8 566.1 117.6C567.8 119.4 570.6 121.2 572.9 121.7C575.2 122.2 577.9 121.7 579.7 120.3C581.5 118.9 583 116.2 583.8 113.5C584.6 110.8 584.2 107.4 584.4 104C584.6 100.6 584.3 96.3 585.1 93.1C585.9 89.9 587.2 87.3 589.2 85C591.2 82.7 594.6 81.2 597.3 79.5C600 77.8 603 76.4 605.5 75C608 73.6 610.6 72.6 612.3 70.9C614 69.2 615.2 67 615.7 64.8C616.2 62.6 616 60 615 58C614 56 611.6 53.8 609.6 52.5C607.6 51.2 605.2 50.4 602.8 50.5C600.4 50.6 597.6 51.5 595.3 53.2" stroke="#202088" stroke-width="2.2"/><path d="M595.3 53.2C593 54.9 591 57.6 589.2 60.7C587.4 63.8 586.1 69 584.4 71.6" stroke="#202088" stroke-width="2"/><path d="M584.4 71.6C582.7 74.2 580.5 75.8 579 76.3" stroke="#202088" stroke-width="2.4"/><path d="M579 76.3C577.5 76.8 576.5 76.5 575.6 74.3" stroke="#202088" stroke-width="2.6"/><path d="M575.6 74.3C574.7 72.1 574.3 67 573.6 63.4" stroke="#202088" stroke-width="2.8"/><path d="M573.6 63.4C572.9 59.8 572.5 55.3 571.5 52.5" stroke="#202088" stroke-width="2.6"/><path d="M571.5 52.5C570.5 49.7 569 47.8 567.4 46.4" stroke="#202088" stroke-width="2.4"/><path d="M567.4 46.4C565.8 45 563.7 44.7 562 44.4" stroke="#202088" stroke-width="2.2"/><path d="M562 44.4C560.3 44.1 559.1 44.4 557.3 44.4C555.5 44.4 552.2 46.7 551.1 44.4C550 42.1 551 33.5 550.5 30.8C550 28.1 549.5 27 548.4 28.4" stroke="#202088" stroke-width="2"/><path d="M548.4 28.4C547.3 29.8 545.6 35 543.7 39" stroke="#202088" stroke-width="1.6"/><path d="M543.7 39C541.8 43 539.4 48.4 536.9 52.5C534.4 56.6 531.5 60.9 528.7 63.4" stroke="#202088" stroke-width="1.4"/><path d="M528.7 63.4C525.9 66 521.6 67.1 520.2 67.8" stroke="#202088" stroke-width="1.6"/><path d="M533.9 110.5C533.4 108.2 531.4 100.7 531.2 96.9C531 93 531.5 90.1 532.6 87.4" stroke="#5858e2" stroke-width="1.6"/><path d="M532.6 87.4C533.7 84.6 535.7 82.5 538 80.6C540.3 78.6 543 76.9 546.2 75.8C549.4 74.6 553.7 73.6 557.1 73.8C560.5 73.9 564.1 74.9 566.6 76.5C569.1 78 570.9 81 572 83.3C573.1 85.5 573.8 87.8 573.4 90.1C572.9 92.3 570.8 94.6 569.3 96.9C567.8 99.1 565.6 101.4 564.5 103.7C563.4 105.9 562.3 108.2 562.5 110.5" stroke="#5858e2" stroke-width="1.4"/><path d="M562.5 110.5C562.7 112.7 564.2 115.4 565.9 117.3C567.6 119.1 570.4 120.9 572.7 121.4C575 121.8 577.7 121.3 579.5 120" stroke="#5858e2" stroke-width="1.6"/><path d="M579.5 120C581.3 118.6 582.8 115.9 583.6 113.2C584.4 110.4 584 107.1 584.2 103.7C584.4 100.3 584.1 95.9 584.9 92.8C585.7 89.6 587 86.9 589 84.7C591 82.4 594.4 80.8 597.1 79.2C599.8 77.5 602.8 76.1 605.3 74.7C607.8 73.2 610.4 72.3 612.1 70.6" stroke="#5858e2" stroke-width="1.4"/><path d="M612.1 70.6C613.8 68.9 615 66.6 615.5 64.5C615.9 62.3 615.8 59.7 614.8 57.7C613.8 55.6 611.4 53.4 609.4 52.2C607.4 50.9 605 50 602.6 50.2" stroke="#5858e2" stroke-width="1.6"/><path d="M602.6 50.2C600.2 50.3 597.4 51.2 595.1 52.9C592.8 54.6 590.8 57.3 589 60.4C587.2 63.4 585.9 68.7 584.2 71.3" stroke="#5858e2" stroke-width="1.4"/><path d="M584.2 71.3C582.5 73.9 580.3 75.5 578.8 76" stroke="#5858e2" stroke-width="1.6"/><path d="M578.8 76C577.3 76.4 576.3 76.1 575.4 74" stroke="#5858e2" stroke-width="1.8"/><path d="M575.4 74C574.5 71.8 574.1 66.7 573.4 63.1" stroke="#5858e2" stroke-width="2"/><path d="M573.4 63.1C572.7 59.4 572.3 55 571.3 52.2" stroke="#5858e2" stroke-width="1.8"/><path d="M571.3 52.2C570.3 49.3 568.8 47.4 567.2 46.1" stroke="#5858e2" stroke-width="1.6"/><path d="M567.2 46.1C565.6 44.7 563.5 44.4 561.8 44.1C560.1 43.7 558.9 44.1 557.1 44.1C555.3 44.1 552 46.3 550.9 44.1C549.8 41.8 550.7 33.1 550.3 30.5C549.8 27.8 549.3 26.7 548.2 28.1" stroke="#5858e2" stroke-width="1.4"/><path d="M548.2 28.1C547.1 29.4 545.4 34.6 543.5 38.7" stroke="#5858e2" stroke-width="1.2"/><path d="M543.5 38.7C541.6 42.7 539.2 48.1 536.7 52.2C534.2 56.2 531.3 60.5 528.5 63.1C525.7 65.6 521.4 66.7 520 67.5" stroke="#5858e2" stroke-width="1"/></g><g fill="none" stroke-linecap="round" stroke-linejoin="round"><path d="M520.2 67.8C522.3 67.7 528.9 67.1 532.8 67.2" stroke="#101072" stroke-width="2.4"/><path d="M532.8 67.2C536.7 67.3 540 67.6 543.7 68.2" stroke="#101072" stroke-width="2.6"/><path d="M543.7 68.2C547.4 68.8 552.3 71.5 555.2 70.9" stroke="#101072" stroke-width="2.4"/><path d="M555.2 70.9C558.1 70.3 559.4 67.4 561.3 64.8" stroke="#101072" stroke-width="1.8"/><path d="M561.3 64.8C563.2 62.2 565.2 58.9 566.8 55.3" stroke="#101072" stroke-width="1.4"/><path d="M566.8 55.3C568.4 51.7 569.6 46.5 570.8 43" stroke="#101072" stroke-width="1.6"/><path d="M570.8 43C572 39.5 572.7 36.2 574.2 34.2" stroke="#101072" stroke-width="2"/><path d="M574.2 34.2C575.7 32.2 577.7 31.2 579.7 31.1" stroke="#101072" stroke-width="2.4"/><path d="M579.7 31.1C581.8 31 584.2 32.4 586.5 33.5" stroke="#101072" stroke-width="2.6"/><path d="M586.5 33.5C588.8 34.6 591.3 36.9 593.3 37.6" stroke="#101072" stroke-width="2.4"/><path d="M593.3 37.6C595.3 38.3 597.5 36.7 598.7 37.6C599.9 38.5 600.1 39.6 600.7 43" stroke="#101072" stroke-width="2.2"/><path d="M600.7 43C601.3 46.4 601.5 53.7 602.1 58" stroke="#101072" stroke-width="2.4"/><path d="M602.1 58C602.7 62.3 603.3 66 604.1 68.9C604.9 71.8 605.5 73.3 606.9 75.4" stroke="#101072" stroke-width="2.6"/><path d="M606.9 75.4C608.3 77.5 609.8 80 612.3 81.6" stroke="#31318a" stroke-width="2.6"/><path d="M612.3 81.6C614.8 83.2 618.6 83.8 621.8 85" stroke="#41418a" stroke-width="3"/><path d="M621.8 85C625 86.2 628.3 87.2 631.3 89" stroke="#4a4a8a" stroke-width="3.2"/><path d="M631.3 89C634.2 90.8 637.2 93.5 639.5 95.8" stroke="#4f4f8a" stroke-width="2.8"/><path d="M639.5 95.8C641.8 98.1 644 101.5 644.9 102.6" stroke="#54548a" stroke-width="2"/><path d="M520 67.4C522.1 67.3 528.6 66.8 532.6 66.8" stroke="#4343c4" stroke-width="1.6"/><path d="M532.6 66.8C536.5 66.9 539.7 67.2 543.5 67.8" stroke="#4343c4" stroke-width="1.8"/><path d="M543.5 67.8C547.2 68.4 552 71.1 555 70.5" stroke="#4343c4" stroke-width="1.6"/><path d="M555 70.5C557.9 70 559.1 67 561.1 64.4" stroke="#4343c4" stroke-width="1.2"/><path d="M561.1 64.4C563 61.8 565 58.6 566.6 54.9C568.1 51.3 569.3 46.1 570.6 42.6" stroke="#4343c4" stroke-width="1"/><path d="M570.6 42.6C571.8 39.1 572.5 35.8 574 33.8" stroke="#4343c4" stroke-width="1.4"/><path d="M574 33.8C575.4 31.8 577.4 30.8 579.5 30.7" stroke="#4343c4" stroke-width="1.6"/><path d="M579.5 30.7C581.5 30.6 584 32 586.3 33.1" stroke="#4343c4" stroke-width="1.8"/><path d="M586.3 33.1C588.5 34.2 591 36.5 593.1 37.2C595.1 37.9 597.2 36.3 598.5 37.2C599.7 38.1 599.9 39.2 600.5 42.6C601 46 601.3 53.3 601.9 57.6" stroke="#4343c4" stroke-width="1.6"/><path d="M601.9 57.6C602.4 61.9 603.1 65.6 603.9 68.5C604.7 71.4 605.3 72.9 606.7 75" stroke="#4343c4" stroke-width="1.8"/><path d="M606.7 75C608 77.1 609.6 79.6 612.1 81.2" stroke="#6f6fe5" stroke-width="1.8"/><path d="M612.1 81.2C614.5 82.8 618.4 83.4 621.6 84.6" stroke="#8484e5" stroke-width="2"/><path d="M621.6 84.6C624.7 85.9 628.1 86.8 631.1 88.6" stroke="#9090e5" stroke-width="2.2"/><path d="M631.1 88.6C634 90.4 637 93.2 639.3 95.4" stroke="#9696e5" stroke-width="2"/><path d="M639.3 95.4C641.5 97.7 643.8 101.1 644.7 102.2" stroke="#9d9de5" stroke-width="1.4"/></g><g fill="none" stroke-linecap="round" stroke-linejoin="round"><path d="M509.7 97.2C508.6 97.5 504.6 97.9 502.9 99.2" stroke="#976d6d" stroke-width="5.2"/><path d="M502.9 99.2C501.2 100.5 499.9 102.7 499.5 105.3" stroke="#926060" stroke-width="6"/><path d="M499.5 105.3C499.1 107.9 499.8 112.2 500.8 114.9" stroke="#6d6377" stroke-width="5.6"/><path d="M500.8 114.9C501.8 117.6 504.8 120.6 505.6 121.7" stroke="#3b3b4f" stroke-width="4.2"/><path d="M509.2 96.4C508.1 96.7 504.1 97 502.4 98.4" stroke="#f5bebe" stroke-width="3.6"/><path d="M502.4 98.4C500.7 99.7 499.3 101.9 499 104.5" stroke="#efadad" stroke-width="4"/><path d="M499 104.5C498.6 107.1 499.3 111.4 500.3 114.1" stroke="#beb1cb" stroke-width="3.8"/><path d="M500.3 114.1C501.3 116.8 504.3 119.8 505.1 120.9" stroke="#7c7c96" stroke-width="2.8"/></g><g fill="none" stroke-linecap="round" stroke-linejoin="round"><path d="M509.7 97.2C511.3 97.4 516.3 97.7 519.2 98.5" stroke="#987777" stroke-width="4.4"/><path d="M519.2 98.5C522.1 99.3 524.6 100.4 527.3 102" stroke="#947c7c" stroke-width="4.4"/><path d="M527.3 102C530 103.6 533 105.9 535.5 108.1" stroke="#856d72" stroke-width="4.2"/><path d="M535.5 108.1C538 110.2 540.6 112.9 542.3 114.9" stroke="#3b3b4a" stroke-width="4"/><path d="M542.3 114.9C544 116.9 545.1 119.4 545.7 120.3" stroke="#27273b" stroke-width="3.8"/><path d="M509.3 96.5C510.9 96.8 515.9 97 518.8 97.8" stroke="#f7cbcb" stroke-width="3"/><path d="M518.8 97.8C521.7 98.6 524.2 99.7 526.9 101.3" stroke="#f2d1d1" stroke-width="3"/><path d="M526.9 101.3C529.6 102.9 532.6 105.3 535.1 107.4" stroke="#dfbec4" stroke-width="2.8"/><path d="M535.1 107.4C537.6 109.6 540.2 112.2 541.9 114.2" stroke="#7c7c90" stroke-width="2.8"/><path d="M541.9 114.2C543.6 116.3 544.7 118.7 545.3 119.6" stroke="#62627c" stroke-width="2.6"/></g>
<g fill="none" stroke-linecap="round" stroke-linejoin="round"><path d="M119.8 278C119.6 276 118.8 269.8 118.8 266C118.9 262.2 119.3 258.1 120.1 255.1C120.9 252.1 122.1 249.9 123.7 247.9C125.3 245.9 127.5 244.3 129.7 243C131.9 241.7 134.2 240.6 137 240C139.8 239.4 143.8 239.1 146.6 239.4C149.4 239.7 151.9 240.6 153.9 241.8C155.9 243 157.8 244.8 158.7 246.6C159.6 248.4 159.9 250.9 159.3 252.7C158.7 254.5 157.2 256.5 155.1 257.5C153 258.5 148.8 258 146.6 258.7C144.4 259.4 142.4 260.2 141.8 261.6C141.2 263 141.8 265.5 143 267.2C144.2 268.9 146.9 270.8 149.1 272C151.3 273.2 153.9 274.1 156.3 274.4C158.8 274.7 161.3 274.7 163.8 273.8C166.3 272.9 169.7 271.4 171.4 269.3C173.1 267.2 173.4 264.3 174.1 261.1C174.8 257.9 174.8 253.3 175.5 250.3C176.2 247.3 177.2 244.9 178 243.1C178.8 241.3 179.2 240.9 180.3 239.7C181.4 238.5 182.7 236.9 184.3 235.7C185.9 234.5 187.8 233.4 189.8 232.5C191.8 231.6 194 231 196.1 230.2C198.2 229.4 201.1 228.5 202.5 227.5C203.9 226.5 204.7 225.3 204.7 224.4C204.7 223.5 203.9 222.4 202.5 222.1C201.1 221.8 198.4 222.1 196.1 222.5C193.8 222.9 191.5 223.7 188.9 224.4C186.3 225.1 183.3 225.9 180.7 226.6C178.1 227.3 175.9 227.5 173.5 228.4" stroke="#11118e" stroke-width="2.2"/><path d="M173.5 228.4C171.1 229.3 168.3 231.3 166.2 232.1" stroke="#11118e" stroke-width="2.4"/><path d="M166.2 232.1C164.1 232.9 162.2 233.3 160.9 233" stroke="#11118e" stroke-width="2.6"/><path d="M160.9 233C159.6 232.7 158.9 231.7 158.2 230.2" stroke="#11118e" stroke-width="2.8"/><path d="M158.2 230.2C157.4 228.7 156.9 226.8 156.4 223.9C155.9 221 155.4 216.2 155 213C154.6 209.8 154.6 207.5 154.1 204.9C153.6 202.3 152.9 199.6 151.9 197.6C150.9 195.6 149.7 194.2 148.2 193.1" stroke="#11118e" stroke-width="3"/><path d="M148.2 193.1C146.7 192 144.8 191.3 142.8 191.3" stroke="#11118e" stroke-width="2.8"/><path d="M142.8 191.3C140.8 191.3 138.3 192.3 136.4 193.1" stroke="#11118e" stroke-width="2.4"/><path d="M136.4 193.1C134.6 193.8 132.4 196.4 131.7 195.8C130.9 195.2 132 191.1 131.9 189.4" stroke="#11118e" stroke-width="2"/><path d="M131.9 189.4C131.8 187.7 131.4 185.6 131 185.4C130.6 185.2 130.1 186.6 129.6 188.5" stroke="#11118e" stroke-width="2.2"/><path d="M129.6 188.5C129.2 190.4 128.8 193.5 128.3 196.7" stroke="#11118e" stroke-width="2"/><path d="M128.3 196.7C127.8 199.9 127.3 204.3 126.5 207.6C125.7 210.9 124.4 214 123.3 216.6C122.2 219.2 121 221 119.7 223C118.4 225 117.4 227.1 115.6 228.4" stroke="#11118e" stroke-width="1.8"/><path d="M115.6 228.4C113.9 229.7 110.8 230.5 109.2 230.7" stroke="#11118e" stroke-width="2"/><path d="M109.2 230.7C107.6 230.8 106.3 230.1 106.1 229.3C106 228.5 106.9 226.8 108.3 225.7" stroke="#11118e" stroke-width="2.2"/><path d="M108.3 225.7C109.7 224.6 112.4 223.2 114.7 222.5" stroke="#11118e" stroke-width="2"/><path d="M114.7 222.5C117 221.8 119.5 221.3 121.9 221.2" stroke="#11118e" stroke-width="2.2"/><path d="M121.9 221.2C124.3 221 126.9 221.1 129.2 221.6C131.5 222.1 133.7 223.3 135.5 224.4C137.3 225.5 138.9 227.4 140.1 228.4C141.3 229.4 141.8 230.5 142.8 230.2" stroke="#11118e" stroke-width="2.4"/><path d="M142.8 230.2C143.9 229.9 145.2 228.1 146.4 226.6" stroke="#11118e" stroke-width="2.2"/><path d="M146.4 226.6C147.6 225.1 148.9 223.3 150 221.2C151.1 219.1 152.2 216.5 153.2 213.9C154.2 211.3 154.9 208.7 155.9 205.8" stroke="#11118e" stroke-width="2"/><path d="M155.9 205.8C156.9 202.9 158 199.2 159.1 196.7" stroke="#11118e" stroke-width="2.2"/><path d="M159.1 196.7C160.2 194.2 161.3 191.9 162.6 190.8" stroke="#11118e" stroke-width="2.6"/><path d="M162.6 190.8C163.9 189.7 165.4 189.7 167.1 189.9" stroke="#11118e" stroke-width="2.8"/><path d="M167.1 189.9C168.8 190.1 170.8 191.3 172.6 192.2" stroke="#11118e" stroke-width="3"/><path d="M172.6 192.2C174.4 193.1 176.7 194.7 178 195.3C179.3 195.9 179.9 196.3 180.7 195.8C181.4 195.3 182 193.2 182.5 192.2C183 191.2 183.1 189.6 183.4 189.9C183.7 190.2 184.1 191.3 184.3 194" stroke="#11118e" stroke-width="2.8"/><path d="M184.3 194C184.5 196.7 184.6 201.9 184.8 205.8C185 209.7 185.2 214.6 185.7 217.6C186.2 220.6 187 222 188 223.9C189 225.8 190.3 227.9 191.6 229.3" stroke="#11118e" stroke-width="3.2"/><path d="M191.6 229.3C193 230.7 194.5 231.7 196.1 232.1" stroke="#11118e" stroke-width="2.8"/><path d="M196.1 232.1C197.7 232.5 198.6 231.6 201.3 231.6C204 231.6 209.1 231 212.2 231.9" stroke="#11118e" stroke-width="2.4"/><path d="M212.2 231.9C215.3 232.8 217.7 235 219.9 237.2" stroke="#22228f" stroke-width="2.8"/><path d="M219.9 237.2C222.1 239.4 223.5 242.6 225.3 245.3" stroke="#3b3b94" stroke-width="4"/><path d="M225.3 245.3C227.1 248 229.2 251.4 230.8 253.5" stroke="#4f4f94" stroke-width="5.6"/><path d="M230.8 253.5C232.4 255.6 234.1 256.9 234.8 257.6" stroke="#6d6385" stroke-width="6.8"/><path d="M119.5 277.6C119.4 275.6 118.5 269.4 118.5 265.6C118.6 261.8 119 257.7 119.8 254.7C120.7 251.7 121.8 249.5 123.4 247.5C125 245.5 127.2 243.9 129.4 242.6C131.7 241.3 133.9 240.2 136.7 239.6C139.6 239 143.5 238.7 146.3 239C149.2 239.3 151.6 240.2 153.6 241.4C155.7 242.6 157.5 244.4 158.4 246.2C159.3 248 159.6 250.5 159 252.3C158.4 254.1 157 256.1 154.8 257.1C152.7 258.1 148.6 257.6 146.3 258.3C144.1 259 142.1 259.8 141.5 261.2C140.9 262.6 141.5 265.1 142.7 266.8C144 268.5 146.6 270.4 148.8 271.6C151.1 272.8 153.6 273.7 156 274C158.5 274.3 161 274.2 163.5 273.4C166.1 272.5 169.4 271 171.1 268.9C172.9 266.8 173.2 263.9 173.8 260.7C174.5 257.5 174.6 252.9 175.2 249.9C175.9 246.9 176.9 244.5 177.7 242.7C178.5 240.9 179 240.5 180 239.3C181.1 238.1 182.5 236.5 184 235.3C185.6 234.1 187.6 233 189.5 232.1C191.5 231.2 193.7 230.6 195.8 229.8C198 229 200.8 228.1 202.2 227.1C203.7 226.1 204.4 224.9 204.4 224C204.4 223.1 203.7 222 202.2 221.7C200.8 221.4 198.1 221.7 195.8 222.1C193.6 222.5 191.2 223.3 188.6 224C186.1 224.7 183 225.5 180.4 226.2C177.9 226.9 175.7 227.1 173.2 228C170.8 228.9 168 230.9 165.9 231.7" stroke="#4444ea" stroke-width="1.6"/><path d="M165.9 231.7C163.8 232.5 162 232.9 160.6 232.6" stroke="#4444ea" stroke-width="1.8"/><path d="M160.6 232.6C159.3 232.3 158.7 231.3 157.9 229.8C157.2 228.3 156.7 226.4 156.1 223.5C155.6 220.6 155.1 215.8 154.7 212.6C154.4 209.4 154.4 207.1 153.8 204.5C153.3 201.9 152.6 199.2 151.6 197.2C150.7 195.2 149.5 193.7 147.9 192.7" stroke="#4444ea" stroke-width="2"/><path d="M147.9 192.7C146.4 191.6 144.5 190.9 142.5 190.9" stroke="#4444ea" stroke-width="1.8"/><path d="M142.5 190.9C140.6 190.9 138 191.9 136.1 192.7" stroke="#4444ea" stroke-width="1.6"/><path d="M136.1 192.7C134.3 193.4 132.2 196 131.4 195.4C130.7 194.8 131.8 190.7 131.6 189" stroke="#4444ea" stroke-width="1.4"/><path d="M131.6 189C131.5 187.3 131.1 185.1 130.7 185" stroke="#4444ea" stroke-width="1.6"/><path d="M130.7 185C130.4 184.8 129.8 186.2 129.3 188.1C128.9 190 128.6 193.1 128 196.3" stroke="#4444ea" stroke-width="1.4"/><path d="M128 196.3C127.5 199.5 127.1 203.9 126.2 207.2C125.4 210.5 124.2 213.6 123 216.2C121.9 218.8 120.7 220.6 119.4 222.6C118.2 224.6 117.1 226.7 115.3 228" stroke="#4444ea" stroke-width="1.2"/><path d="M115.3 228C113.6 229.3 110.5 230.1 108.9 230.3" stroke="#4444ea" stroke-width="1.4"/><path d="M108.9 230.3C107.4 230.4 106 229.7 105.8 228.9" stroke="#4444ea" stroke-width="1.6"/><path d="M105.8 228.9C105.7 228.1 106.6 226.4 108 225.3C109.5 224.2 112.2 222.8 114.4 222.1C116.7 221.3 119.2 220.9 121.6 220.8" stroke="#4444ea" stroke-width="1.4"/><path d="M121.6 220.8C124.1 220.6 126.7 220.7 128.9 221.2C131.2 221.7 133.4 222.9 135.2 224C137.1 225.1 138.6 227 139.8 228C141.1 229 141.5 230.1 142.5 229.8C143.6 229.5 144.9 227.7 146.1 226.2" stroke="#4444ea" stroke-width="1.6"/><path d="M146.1 226.2C147.3 224.7 148.6 222.9 149.7 220.8C150.9 218.7 152 216.1 152.9 213.5C153.9 210.9 154.7 208.3 155.6 205.4" stroke="#4444ea" stroke-width="1.4"/><path d="M155.6 205.4C156.6 202.5 157.7 198.8 158.8 196.3" stroke="#4444ea" stroke-width="1.6"/><path d="M158.8 196.3C160 193.8 161 191.5 162.3 190.4" stroke="#4444ea" stroke-width="1.8"/><path d="M162.3 190.4C163.7 189.3 165.2 189.3 166.8 189.5C168.5 189.7 170.5 190.9 172.3 191.8C174.2 192.7 176.4 194.3 177.7 194.9" stroke="#4444ea" stroke-width="2"/><path d="M177.7 194.9C179.1 195.5 179.7 195.9 180.4 195.4C181.2 194.9 181.8 192.8 182.2 191.8C182.7 190.8 182.8 189.2 183.1 189.5" stroke="#4444ea" stroke-width="1.8"/><path d="M183.1 189.5C183.4 189.8 183.8 190.9 184 193.6" stroke="#4444ea" stroke-width="2"/><path d="M184 193.6C184.3 196.2 184.3 201.5 184.5 205.4C184.8 209.3 184.9 214.2 185.4 217.2C186 220.2 186.8 221.5 187.7 223.5C188.7 225.4 190 227.5 191.3 228.9" stroke="#4444ea" stroke-width="2.2"/><path d="M191.3 228.9C192.7 230.3 194.2 231.3 195.8 231.7" stroke="#4444ea" stroke-width="1.8"/><path d="M195.8 231.7C197.5 232.1 198.4 231.2 201 231.2C203.7 231.2 208.8 230.6 211.9 231.5" stroke="#4444ea" stroke-width="1.6"/><path d="M211.9 231.5C215 232.4 217.5 234.6 219.6 236.8" stroke="#5b5bec" stroke-width="2"/><path d="M219.6 236.8C221.8 239 223.2 242.2 225 244.9" stroke="#7c7cf2" stroke-width="2.8"/><path d="M225 244.9C226.9 247.6 229 251 230.5 253.1" stroke="#9696f2" stroke-width="3.8"/><path d="M230.5 253.1C232.1 255.1 233.9 256.5 234.5 257.2" stroke="#beb1df" stroke-width="4.6"/></g><g fill="none" stroke-linecap="round" stroke-linejoin="round"><path d="M88 255.5C89.2 254.9 93 254 95.3 252.1C97.6 250.2 99.6 246.7 101.9 244.2C104.2 241.7 106.8 238.8 109.2 237C111.6 235.2 114 233.8 116.4 233.4C118.8 233 121.3 233.8 123.7 234.6C126.1 235.4 128.7 237.4 130.9 238.2C133.1 239 134.4 239.2 137 239.2C139.6 239.2 143.4 238.7 146.6 238.1C149.8 237.5 153.4 236.4 156.3 235.8C159.2 235.2 161.6 234.5 163.8 234.3" stroke="#11118e" stroke-width="2.4"/><path d="M163.8 234.3C166 234.1 166.8 233.9 169.6 234.5" stroke="#11118e" stroke-width="2.6"/><path d="M169.6 234.5C172.4 235.1 177.3 236.1 180.5 237.9" stroke="#11118e" stroke-width="2.8"/><path d="M180.5 237.9C183.7 239.7 186.1 242.5 188.6 245.3" stroke="#11118e" stroke-width="3.2"/><path d="M188.6 245.3C191.1 248.1 193.1 251.5 195.4 254.9" stroke="#11118e" stroke-width="3.4"/><path d="M195.4 254.9C197.7 258.3 199.8 261.8 202.2 265.7" stroke="#090961" stroke-width="3.8"/><path d="M202.2 265.7C204.6 269.6 208.4 275.9 209.7 278" stroke="#09094f" stroke-width="4.4"/><path d="M87.7 255C88.9 254.5 92.7 253.5 95 251.6C97.3 249.8 99.3 246.3 101.6 243.7C103.9 241.2 106.5 238.3 108.9 236.5C111.3 234.7 113.7 233.3 116.1 232.9C118.5 232.5 121 233.3 123.4 234.1C125.8 234.9 128.4 237 130.6 237.7C132.8 238.5 134.1 238.8 136.7 238.7C139.3 238.7 143.1 238.2 146.3 237.6C149.5 237.1 153.2 236 156 235.3C158.9 234.7 161.3 234.1 163.5 233.8" stroke="#4444ea" stroke-width="1.6"/><path d="M163.5 233.8C165.7 233.6 166.5 233.4 169.3 234" stroke="#4444ea" stroke-width="1.8"/><path d="M169.3 234C172.1 234.6 177.1 235.6 180.2 237.4" stroke="#4444ea" stroke-width="2"/><path d="M180.2 237.4C183.4 239.2 185.8 242 188.3 244.8" stroke="#4444ea" stroke-width="2.2"/><path d="M188.3 244.8C190.8 247.7 192.9 251 195.1 254.4" stroke="#4444ea" stroke-width="2.4"/><path d="M195.1 254.4C197.4 257.8 199.5 261.4 201.9 265.2" stroke="#3b3baf" stroke-width="2.6"/><path d="M201.9 265.2C204.3 269.1 208.2 275.5 209.4 277.5" stroke="#3b3b96" stroke-width="3"/></g><path d="M194.1,238.5 L201.5,238.5 L200,247 L198.5,256 L197,247Z" fill="#7070f0" /><path d="M195.5,245 L199.8,245 L198.5,256 L197.2,252Z" fill="#2a2af0" /><g fill="none" stroke-linecap="round" stroke-linejoin="round"><path d="M79.5 257.6C80.2 257.4 82.2 256.6 84 256.6" stroke="#4b3436" stroke-width="5.2"/><path d="M84 256.6C85.8 256.6 87.8 256.9 90 257.4" stroke="#7c5b5b" stroke-width="6"/><path d="M90 257.4C92.2 257.9 94.7 258.6 97 259.5" stroke="#977e7e" stroke-width="6"/><path d="M97 259.5C99.3 260.4 101.7 261.3 104 262.5" stroke="#988383" stroke-width="5.2"/><path d="M104 262.5C106.3 263.7 109 265.2 111 266.8" stroke="#947777" stroke-width="4.8"/><path d="M111 266.8C113 268.4 114.8 270.4 116.2 272.2" stroke="#8f6d6d" stroke-width="4"/><path d="M116.2 272.2C117.6 274 118.6 275.9 119.3 277.5" stroke="#855e5e" stroke-width="3.4"/><path d="M119.3 277.5C120 279.1 120.3 280.8 120.5 281.5" stroke="#6d5454" stroke-width="2.6"/><path d="M79 256.9C79.8 256.7 81.8 255.9 83.5 255.9" stroke="#917276" stroke-width="3.6"/><path d="M83.5 255.9C85.3 255.8 87.4 256.2 89.5 256.7" stroke="#d1a7a7" stroke-width="4.2"/><path d="M89.5 256.7C91.7 257.2 94.2 257.9 96.5 258.8" stroke="#f5d5d5" stroke-width="4"/><path d="M96.5 258.8C98.9 259.6 101.2 260.6 103.5 261.8" stroke="#f7dbdb" stroke-width="3.6"/><path d="M103.5 261.8C105.9 263 108.5 264.5 110.5 266.1" stroke="#f2cbcb" stroke-width="3.2"/><path d="M110.5 266.1C112.6 267.7 114.4 269.7 115.7 271.5" stroke="#ecbebe" stroke-width="2.8"/><path d="M115.7 271.5C117.1 273.3 118.1 275.2 118.8 276.8" stroke="#dfaaaa" stroke-width="2.4"/><path d="M118.8 276.8C119.6 278.3 119.8 280.1 120 280.8" stroke="#be9d9d" stroke-width="1.8"/></g>
<g fill="none" stroke-linecap="round" stroke-linejoin="round"><path d="M323 264.9C323.2 263.1 323.5 257 324.3 254C325.1 251 326.3 248.8 327.9 246.8C329.5 244.8 331.7 243.2 333.9 241.9C336.1 240.6 338.4 239.5 341.2 238.9C344 238.3 348 238 350.8 238.3C353.6 238.6 356.1 239.5 358.1 240.7C360.1 241.9 362 243.7 362.9 245.5C363.8 247.3 364.1 249.8 363.5 251.6C362.9 253.4 361.4 255.4 359.3 256.4C357.2 257.4 353 256.9 350.8 257.6C348.6 258.3 346.6 259.1 346 260.5C345.4 261.9 346 264.4 347.2 266.1C348.4 267.8 351.1 269.7 353.3 270.9C355.5 272.1 358.1 273 360.5 273.3C362.9 273.6 365.5 273.6 368 272.7C370.5 271.8 373.9 270.3 375.6 268.2C377.3 266.1 377.6 263.2 378.3 260C379 256.8 379.1 252.2 379.7 249.2C380.3 246.2 381.4 243.8 382.2 242C383 240.2 383.4 239.8 384.5 238.6C385.6 237.4 386.9 235.8 388.5 234.6C390.1 233.4 392 232.3 394 231.4C396 230.5 398.2 229.9 400.3 229.1C402.4 228.3 405.3 227.4 406.7 226.4C408.1 225.4 408.9 224.2 408.9 223.3C408.9 222.4 408.1 221.3 406.7 221C405.3 220.7 402.6 221 400.3 221.4C398 221.8 395.7 222.6 393.1 223.3C390.5 224 387.5 224.8 384.9 225.5C382.3 226.2 380.1 226.4 377.7 227.3C375.3 228.2 372.5 230.2 370.4 231" stroke="#11118e" stroke-width="2.2"/><path d="M370.4 231C368.3 231.8 366.4 232.2 365.1 231.9" stroke="#11118e" stroke-width="2.4"/><path d="M365.1 231.9C363.8 231.6 363.1 230.6 362.4 229.1" stroke="#11118e" stroke-width="2.6"/><path d="M362.4 229.1C361.6 227.6 361.1 225.7 360.6 222.8C360.1 219.9 359.6 215.1 359.2 211.9C358.8 208.7 358.8 206.4 358.3 203.8C357.8 201.2 357.1 198.5 356.1 196.5C355.1 194.5 353.9 193.1 352.4 192" stroke="#11118e" stroke-width="2.8"/><path d="M352.4 192C350.9 190.9 349 190.2 347 190.2" stroke="#11118e" stroke-width="2.6"/><path d="M347 190.2C345 190.2 342.5 191.2 340.6 192" stroke="#11118e" stroke-width="2.4"/><path d="M340.6 192C338.8 192.8 336.6 195.3 335.9 194.7C335.1 194.1 336.2 190 336.1 188.3" stroke="#11118e" stroke-width="2"/><path d="M336.1 188.3C336 186.6 335.6 184.5 335.2 184.3" stroke="#11118e" stroke-width="2.2"/><path d="M335.2 184.3C334.8 184.2 334.2 185.5 333.8 187.4C333.4 189.3 333 192.4 332.5 195.6" stroke="#11118e" stroke-width="2"/><path d="M332.5 195.6C332 198.8 331.5 203.2 330.7 206.5C329.9 209.8 328.6 212.9 327.5 215.5C326.4 218.1 325.2 219.9 323.9 221.9C322.6 223.9 321.6 226 319.8 227.3" stroke="#11118e" stroke-width="1.8"/><path d="M319.8 227.3C318.1 228.6 315 229.4 313.4 229.6" stroke="#11118e" stroke-width="2"/><path d="M313.4 229.6C311.8 229.8 310.4 229 310.3 228.2" stroke="#11118e" stroke-width="2.2"/><path d="M310.3 228.2C310.2 227.4 311.1 225.7 312.5 224.6C313.9 223.5 316.6 222.2 318.9 221.4C321.2 220.7 323.7 220.2 326.1 220.1" stroke="#11118e" stroke-width="2"/><path d="M326.1 220.1C328.5 219.9 331.1 220 333.4 220.5C335.7 221 337.9 222.2 339.7 223.3C341.5 224.4 343.1 226.3 344.3 227.3C345.5 228.3 345.9 229.4 347 229.1C348.1 228.8 349.4 227 350.6 225.5" stroke="#11118e" stroke-width="2.2"/><path d="M350.6 225.5C351.8 224 353.1 222.2 354.2 220.1" stroke="#11118e" stroke-width="2"/><path d="M354.2 220.1C355.3 218 356.4 215.4 357.4 212.8" stroke="#11118e" stroke-width="1.8"/><path d="M357.4 212.8C358.4 210.2 359.1 207.6 360.1 204.7" stroke="#11118e" stroke-width="2"/><path d="M360.1 204.7C361.1 201.8 362.2 198.1 363.3 195.6" stroke="#11118e" stroke-width="2.2"/><path d="M363.3 195.6C364.4 193.1 365.5 190.8 366.8 189.7" stroke="#11118e" stroke-width="2.4"/><path d="M366.8 189.7C368.1 188.6 369.6 188.6 371.3 188.8" stroke="#11118e" stroke-width="2.6"/><path d="M371.3 188.8C373 189 375 190.2 376.8 191.1" stroke="#11118e" stroke-width="2.8"/><path d="M376.8 191.1C378.6 192 380.9 193.6 382.2 194.2C383.5 194.8 384.1 195.2 384.9 194.7C385.6 194.2 386.2 192.1 386.7 191.1C387.1 190.1 387.3 188.5 387.6 188.8C387.9 189.1 388.3 190.2 388.5 192.9" stroke="#11118e" stroke-width="2.6"/><path d="M388.5 192.9C388.7 195.6 388.8 200.8 389 204.7" stroke="#11118e" stroke-width="3"/><path d="M389 204.7C389.2 208.6 389.4 213.5 389.9 216.5C390.4 219.5 391.2 220.9 392.2 222.8" stroke="#11118e" stroke-width="3.2"/><path d="M392.2 222.8C393.2 224.8 394.4 226.8 395.8 228.2" stroke="#11118e" stroke-width="3"/><path d="M395.8 228.2C397.2 229.6 398.7 230.6 400.3 231" stroke="#11118e" stroke-width="2.6"/><path d="M400.3 231C401.9 231.4 402.8 230.5 405.5 230.5" stroke="#37378a" stroke-width="2.2"/><path d="M405.5 230.5C408.2 230.5 413.7 230.2 416.4 230.8" stroke="#45458d" stroke-width="2.2"/><path d="M416.4 230.8C419.1 231.4 420 232.3 421.8 234.2" stroke="#4f4f8f" stroke-width="2.6"/><path d="M421.8 234.2C423.6 236.1 425.5 239.7 427.3 242.4" stroke="#56568f" stroke-width="3.2"/><path d="M427.3 242.4C429.1 245.1 431.2 248 432.7 250.5" stroke="#59598f" stroke-width="4.2"/><path d="M432.7 250.5C434.2 253 435.5 256.2 436.1 257.3" stroke="#59598f" stroke-width="4.6"/><path d="M322.8 264.5C323 262.7 323.2 256.6 324.1 253.6C324.9 250.6 326.1 248.4 327.7 246.4C329.3 244.4 331.4 242.8 333.7 241.5C335.9 240.2 338.1 239.1 341 238.5C343.8 237.9 347.7 237.6 350.6 237.9C353.4 238.2 355.8 239.1 357.9 240.3C359.9 241.5 361.8 243.3 362.7 245.1C363.6 246.9 363.9 249.4 363.3 251.2C362.7 253 361.2 255 359.1 256C356.9 257 352.8 256.5 350.6 257.2C348.3 257.9 346.4 258.7 345.8 260.1C345.2 261.5 345.7 264 347 265.7C348.2 267.5 350.8 269.3 353.1 270.5C355.3 271.7 357.8 272.6 360.3 272.9C362.7 273.2 365.2 273.2 367.8 272.3C370.3 271.5 373.6 269.9 375.4 267.8C377.1 265.7 377.4 262.8 378.1 259.6C378.7 256.5 378.8 251.8 379.5 248.8C380.1 245.8 381.2 243.4 382 241.6C382.8 239.9 383.2 239.5 384.3 238.2C385.3 237 386.7 235.4 388.3 234.2C389.8 233 391.8 231.9 393.8 231C395.7 230.1 397.9 229.6 400.1 228.7C402.2 227.9 405 227 406.5 226C407.9 225.1 408.7 223.8 408.7 222.9C408.7 222 407.9 220.9 406.5 220.6C405 220.3 402.3 220.6 400.1 221C397.8 221.4 395.4 222.2 392.9 222.9C390.3 223.6 387.2 224.5 384.7 225.1C382.1 225.8 379.9 226 377.5 226.9C375 227.8 372.3 229.9 370.2 230.6" stroke="#4444ea" stroke-width="1.4"/><path d="M370.2 230.6C368.1 231.4 366.2 231.8 364.9 231.5" stroke="#4444ea" stroke-width="1.6"/><path d="M364.9 231.5C363.5 231.2 362.9 230.2 362.2 228.7" stroke="#4444ea" stroke-width="1.8"/><path d="M362.2 228.7C361.4 227.2 360.9 225.3 360.4 222.4C359.8 219.6 359.3 214.7 359 211.5C358.6 208.4 358.6 206 358.1 203.4C357.5 200.9 356.8 198.1 355.9 196.1" stroke="#4444ea" stroke-width="2"/><path d="M355.9 196.1C354.9 194.2 353.7 192.7 352.2 191.6C350.6 190.6 348.7 189.8 346.8 189.8" stroke="#4444ea" stroke-width="1.8"/><path d="M346.8 189.8C344.8 189.8 342.2 190.9 340.4 191.6" stroke="#4444ea" stroke-width="1.6"/><path d="M340.4 191.6C338.5 192.4 336.4 194.9 335.7 194.3C334.9 193.7 336 189.7 335.9 187.9C335.7 186.2 335.3 184.1 335 183.9C334.6 183.8 334 185.1 333.6 187C333.1 188.9 332.8 192 332.3 195.2" stroke="#4444ea" stroke-width="1.4"/><path d="M332.3 195.2C331.7 198.4 331.3 202.8 330.5 206.1C329.6 209.4 328.4 212.6 327.3 215.1C326.1 217.7 324.9 219.6 323.7 221.5C322.4 223.5 321.3 225.6 319.6 226.9" stroke="#4444ea" stroke-width="1.2"/><path d="M319.6 226.9C317.8 228.2 314.7 229.1 313.2 229.2C311.6 229.4 310.2 228.7 310.1 227.8C309.9 227 310.8 225.4 312.3 224.2C313.7 223.1 316.4 221.8 318.7 221C320.9 220.3 323.4 219.9 325.9 219.7C328.3 219.6 330.9 219.6 333.2 220.1" stroke="#4444ea" stroke-width="1.4"/><path d="M333.2 220.1C335.4 220.7 337.6 221.8 339.5 222.9C341.3 224.1 342.8 226 344.1 226.9C345.3 227.9 345.7 229 346.8 228.7" stroke="#4444ea" stroke-width="1.6"/><path d="M346.8 228.7C347.8 228.4 349.2 226.6 350.4 225.1C351.6 223.6 352.8 221.8 354 219.7" stroke="#4444ea" stroke-width="1.4"/><path d="M354 219.7C355.1 217.6 356.2 215 357.2 212.4" stroke="#4444ea" stroke-width="1.2"/><path d="M357.2 212.4C358.1 209.9 358.9 207.2 359.9 204.3C360.8 201.5 361.9 197.7 363.1 195.2" stroke="#4444ea" stroke-width="1.4"/><path d="M363.1 195.2C364.2 192.7 365.2 190.5 366.6 189.3" stroke="#4444ea" stroke-width="1.6"/><path d="M366.6 189.3C367.9 188.2 369.4 188.2 371.1 188.4" stroke="#4444ea" stroke-width="1.8"/><path d="M371.1 188.4C372.7 188.7 374.7 189.8 376.6 190.7" stroke="#4444ea" stroke-width="2"/><path d="M376.6 190.7C378.4 191.6 380.6 193.2 382 193.8C383.3 194.4 383.9 194.8 384.7 194.3C385.4 193.8 386 191.7 386.5 190.7C386.9 189.7 387.1 188.1 387.4 188.4C387.7 188.7 388 189.9 388.3 192.5" stroke="#4444ea" stroke-width="1.8"/><path d="M388.3 192.5C388.5 195.2 388.5 200.4 388.8 204.3" stroke="#4444ea" stroke-width="2"/><path d="M388.8 204.3C389 208.3 389.1 213.1 389.7 216.1C390.2 219.1 391 220.5 392 222.4" stroke="#4444ea" stroke-width="2.2"/><path d="M392 222.4C392.9 224.4 394.2 226.5 395.6 227.8" stroke="#4444ea" stroke-width="2"/><path d="M395.6 227.8C396.9 229.2 398.4 230.2 400.1 230.6" stroke="#4444ea" stroke-width="1.8"/><path d="M400.1 230.6C401.7 231 402.6 230.2 405.3 230.1" stroke="#7777e5" stroke-width="1.4"/><path d="M405.3 230.1C407.9 230.1 413.4 229.8 416.2 230.4" stroke="#8989e8" stroke-width="1.4"/><path d="M416.2 230.4C418.9 231 419.7 231.9 421.6 233.8" stroke="#9696ec" stroke-width="1.8"/><path d="M421.6 233.8C423.4 235.8 425.2 239.3 427.1 242" stroke="#a0a0ec" stroke-width="2.2"/><path d="M427.1 242C428.9 244.7 431 247.6 432.5 250.1" stroke="#a3a3ec" stroke-width="2.8"/><path d="M432.5 250.1C433.9 252.6 435.3 255.8 435.9 256.9" stroke="#a3a3ec" stroke-width="3.2"/></g><g fill="none" stroke-linecap="round" stroke-linejoin="round"><path d="M299.5 251C300.6 249.7 303.8 245.6 306.1 243.1C308.4 240.6 311 237.7 313.4 235.9C315.8 234.1 318.2 232.7 320.6 232.3C323 231.9 325.5 232.7 327.9 233.5C330.3 234.3 332.9 236.3 335.1 237.1C337.3 237.9 338.6 238.1 341.2 238.1" stroke="#11118e" stroke-width="2.2"/><path d="M341.2 238.1C343.8 238.1 347.6 237.6 350.8 237" stroke="#11118e" stroke-width="2.4"/><path d="M350.8 237C354 236.4 357.6 235.3 360.5 234.7" stroke="#11118e" stroke-width="2.6"/><path d="M360.5 234.7C363.4 234.1 365.9 233.6 368 233.2" stroke="#47478f" stroke-width="3"/><path d="M368 233.2C370.1 232.8 371 232.2 373.1 232.3" stroke="#47478f" stroke-width="3.2"/><path d="M373.1 232.3C375.2 232.4 378.3 233 380.4 233.7C382.5 234.4 384.1 235.2 385.8 236.4C387.5 237.6 388.6 238.9 390.5 241C392.4 243.1 395.2 246.2 397.3 249.2" stroke="#47478f" stroke-width="3.4"/><path d="M397.3 249.2C399.4 252.1 401.2 255.8 402.8 258.7" stroke="#686894" stroke-width="3.4"/><path d="M402.8 258.7C404.4 261.6 405.5 264.4 406.9 266.9" stroke="#808099" stroke-width="3.4"/><path d="M406.9 266.9C408.2 269.4 409.5 272.1 410.9 273.7" stroke="#454580" stroke-width="3.6"/><path d="M410.9 273.7C412.2 275.3 414.3 275.9 415 276.4" stroke="#1d1d4f" stroke-width="3.8"/><path d="M299.2 250.5C300.3 249.2 303.5 245.2 305.8 242.6C308.1 240.1 310.7 237.2 313.1 235.4C315.5 233.6 317.9 232.2 320.3 231.8C322.7 231.4 325.2 232.2 327.6 233C330 233.8 332.6 235.9 334.8 236.6C337 237.4 338.3 237.7 340.9 237.6" stroke="#4444ea" stroke-width="1.4"/><path d="M340.9 237.6C343.5 237.6 347.3 237.1 350.5 236.5" stroke="#4444ea" stroke-width="1.6"/><path d="M350.5 236.5C353.7 236 357.3 234.9 360.2 234.2" stroke="#4444ea" stroke-width="1.8"/><path d="M360.2 234.2C363.1 233.6 365.6 233.1 367.7 232.7" stroke="#8d8dec" stroke-width="2"/><path d="M367.7 232.7C369.8 232.3 370.7 231.8 372.8 231.8" stroke="#8d8dec" stroke-width="2.2"/><path d="M372.8 231.8C374.9 231.9 378 232.6 380.1 233.2C382.2 233.9 383.8 234.7 385.5 235.9C387.2 237.2 388.3 238.4 390.2 240.5C392.1 242.7 395 245.8 397 248.7" stroke="#8d8dec" stroke-width="2.4"/><path d="M397 248.7C399.1 251.7 400.9 255.3 402.5 258.2" stroke="#b7b7f2" stroke-width="2.4"/><path d="M402.5 258.2C404.1 261.2 405.3 263.9 406.6 266.4" stroke="#d8d8f9" stroke-width="2.4"/><path d="M406.6 266.4C408 268.9 409.3 271.7 410.6 273.2" stroke="#8989d8" stroke-width="2.4"/><path d="M410.6 273.2C412 274.8 414 275.5 414.7 275.9" stroke="#555596" stroke-width="2.6"/></g><path d="M399.4,237.6 L405.5,237.6 L404.5,252 L403.5,260 L401,252Z" fill="#b8b8f0" /><path d="M295.3,251.6 L304.9,252.2 L312.2,256.4 L318.2,262.5 L323,270.9 L324.3,278.2 L323,277 L320.6,270.9 L314.6,263.7 L307.3,258.2 L298.9,256.7 L291.6,261.3 L288.5,261 L290,257Z" fill="#b4b4f0" /><path d="M312.2,256.4 L318.2,262.5 L323,270.9 L324.3,278.2 L323,277 L320.6,270.9 L314.6,263.7Z" fill="#5656b8" /><path d="M288.5,261 L290,257 L293,255 L291.6,261.3Z" fill="#30308a" />
<g fill="none" stroke-linecap="round" stroke-linejoin="round"><path d="M529.2 264.6C529.4 262.8 529.7 256.7 530.5 253.7C531.3 250.7 532.5 248.5 534.1 246.5C535.7 244.5 537.9 242.9 540.1 241.6C542.3 240.3 544.6 239.2 547.4 238.6C550.2 238 554.2 237.7 557 238C559.8 238.3 562.3 239.2 564.3 240.4C566.3 241.6 568.2 243.4 569.1 245.2C570 247 570.3 249.5 569.7 251.3C569.1 253.1 567.6 255.1 565.5 256.1C563.4 257.1 559.2 256.6 557 257.3C554.8 258 552.8 258.8 552.2 260.2C551.6 261.6 552.2 264.1 553.4 265.8C554.6 267.5 557.3 269.4 559.5 270.6C561.7 271.8 564.2 272.7 566.7 273C569.2 273.3 571.7 273.2 574.2 272.4C576.7 271.5 580.1 270 581.8 267.9C583.5 265.8 583.8 262.9 584.5 259.7C585.2 256.5 585.2 251.9 585.9 248.9C586.5 245.9 587.6 243.5 588.4 241.7C589.2 239.9 589.7 239.5 590.7 238.3C591.8 237.1 593.1 235.5 594.7 234.3C596.3 233.1 598.2 232 600.2 231.1C602.2 230.2 604.4 229.6 606.5 228.8C608.6 228 611.5 227.1 612.9 226.1C614.3 225.1 615.1 223.9 615.1 223C615.1 222.1 614.3 221 612.9 220.7C611.5 220.4 608.8 220.7 606.5 221.1C604.2 221.5 601.9 222.3 599.3 223C596.7 223.7 593.7 224.5 591.1 225.2C588.5 225.9 586.3 226.1 583.9 227C581.5 227.9 578.7 229.9 576.6 230.7" stroke="#11118e" stroke-width="2.2"/><path d="M576.6 230.7C574.5 231.5 572.6 231.9 571.3 231.6" stroke="#11118e" stroke-width="2.4"/><path d="M571.3 231.6C570 231.3 569.3 230.3 568.6 228.8" stroke="#11118e" stroke-width="2.6"/><path d="M568.6 228.8C567.8 227.3 567.3 225.4 566.8 222.5C566.3 219.6 565.8 214.8 565.4 211.6C565 208.4 565 206.1 564.5 203.5C564 200.9 563.3 198.2 562.3 196.2C561.3 194.2 560.1 192.8 558.6 191.7" stroke="#11118e" stroke-width="2.8"/><path d="M558.6 191.7C557.1 190.6 555.2 189.9 553.2 189.9" stroke="#11118e" stroke-width="2.6"/><path d="M553.2 189.9C551.2 189.9 548.6 190.9 546.8 191.7" stroke="#11118e" stroke-width="2.4"/><path d="M546.8 191.7C544.9 192.4 542.8 195 542.1 194.4C541.3 193.8 542.4 189.7 542.3 188" stroke="#11118e" stroke-width="2"/><path d="M542.3 188C542.2 186.3 541.8 184.2 541.4 184" stroke="#11118e" stroke-width="2.2"/><path d="M541.4 184C541 183.8 540.5 185.2 540 187.1C539.5 189 539.2 192.1 538.7 195.3" stroke="#11118e" stroke-width="2"/><path d="M538.7 195.3C538.2 198.5 537.7 202.9 536.9 206.2C536.1 209.5 534.8 212.6 533.7 215.2C532.6 217.8 531.4 219.6 530.1 221.6C528.8 223.6 527.8 225.7 526 227" stroke="#11118e" stroke-width="1.8"/><path d="M526 227C524.2 228.3 521.2 229.1 519.6 229.3" stroke="#11118e" stroke-width="2"/><path d="M519.6 229.3C518 229.4 516.6 228.7 516.5 227.9" stroke="#11118e" stroke-width="2.2"/><path d="M516.5 227.9C516.4 227.1 517.3 225.4 518.7 224.3C520.1 223.2 522.8 221.8 525.1 221.1C527.4 220.3 529.9 219.9 532.3 219.8" stroke="#11118e" stroke-width="2"/><path d="M532.3 219.8C534.7 219.6 537.3 219.7 539.6 220.2C541.9 220.7 544.1 221.9 545.9 223C547.7 224.1 549.3 226 550.5 227C551.7 228 552.2 229.1 553.2 228.8C554.2 228.5 555.6 226.7 556.8 225.2" stroke="#11118e" stroke-width="2.2"/><path d="M556.8 225.2C558 223.7 559.3 221.9 560.4 219.8" stroke="#11118e" stroke-width="2"/><path d="M560.4 219.8C561.5 217.7 562.6 215.1 563.6 212.5" stroke="#11118e" stroke-width="1.8"/><path d="M563.6 212.5C564.6 209.9 565.3 207.3 566.3 204.4" stroke="#11118e" stroke-width="2"/><path d="M566.3 204.4C567.3 201.5 568.4 197.8 569.5 195.3" stroke="#11118e" stroke-width="2.2"/><path d="M569.5 195.3C570.6 192.8 571.7 190.5 573 189.4" stroke="#11118e" stroke-width="2.4"/><path d="M573 189.4C574.3 188.3 575.8 188.3 577.5 188.5" stroke="#11118e" stroke-width="2.6"/><path d="M577.5 188.5C579.2 188.7 581.2 189.9 583 190.8" stroke="#11118e" stroke-width="2.8"/><path d="M583 190.8C584.8 191.7 587 193.3 588.4 193.9C589.8 194.5 590.3 194.9 591.1 194.4C591.8 193.9 592.4 191.8 592.9 190.8C593.4 189.8 593.5 188.2 593.8 188.5C594.1 188.8 594.5 189.9 594.7 192.6" stroke="#11118e" stroke-width="2.6"/><path d="M594.7 192.6C594.9 195.2 595 200.5 595.2 204.4" stroke="#11118e" stroke-width="3"/><path d="M595.2 204.4C595.4 208.3 595.6 213.2 596.1 216.2C596.6 219.2 597.4 220.6 598.4 222.5" stroke="#11118e" stroke-width="3.2"/><path d="M598.4 222.5C599.4 224.4 600.6 226.5 602 227.9" stroke="#11118e" stroke-width="3"/><path d="M602 227.9C603.4 229.3 604.9 230.3 606.5 230.7" stroke="#11118e" stroke-width="2.6"/><path d="M606.5 230.7C608.1 231.1 609 230.2 611.7 230.2C614.4 230.2 619.9 229.9 622.6 230.5C625.3 231.1 626.2 232 628 233.9" stroke="#11118e" stroke-width="2.2"/><path d="M628 233.9C629.8 235.8 631.7 239.4 633.5 242.1" stroke="#11118e" stroke-width="2.4"/><path d="M633.5 242.1C635.3 244.8 637.4 247.7 638.9 250.2" stroke="#1d1d8a" stroke-width="2.4"/><path d="M638.9 250.2C640.4 252.7 641.7 255.9 642.3 257" stroke="#2c2c8a" stroke-width="2.6"/><path d="M529 264.2C529.2 262.4 529.5 256.4 530.3 253.3C531.1 250.3 532.3 248.2 533.9 246.1C535.5 244.1 537.7 242.6 539.9 241.2C542.1 239.9 544.4 238.8 547.2 238.2C550 237.6 554 237.3 556.8 237.6C559.6 237.9 562.1 238.8 564.1 240C566.1 241.2 568 243 568.9 244.8C569.8 246.7 570.1 249.1 569.5 250.9C568.9 252.8 567.4 254.7 565.3 255.7C563.2 256.7 559 256.3 556.8 256.9C554.6 257.6 552.6 258.4 552 259.8C551.4 261.3 552 263.7 553.2 265.4C554.4 267.2 557.1 269 559.3 270.2C561.5 271.4 564 272.3 566.5 272.6C568.9 272.9 571.5 272.9 574 272C576.5 271.2 579.9 269.7 581.6 267.5C583.3 265.4 583.6 262.5 584.3 259.3C585 256.2 585 251.5 585.7 248.5C586.3 245.5 587.4 243.1 588.2 241.3C589 239.6 589.4 239.2 590.5 237.9C591.5 236.7 592.9 235.1 594.5 233.9C596.1 232.7 598 231.7 600 230.7C601.9 229.8 604.2 229.3 606.3 228.4C608.4 227.6 611.2 226.7 612.7 225.7C614.1 224.8 614.9 223.5 614.9 222.6C614.9 221.7 614.1 220.7 612.7 220.3C611.2 220 608.5 220.4 606.3 220.7C604 221.1 601.6 222 599.1 222.6C596.5 223.3 593.4 224.2 590.9 224.8C588.3 225.5 586.1 225.7 583.7 226.6C581.3 227.6 578.5 229.6 576.4 230.3" stroke="#4444ea" stroke-width="1.4"/><path d="M576.4 230.3C574.3 231.1 572.4 231.6 571.1 231.2" stroke="#4444ea" stroke-width="1.6"/><path d="M571.1 231.2C569.7 230.9 569.1 230 568.4 228.4" stroke="#4444ea" stroke-width="1.8"/><path d="M568.4 228.4C567.6 226.9 567.1 225 566.6 222.1C566 219.3 565.6 214.4 565.2 211.2C564.8 208.1 564.8 205.7 564.3 203.1C563.8 200.6 563.1 197.8 562.1 195.8" stroke="#4444ea" stroke-width="2"/><path d="M562.1 195.8C561.1 193.9 559.9 192.4 558.4 191.3C556.9 190.3 554.9 189.5 553 189.5" stroke="#4444ea" stroke-width="1.8"/><path d="M553 189.5C551 189.5 548.4 190.6 546.6 191.3" stroke="#4444ea" stroke-width="1.6"/><path d="M546.6 191.3C544.7 192.1 542.6 194.7 541.9 194C541.1 193.4 542.2 189.4 542.1 187.6C542 185.9 541.6 183.8 541.2 183.6C540.8 183.5 540.2 184.9 539.8 186.7C539.3 188.6 539 191.8 538.5 194.9" stroke="#4444ea" stroke-width="1.4"/><path d="M538.5 194.9C538 198.1 537.5 202.5 536.7 205.8C535.8 209.2 534.6 212.3 533.5 214.8C532.3 217.4 531.2 219.3 529.9 221.2C528.6 223.2 527.5 225.4 525.8 226.6" stroke="#4444ea" stroke-width="1.2"/><path d="M525.8 226.6C524 227.9 521 228.8 519.4 228.9C517.8 229.1 516.4 228.4 516.3 227.5C516.1 226.7 517 225.1 518.5 223.9C519.9 222.8 522.6 221.5 524.9 220.7C527.1 220 529.7 219.6 532.1 219.4C534.5 219.3 537.1 219.3 539.4 219.8" stroke="#4444ea" stroke-width="1.4"/><path d="M539.4 219.8C541.6 220.4 543.9 221.5 545.7 222.6C547.5 223.8 549.1 225.7 550.3 226.6C551.5 227.6 551.9 228.7 553 228.4" stroke="#4444ea" stroke-width="1.6"/><path d="M553 228.4C554 228.1 555.4 226.3 556.6 224.8C557.8 223.3 559 221.6 560.2 219.4" stroke="#4444ea" stroke-width="1.4"/><path d="M560.2 219.4C561.3 217.3 562.4 214.7 563.4 212.1" stroke="#4444ea" stroke-width="1.2"/><path d="M563.4 212.1C564.4 209.6 565.1 206.9 566.1 204C567.1 201.2 568.2 197.4 569.3 194.9" stroke="#4444ea" stroke-width="1.4"/><path d="M569.3 194.9C570.4 192.4 571.4 190.2 572.8 189" stroke="#4444ea" stroke-width="1.6"/><path d="M572.8 189C574.1 187.9 575.6 187.9 577.3 188.1" stroke="#4444ea" stroke-width="1.8"/><path d="M577.3 188.1C578.9 188.4 581 189.5 582.8 190.4" stroke="#4444ea" stroke-width="2"/><path d="M582.8 190.4C584.6 191.3 586.8 192.9 588.2 193.5C589.5 194.1 590.1 194.6 590.9 194C591.6 193.5 592.2 191.4 592.7 190.4C593.1 189.5 593.3 187.8 593.6 188.1C593.9 188.4 594.2 189.6 594.5 192.2" stroke="#4444ea" stroke-width="1.8"/><path d="M594.5 192.2C594.7 194.9 594.7 200.1 595 204" stroke="#4444ea" stroke-width="2"/><path d="M595 204C595.2 208 595.3 212.8 595.9 215.8C596.4 218.9 597.2 220.2 598.2 222.1" stroke="#4444ea" stroke-width="2.2"/><path d="M598.2 222.1C599.2 224.1 600.4 226.2 601.8 227.5" stroke="#4444ea" stroke-width="2"/><path d="M601.8 227.5C603.1 228.9 604.7 230 606.3 230.3" stroke="#4444ea" stroke-width="1.8"/><path d="M606.3 230.3C607.9 230.7 608.8 229.9 611.5 229.8C614.2 229.8 619.7 229.5 622.4 230.1" stroke="#4444ea" stroke-width="1.4"/><path d="M622.4 230.1C625.1 230.8 626 231.6 627.8 233.5C629.6 235.5 631.5 239 633.3 241.7" stroke="#4444ea" stroke-width="1.6"/><path d="M633.3 241.7C635.1 244.5 637.2 247.4 638.7 249.8" stroke="#5555e5" stroke-width="1.6"/><path d="M638.7 249.8C640.1 252.3 641.5 255.5 642.1 256.6" stroke="#6868e5" stroke-width="1.8"/></g><g fill="none" stroke-linecap="round" stroke-linejoin="round"><path d="M505.7 250.7C506.8 249.4 510 245.3 512.3 242.8C514.6 240.3 517.2 237.4 519.6 235.6C522 233.8 524.4 232.4 526.8 232C529.2 231.6 531.7 232.4 534.1 233.2C536.5 234 539.1 236 541.3 236.8C543.5 237.6 544.8 237.8 547.4 237.8C550 237.8 553.8 237.3 557 236.7C560.2 236.1 563.8 235 566.7 234.4C569.6 233.8 572.1 233.3 574.2 232.9C576.3 232.5 577.2 231.9 579.3 232C581.4 232.1 584.5 232.7 586.6 233.4C588.7 234.1 590.3 234.9 592 236.1C593.7 237.3 594.8 238.6 596.7 240.7C598.6 242.8 601.5 245.9 603.5 248.9C605.5 251.8 607.4 255.4 609 258.4" stroke="#11118e" stroke-width="2.2"/><path d="M609 258.4C610.6 261.3 611.7 264.1 613.1 266.6" stroke="#090961" stroke-width="2.2"/><path d="M613.1 266.6C614.4 269.1 615.7 271.8 617.1 273.4" stroke="#090945" stroke-width="2.6"/><path d="M617.1 273.4C618.4 275 620.5 275.6 621.2 276.1" stroke="#09093b" stroke-width="3.6"/><path d="M505.5 250.3C506.6 249 509.8 245 512.1 242.4C514.4 239.9 517 237 519.4 235.2C521.8 233.4 524.2 232 526.6 231.6C529 231.2 531.5 232 533.9 232.8C536.3 233.6 538.9 235.7 541.1 236.4C543.3 237.2 544.6 237.5 547.2 237.4C549.8 237.4 553.6 236.9 556.8 236.3C560 235.8 563.6 234.7 566.5 234C569.3 233.4 571.9 232.9 574 232.5C576.1 232.1 577 231.6 579.1 231.6C581.1 231.7 584.3 232.4 586.4 233C588.5 233.7 590.1 234.5 591.8 235.7C593.5 237 594.6 238.2 596.5 240.3C598.4 242.5 601.2 245.6 603.3 248.5C605.3 251.5 607.2 255.1 608.8 258" stroke="#4444ea" stroke-width="1.4"/><path d="M608.8 258C610.4 261 611.5 263.7 612.9 266.2" stroke="#3b3baf" stroke-width="1.4"/><path d="M612.9 266.2C614.2 268.7 615.5 271.5 616.9 273" stroke="#3b3b89" stroke-width="1.8"/><path d="M616.9 273C618.2 274.6 620.3 275.3 621 275.7" stroke="#3b3b7c" stroke-width="2.4"/></g><g fill="none" stroke-linecap="round" stroke-linejoin="round"><path d="M495.4 259.4C496.1 258.5 497.7 255.4 499.5 254" stroke="#090961" stroke-width="3.2"/><path d="M499.5 254C501.3 252.6 503.8 251.4 506.3 251.2" stroke="#1a1a80" stroke-width="2.6"/><path d="M506.3 251.2C508.8 251 512 251.3 514.5 252.6C517 253.8 519.3 256.3 521.3 258.7C523.3 261.1 525.1 263.9 526.7 266.9" stroke="#11118e" stroke-width="2.2"/><path d="M526.7 266.9C528.3 269.8 530.1 274.8 530.8 276.4" stroke="#090961" stroke-width="2.6"/><path d="M495.1 259C495.8 258.1 497.4 255 499.2 253.6" stroke="#3b3baf" stroke-width="2.2"/><path d="M499.2 253.6C501.1 252.2 503.5 251 506 250.8" stroke="#5050d8" stroke-width="1.8"/><path d="M506 250.8C508.5 250.6 511.7 250.9 514.2 252.2C516.7 253.4 519 255.9 521 258.3C523.1 260.7 524.9 263.5 526.4 266.5" stroke="#4444ea" stroke-width="1.4"/><path d="M526.4 266.5C528 269.4 529.9 274.4 530.5 276" stroke="#3b3baf" stroke-width="1.8"/></g><path d="M603.3,234.7 L613.5,239.4 L612.9,244.9 L604.7,242.1Z" fill="#f01010" /><path d="M604.7,242.1 L612.9,244.9 L612.2,258.5 L607.4,254.4Z" fill="#f4c8c8" />
<g fill="none" stroke-linecap="round" stroke-linejoin="round"><path d="M91.1 414.5C91.6 413.1 92.2 409 93.8 406.3" stroke="#11118e" stroke-width="4.6"/><path d="M93.8 406.3C95.4 403.6 97.9 400.2 100.6 398.2" stroke="#11118e" stroke-width="4.4"/><path d="M100.6 398.2C103.3 396.2 106.7 394.8 110.1 394.1" stroke="#11118e" stroke-width="3.6"/><path d="M110.1 394.1C113.5 393.4 117.4 393.5 121 394.1" stroke="#11118e" stroke-width="3"/><path d="M121 394.1C124.6 394.7 128.3 396.6 131.9 397.7C135.5 398.8 139.2 400.1 142.8 400.5C146.4 400.9 150.6 400.5 153.6 400.2C156.7 399.9 157.6 398.7 161.1 398.5" stroke="#11118e" stroke-width="2.8"/><path d="M161.1 398.5C164.6 398.3 170.8 397.9 174.7 399" stroke="#11118e" stroke-width="3"/><path d="M174.7 399C178.5 400.1 180.3 401.8 184.2 404.9" stroke="#11118e" stroke-width="3.2"/><path d="M184.2 404.9C188.1 408 194.7 413.9 197.9 417.7" stroke="#11118e" stroke-width="3.8"/><path d="M197.9 417.7C201.2 421.5 202.2 424.9 203.7 427.9" stroke="#11118e" stroke-width="4.6"/><path d="M203.7 427.9C205.1 430.9 206.1 434.5 206.6 435.8" stroke="#11118e" stroke-width="5.2"/><path d="M90.7 413.9C91.2 412.5 91.8 408.4 93.4 405.7" stroke="#4444ea" stroke-width="3.2"/><path d="M93.4 405.7C95 403 97.5 399.6 100.2 397.6" stroke="#4444ea" stroke-width="3"/><path d="M100.2 397.6C102.9 395.6 106.3 394.2 109.7 393.5" stroke="#4444ea" stroke-width="2.4"/><path d="M109.7 393.5C113.1 392.8 117 392.9 120.6 393.5C124.3 394.1 127.9 396 131.5 397.1C135.2 398.2 138.8 399.5 142.4 399.9C146 400.3 150.2 399.9 153.2 399.6C156.3 399.3 157.2 398.1 160.7 397.9C164.2 397.7 170.5 397.3 174.3 398.4" stroke="#4444ea" stroke-width="2"/><path d="M174.3 398.4C178.2 399.5 180 401.2 183.8 404.3" stroke="#4444ea" stroke-width="2.2"/><path d="M183.8 404.3C187.7 407.4 194.3 413.3 197.5 417.1" stroke="#4444ea" stroke-width="2.6"/><path d="M197.5 417.1C200.8 420.9 201.9 424.3 203.3 427.3" stroke="#4444ea" stroke-width="3.2"/><path d="M203.3 427.3C204.8 430.3 205.7 433.9 206.2 435.2" stroke="#4444ea" stroke-width="3.6"/></g><g fill="none" stroke-linecap="round" stroke-linejoin="round"><path d="M116.9 418.5C116.7 416.5 115.4 410.2 115.6 406.3" stroke="#11118e" stroke-width="4.2"/><path d="M115.6 406.3C115.8 402.4 116.7 398.3 118.3 395.4" stroke="#11118e" stroke-width="3.6"/><path d="M118.3 395.4C119.9 392.4 122.4 390.4 125.1 388.6" stroke="#11118e" stroke-width="3.2"/><path d="M125.1 388.6C127.8 386.8 131.2 385.4 134.6 384.8C138 384.2 142.1 383.9 145.5 384.8C148.9 385.7 152.7 387.8 155 390C157.3 392.2 158.7 395.5 159.1 398.2C159.6 400.9 158.8 404.1 157.7 406.3" stroke="#11118e" stroke-width="2.8"/><path d="M157.7 406.3C156.6 408.6 153.8 409.7 152.3 411.7" stroke="#11118e" stroke-width="3.2"/><path d="M152.3 411.7C150.8 413.7 149.4 416.1 148.9 418.5" stroke="#3e3e94" stroke-width="4.2"/><path d="M148.9 418.5C148.4 420.9 148.7 424 149.5 426.2" stroke="#797999" stroke-width="4.8"/><path d="M149.5 426.2C150.3 428.4 151.8 430.4 153.5 431.7" stroke="#797999" stroke-width="5"/><path d="M153.5 431.7C155.2 433 157.5 434.1 159.7 434.2" stroke="#797999" stroke-width="4.6"/><path d="M159.7 434.2C161.9 434.3 164.9 433.8 166.5 432.1" stroke="#3e3e94" stroke-width="4"/><path d="M166.5 432.1C168.1 430.4 168.7 427.2 169.3 424" stroke="#11118e" stroke-width="3.2"/><path d="M169.3 424C169.9 420.8 169.6 416 169.9 413.1C170.2 410.1 170.3 408.6 171.3 406.3C172.3 404 173.8 401.5 176 399.5C178.2 397.5 181.6 395.6 184.2 394.1C186.8 392.5 189.2 391.4 191.5 390.2C193.8 389 196.1 388.5 197.8 387.1C199.5 385.7 201 383.7 201.9 381.7C202.8 379.7 203.4 377 203.2 374.9C203 372.8 202.1 370.3 200.5 368.8C198.9 367.3 196.2 366.3 193.7 366.1" stroke="#11118e" stroke-width="2.8"/><path d="M193.7 366.1C191.2 365.9 188.1 366.4 185.6 367.4" stroke="#11118e" stroke-width="3"/><path d="M185.6 367.4C183.1 368.4 180.9 370 178.8 372.2" stroke="#11118e" stroke-width="3.2"/><path d="M178.8 372.2C176.8 374.4 174.9 377.4 173.3 380.3" stroke="#11118e" stroke-width="3.4"/><path d="M173.3 380.3C171.7 383.2 170.7 387.8 169.3 389.9" stroke="#11118e" stroke-width="3.8"/><path d="M169.3 389.9C168 391.9 166 393.7 165.2 392.6" stroke="#11118e" stroke-width="4.2"/><path d="M165.2 392.6C164.4 391.5 164.7 386.3 164.5 383.1" stroke="#11118e" stroke-width="4.4"/><path d="M164.5 383.1C164.3 379.9 164.4 376.4 163.8 373.5" stroke="#11118e" stroke-width="4.8"/><path d="M163.8 373.5C163.2 370.6 162.5 367.3 161.1 365.4" stroke="#11118e" stroke-width="5"/><path d="M161.1 365.4C159.8 363.5 157.6 362.2 155.7 362" stroke="#11118e" stroke-width="4.8"/><path d="M155.7 362C153.8 361.8 151.7 363.3 149.5 364C147.3 364.7 144.2 366.1 142.8 366.1" stroke="#11118e" stroke-width="4.4"/><path d="M142.8 366.1C141.5 366.1 141.9 365.7 141.4 364" stroke="#797999" stroke-width="4.4"/><path d="M141.4 364C140.9 362.3 140.6 358.6 140 355.9" stroke="#797999" stroke-width="4.6"/><path d="M140 355.9C139.4 353.2 138.9 349.8 138 347.7" stroke="#797999" stroke-width="4.4"/><path d="M138 347.7C137.1 345.6 135.9 343.7 134.6 343" stroke="#3e3e94" stroke-width="4"/><path d="M134.6 343C133.4 342.3 132.1 341.9 130.5 343.6" stroke="#11118e" stroke-width="3.2"/><path d="M130.5 343.6C128.9 345.3 127.1 349.6 125.1 353.2" stroke="#11118e" stroke-width="2.8"/><path d="M125.1 353.2C123.1 356.8 120.6 361.5 118.3 365.4C116 369.2 113.5 373.6 111.5 376.3" stroke="#11118e" stroke-width="2.6"/><path d="M111.5 376.3C109.5 379 106.9 380.8 106 381.7" stroke="#11118e" stroke-width="2.8"/><path d="M116.5 417.9C116.3 415.9 115 409.6 115.2 405.7" stroke="#4444ea" stroke-width="2.8"/><path d="M115.2 405.7C115.5 401.9 116.4 397.8 117.9 394.8" stroke="#4444ea" stroke-width="2.6"/><path d="M117.9 394.8C119.5 391.9 122 389.8 124.7 388" stroke="#4444ea" stroke-width="2.2"/><path d="M124.7 388C127.5 386.3 130.8 384.9 134.2 384.2C137.6 383.6 141.7 383.4 145.1 384.2C148.5 385.1 152.4 387.2 154.6 389.4C156.9 391.7 158.3 394.9 158.7 397.6C159.2 400.3 158.5 403.5 157.3 405.7" stroke="#4444ea" stroke-width="2"/><path d="M157.3 405.7C156.2 408 153.4 409.1 151.9 411.1" stroke="#4444ea" stroke-width="2.2"/><path d="M151.9 411.1C150.5 413.2 149 415.5 148.5 417.9" stroke="#7f7ff2" stroke-width="2.8"/><path d="M148.5 417.9C148.1 420.3 148.4 423.4 149.1 425.6C149.9 427.8 151.4 429.8 153.1 431.1" stroke="#cecef9" stroke-width="3.4"/><path d="M153.1 431.1C154.8 432.5 157.2 433.6 159.3 433.6" stroke="#cecef9" stroke-width="3.2"/><path d="M159.3 433.6C161.5 433.7 164.5 433.2 166.1 431.5" stroke="#7f7ff2" stroke-width="2.6"/><path d="M166.1 431.5C167.7 429.8 168.4 426.6 168.9 423.4" stroke="#4444ea" stroke-width="2.2"/><path d="M168.9 423.4C169.5 420.3 169.2 415.5 169.5 412.5C169.9 409.6 169.9 408 170.9 405.7C172 403.5 173.5 401 175.6 398.9C177.8 396.9 181.3 395.1 183.8 393.5C186.4 392 188.9 390.8 191.1 389.6C193.4 388.5 195.7 387.9 197.4 386.5C199.2 385.1 200.6 383.2 201.5 381.1C202.4 379.1 203.1 376.5 202.8 374.3C202.6 372.2 201.7 369.7 200.1 368.2C198.6 366.8 195.8 365.8 193.3 365.5C190.9 365.3 187.7 365.8 185.2 366.8" stroke="#4444ea" stroke-width="2"/><path d="M185.2 366.8C182.8 367.8 180.5 369.5 178.4 371.6" stroke="#4444ea" stroke-width="2.2"/><path d="M178.4 371.6C176.4 373.8 174.5 376.8 172.9 379.7" stroke="#4444ea" stroke-width="2.4"/><path d="M172.9 379.7C171.4 382.7 170.3 387.3 168.9 389.3" stroke="#4444ea" stroke-width="2.6"/><path d="M168.9 389.3C167.6 391.4 165.6 393.2 164.8 392" stroke="#4444ea" stroke-width="2.8"/><path d="M164.8 392C164 390.9 164.4 385.7 164.1 382.5" stroke="#4444ea" stroke-width="3"/><path d="M164.1 382.5C163.9 379.3 164 375.9 163.4 372.9C162.9 370 162.1 366.7 160.7 364.8C159.4 362.9 157.3 361.7 155.3 361.4" stroke="#4444ea" stroke-width="3.4"/><path d="M155.3 361.4C153.4 361.2 151.3 362.7 149.1 363.4C147 364.1 143.8 365.5 142.4 365.5" stroke="#4444ea" stroke-width="3"/><path d="M142.4 365.5C141.1 365.5 141.5 365.1 141 363.4" stroke="#cecef9" stroke-width="3"/><path d="M141 363.4C140.6 361.7 140.2 358 139.6 355.3" stroke="#cecef9" stroke-width="3.2"/><path d="M139.6 355.3C139.1 352.6 138.5 349.3 137.6 347.1" stroke="#cecef9" stroke-width="3"/><path d="M137.6 347.1C136.7 345 135.5 343.1 134.2 342.4" stroke="#7f7ff2" stroke-width="2.6"/><path d="M134.2 342.4C133 341.7 131.7 341.3 130.1 343" stroke="#4444ea" stroke-width="2.2"/><path d="M130.1 343C128.6 344.7 126.8 349 124.7 352.6C122.7 356.3 120.2 361 117.9 364.8C115.7 368.7 113.2 373 111.1 375.7C109.1 378.4 106.6 380.2 105.6 381.1" stroke="#4444ea" stroke-width="1.8"/></g><g fill="none" stroke-linecap="round" stroke-linejoin="round"><path d="M106 381.7C108 381.9 114 382.7 118.3 382.8" stroke="#11118e" stroke-width="3.8"/><path d="M118.3 382.8C122.6 382.9 128 382.6 131.9 382.4" stroke="#11118e" stroke-width="4"/><path d="M131.9 382.4C135.7 382.2 139.1 382.4 141.4 381.4" stroke="#11118e" stroke-width="3.8"/><path d="M141.4 381.4C143.7 380.4 144.4 378.1 145.5 376.3" stroke="#11118e" stroke-width="3.2"/><path d="M145.5 376.3C146.6 374.5 147.1 373.1 148.2 370.8C149.3 368.5 151 365.4 152.3 362.7C153.7 360 154.8 356.9 156.3 354.5" stroke="#11118e" stroke-width="2.8"/><path d="M156.3 354.5C157.8 352.1 159.2 349.6 161.1 348.4" stroke="#11118e" stroke-width="3"/><path d="M161.1 348.4C163 347.2 165.6 347.1 167.9 347.4C170.2 347.7 172.4 349.2 174.7 350.4C177 351.6 179.2 353.7 181.5 354.5C183.8 355.3 186.6 354.5 188.3 355.2C190 355.9 190.8 355.8 191.7 358.6C192.6 361.4 193.2 367.7 193.7 372.2C194.1 376.7 193.9 382.2 194.4 385.8C194.8 389.4 194.8 391.5 196.4 393.9" stroke="#11118e" stroke-width="3.2"/><path d="M196.4 393.9C197.9 396.3 200.8 398.8 203.7 400.3" stroke="#11118e" stroke-width="3.4"/><path d="M203.7 400.3C206.6 401.9 210.7 402 213.8 403.2" stroke="#54548f" stroke-width="4.4"/><path d="M213.8 403.2C216.9 404.4 219.8 406.3 222.5 407.6" stroke="#8f8f99" stroke-width="5.2"/><path d="M222.5 407.6C225.2 408.9 227.6 410.3 229.8 411.2" stroke="#949499" stroke-width="5.2"/><path d="M229.8 411.2C232.1 412.1 235 412.7 236 413" stroke="#85858f" stroke-width="4.4"/><path d="M105.6 381.1C107.7 381.3 113.6 382.1 117.9 382.2C122.3 382.3 127.7 382.1 131.5 381.8C135.4 381.6 138.8 381.8 141 380.8" stroke="#4444ea" stroke-width="2.6"/><path d="M141 380.8C143.3 379.8 144 377.5 145.1 375.7" stroke="#4444ea" stroke-width="2.2"/><path d="M145.1 375.7C146.3 374 146.7 372.5 147.8 370.2C149 368 150.6 364.8 151.9 362.1C153.3 359.4 154.5 356.3 155.9 353.9" stroke="#4444ea" stroke-width="1.8"/><path d="M155.9 353.9C157.4 351.5 158.8 349 160.7 347.8" stroke="#4444ea" stroke-width="2"/><path d="M160.7 347.8C162.7 346.6 165.3 346.5 167.5 346.8C169.8 347.2 172.1 348.6 174.3 349.8C176.6 351 178.9 353.1 181.1 353.9C183.4 354.7 186.2 353.9 187.9 354.6C189.6 355.3 190.4 355.2 191.3 358C192.2 360.9 192.9 367.1 193.3 371.6C193.8 376.2 193.6 381.6 194 385.2C194.5 388.8 194.5 390.9 196 393.3" stroke="#4444ea" stroke-width="2.2"/><path d="M196 393.3C197.6 395.7 200.4 398.2 203.3 399.7" stroke="#4444ea" stroke-width="2.4"/><path d="M203.3 399.7C206.2 401.3 210.3 401.4 213.4 402.6" stroke="#9d9dec" stroke-width="3"/><path d="M213.4 402.6C216.6 403.8 219.5 405.7 222.1 407" stroke="#ececf9" stroke-width="3.6"/><path d="M222.1 407C224.8 408.4 227.2 409.7 229.4 410.6" stroke="#f2f2f9" stroke-width="3.6"/><path d="M229.4 410.6C231.7 411.5 234.6 412.1 235.6 412.4" stroke="#dfdfec" stroke-width="3"/></g><path d="M224,412.5 L231,419 L240,414 L232,412Z" fill="#555565" /><path d="M198,417 L206.5,404 L207,423 L203,427Z" fill="#f2dadc" /><g fill="none" stroke-linecap="round" stroke-linejoin="round"><path d="M194.8 421.5C195.8 420.1 198.6 415.8 200.5 413C202.4 410.2 205.1 406.3 206 405" stroke="#940e0e" stroke-width="2.6"/><path d="M194.5 421.1C195.5 419.7 198.4 415.3 200.2 412.6C202.1 409.8 204.8 405.9 205.7 404.6" stroke="#f24141" stroke-width="1.8"/></g><g fill="none" stroke-linecap="round" stroke-linejoin="round"><path d="M93.7 437.1C92.8 436.4 89.7 434.8 88.2 433" stroke="#232380" stroke-width="4"/><path d="M88.2 433C86.7 431.2 84.8 428.1 84.8 426.2" stroke="#2c2c8d" stroke-width="4.6"/><path d="M84.8 426.2C84.8 424.3 86.3 422.5 88.2 421.5" stroke="#20208a" stroke-width="5"/><path d="M88.2 421.5C90.1 420.5 93.2 420.2 96.4 420.1" stroke="#18188a" stroke-width="5.2"/><path d="M96.4 420.1C99.6 420 103.9 420.2 107.3 420.8C110.7 421.4 113.9 422.2 116.8 423.5" stroke="#11118e" stroke-width="5.2"/><path d="M116.8 423.5C119.7 424.8 122.6 426.7 124.9 428.3" stroke="#11118e" stroke-width="5"/><path d="M124.9 428.3C127.2 429.9 129.3 431.8 130.4 433" stroke="#090961" stroke-width="4.8"/><path d="M130.4 433C131.5 434.2 131.5 435.2 131.7 435.7" stroke="#090961" stroke-width="4.4"/><path d="M93.2 436.3C92.3 435.7 89.2 434.1 87.7 432.2" stroke="#5d5dd8" stroke-width="2.8"/><path d="M87.7 432.2C86.2 430.4 84.3 427.4 84.3 425.4" stroke="#6868e8" stroke-width="3.2"/><path d="M84.3 425.4C84.3 423.5 85.8 421.8 87.7 420.7" stroke="#5858e5" stroke-width="3.4"/><path d="M87.7 420.7C89.7 419.7 92.7 419.5 95.9 419.3" stroke="#4e4ee5" stroke-width="3.6"/><path d="M95.9 419.3C99.1 419.2 103.4 419.5 106.8 420C110.2 420.6 113.4 421.5 116.3 422.7" stroke="#4444ea" stroke-width="3.6"/><path d="M116.3 422.7C119.3 424 122.2 426 124.4 427.5" stroke="#4444ea" stroke-width="3.4"/><path d="M124.4 427.5C126.7 429.1 128.8 431 129.9 432.2" stroke="#3b3baf" stroke-width="3.2"/><path d="M129.9 432.2C131.1 433.5 131 434.5 131.2 434.9" stroke="#3b3baf" stroke-width="3"/></g>
<g fill="none" stroke-linecap="round" stroke-linejoin="round"><path d="M298.6 411.3C299.1 409.9 299.7 405.8 301.3 403.1C302.9 400.4 305.4 397 308.1 395C310.8 393 314.2 391.6 317.6 390.9C321 390.2 324.9 390.3 328.5 390.9C332.1 391.5 335.8 393.4 339.4 394.5C343 395.6 346.7 396.9 350.3 397.3C353.9 397.7 358.1 397.3 361.1 397C364.2 396.7 365.1 395.5 368.6 395.3" stroke="#11118e" stroke-width="2.2"/><path d="M368.6 395.3C372.1 395.1 378.4 394.7 382.2 395.8C386 396.9 388.8 399.4 391.7 401.7" stroke="#11118e" stroke-width="2.4"/><path d="M391.7 401.7C394.6 404 397.4 406.8 399.9 409.5" stroke="#11118e" stroke-width="2.6"/><path d="M399.9 409.5C402.4 412.2 404.9 415.5 406.7 418.1" stroke="#11118e" stroke-width="3"/><path d="M406.7 418.1C408.5 420.7 409.7 422.8 410.7 424.9" stroke="#11118e" stroke-width="3.4"/><path d="M410.7 424.9C411.7 427 412.4 430 412.8 431" stroke="#11118e" stroke-width="4"/><path d="M298.3 410.9C298.8 409.5 299.5 405.4 301 402.7C302.6 400 305.1 396.6 307.8 394.6C310.6 392.5 313.9 391.2 317.3 390.5C320.7 389.8 324.6 389.9 328.2 390.5C331.9 391.1 335.5 393 339.1 394.1C342.8 395.1 346.4 396.5 350 396.9C353.7 397.3 357.8 396.9 360.8 396.6C363.9 396.2 364.8 395.1 368.3 394.9C371.9 394.7 378.1 394.3 381.9 395.4C385.8 396.4 388.5 399 391.4 401.3" stroke="#4444ea" stroke-width="1.6"/><path d="M391.4 401.3C394.4 403.6 397.1 406.3 399.6 409.1" stroke="#4444ea" stroke-width="1.8"/><path d="M399.6 409.1C402.1 411.8 404.6 415.1 406.4 417.7" stroke="#4444ea" stroke-width="2"/><path d="M406.4 417.7C408.2 420.2 409.4 422.3 410.4 424.5" stroke="#4444ea" stroke-width="2.4"/><path d="M410.4 424.5C411.5 426.6 412.2 429.6 412.5 430.6" stroke="#4444ea" stroke-width="2.8"/></g><g fill="none" stroke-linecap="round" stroke-linejoin="round"><path d="M324.4 415.3C324.2 413.3 322.9 407 323.1 403.1C323.3 399.2 324.2 395.1 325.8 392.2C327.4 389.2 329.9 387.2 332.6 385.4C335.3 383.6 338.7 382.2 342.1 381.6C345.5 381 349.6 380.7 353 381.6C356.4 382.5 360.2 384.6 362.5 386.8C364.8 389 366.2 392.3 366.6 395C367.1 397.7 366.3 400.9 365.2 403.1C364.1 405.4 361.3 406.5 359.8 408.5C358.3 410.5 356.9 412.9 356.4 415.3C355.9 417.7 356.2 420.8 357 423C357.8 425.2 359.3 427.2 361 428.5C362.7 429.8 365 430.9 367.2 431C369.4 431.1 372.4 430.6 374 428.9C375.6 427.2 376.2 424 376.8 420.8C377.4 417.6 377.1 412.8 377.4 409.9C377.7 406.9 377.8 405.4 378.8 403.1C379.8 400.8 381.4 398.3 383.5 396.3C385.6 394.3 389.1 392.4 391.7 390.9C394.3 389.3 396.7 388.2 399 387C401.3 385.8 403.6 385.3 405.3 383.9C407 382.5 408.5 380.5 409.4 378.5C410.3 376.5 410.9 373.8 410.7 371.7C410.5 369.6 409.6 367.1 408 365.6C406.4 364.1 403.7 363.1 401.2 362.9" stroke="#11118e" stroke-width="2.2"/><path d="M401.2 362.9C398.7 362.7 395.6 363.2 393.1 364.2C390.6 365.2 388.4 366.9 386.3 369" stroke="#11118e" stroke-width="2.4"/><path d="M386.3 369C384.2 371.1 382.4 374.2 380.8 377.1" stroke="#11118e" stroke-width="2.6"/><path d="M380.8 377.1C379.2 380.1 378.2 384.6 376.8 386.7" stroke="#11118e" stroke-width="3"/><path d="M376.8 386.7C375.4 388.8 373.5 390.5 372.7 389.4" stroke="#11118e" stroke-width="3.2"/><path d="M372.7 389.4C371.9 388.3 372.2 383.1 372 379.9" stroke="#11118e" stroke-width="3.6"/><path d="M372 379.9C371.8 376.7 371.9 373.2 371.3 370.3" stroke="#11118e" stroke-width="3.8"/><path d="M371.3 370.3C370.7 367.4 370 364.1 368.6 362.2" stroke="#11118e" stroke-width="4"/><path d="M368.6 362.2C367.2 360.3 365.1 359 363.2 358.8" stroke="#11118e" stroke-width="3.8"/><path d="M363.2 358.8C361.3 358.6 359.1 360.1 357 360.8" stroke="#11118e" stroke-width="3.6"/><path d="M357 360.8C354.9 361.5 351.7 362.9 350.3 362.9" stroke="#11118e" stroke-width="3.4"/><path d="M350.3 362.9C348.9 362.9 349.4 362.5 348.9 360.8C348.4 359.1 348.1 355.4 347.5 352.7C346.9 350 346.4 346.6 345.5 344.5" stroke="#797999" stroke-width="3.6"/><path d="M345.5 344.5C344.6 342.4 343.4 340.5 342.1 339.8" stroke="#3e3e94" stroke-width="3.2"/><path d="M342.1 339.8C340.9 339.1 339.6 338.7 338 340.4" stroke="#11118e" stroke-width="2.6"/><path d="M338 340.4C336.4 342.1 334.6 346.4 332.6 350" stroke="#11118e" stroke-width="2.2"/><path d="M332.6 350C330.6 353.6 328.1 358.3 325.8 362.2C323.5 366.1 321.1 370.4 319 373.1" stroke="#11118e" stroke-width="2"/><path d="M319 373.1C316.9 375.8 314.4 377.6 313.5 378.5" stroke="#11118e" stroke-width="2.2"/><path d="M324.1 414.9C323.9 412.9 322.6 406.5 322.8 402.7C323.1 398.8 324 394.7 325.5 391.8C327.1 388.8 329.6 386.8 332.3 385C335.1 383.2 338.4 381.8 341.8 381.2C345.2 380.6 349.3 380.3 352.7 381.2C356.1 382.1 360 384.2 362.2 386.4C364.5 388.6 365.9 391.9 366.3 394.6C366.8 397.3 366.1 400.4 364.9 402.7C363.8 404.9 361 406.1 359.5 408.1C358.1 410.1 356.6 412.5 356.1 414.9C355.7 417.3 356 420.4 356.7 422.6C357.5 424.8 359 426.8 360.7 428.1C362.4 429.4 364.8 430.5 366.9 430.6C369.1 430.7 372.1 430.2 373.7 428.5C375.3 426.8 376 423.6 376.5 420.4C377.1 417.2 376.8 412.4 377.1 409.5C377.5 406.5 377.5 405 378.5 402.7C379.6 400.4 381.1 397.9 383.2 395.9C385.4 393.9 388.9 392 391.4 390.5C394 388.9 396.5 387.8 398.7 386.6C401 385.4 403.3 384.9 405 383.5C406.8 382.1 408.2 380.1 409.1 378.1C410 376.1 410.7 373.4 410.4 371.3C410.2 369.1 409.3 366.7 407.7 365.2C406.2 363.7 403.4 362.7 400.9 362.5C398.5 362.3 395.3 362.8 392.8 363.8C390.4 364.8 388.1 366.4 386 368.6" stroke="#4444ea" stroke-width="1.6"/><path d="M386 368.6C384 370.7 382.1 373.7 380.5 376.7" stroke="#4444ea" stroke-width="1.8"/><path d="M380.5 376.7C379 379.6 377.9 384.2 376.5 386.3" stroke="#4444ea" stroke-width="2"/><path d="M376.5 386.3C375.2 388.3 373.2 390.1 372.4 389" stroke="#4444ea" stroke-width="2.2"/><path d="M372.4 389C371.6 387.9 372 382.7 371.7 379.5" stroke="#4444ea" stroke-width="2.4"/><path d="M371.7 379.5C371.5 376.3 371.6 372.8 371 369.9" stroke="#4444ea" stroke-width="2.6"/><path d="M371 369.9C370.5 366.9 369.7 363.7 368.3 361.8" stroke="#4444ea" stroke-width="2.8"/><path d="M368.3 361.8C367 359.9 364.9 358.6 362.9 358.4" stroke="#4444ea" stroke-width="2.6"/><path d="M362.9 358.4C361 358.2 358.9 359.7 356.7 360.4C354.6 361.1 351.4 362.5 350 362.5" stroke="#4444ea" stroke-width="2.4"/><path d="M350 362.5C348.7 362.5 349.1 362.1 348.6 360.4" stroke="#cecef9" stroke-width="2.4"/><path d="M348.6 360.4C348.2 358.7 347.8 355 347.2 352.3" stroke="#cecef9" stroke-width="2.6"/><path d="M347.2 352.3C346.7 349.6 346.1 346.2 345.2 344.1" stroke="#cecef9" stroke-width="2.4"/><path d="M345.2 344.1C344.3 341.9 343.1 340.1 341.8 339.4" stroke="#7f7ff2" stroke-width="2.2"/><path d="M341.8 339.4C340.6 338.7 339.3 338.3 337.7 340" stroke="#4444ea" stroke-width="1.8"/><path d="M337.7 340C336.2 341.7 334.4 346 332.3 349.6C330.3 353.2 327.8 357.9 325.5 361.8C323.3 365.6 320.8 370 318.7 372.7C316.7 375.4 314.2 377.2 313.2 378.1" stroke="#4444ea" stroke-width="1.4"/></g><g fill="none" stroke-linecap="round" stroke-linejoin="round"><path d="M313.5 378.5C315.6 378.7 321.5 379.5 325.8 379.6" stroke="#11118e" stroke-width="3"/><path d="M325.8 379.6C330.1 379.7 335.5 379.4 339.4 379.2" stroke="#11118e" stroke-width="3.2"/><path d="M339.4 379.2C343.2 379 346.6 379.2 348.9 378.2" stroke="#11118e" stroke-width="3"/><path d="M348.9 378.2C351.2 377.2 351.9 374.9 353 373.1" stroke="#11118e" stroke-width="2.6"/><path d="M353 373.1C354.1 371.3 354.6 369.9 355.7 367.6C356.8 365.3 358.4 362.2 359.8 359.5C361.2 356.8 362.3 353.7 363.8 351.3" stroke="#11118e" stroke-width="2.2"/><path d="M363.8 351.3C365.3 348.9 366.7 346.4 368.6 345.2" stroke="#11118e" stroke-width="2.4"/><path d="M368.6 345.2C370.5 344 373.1 343.9 375.4 344.2C377.7 344.5 379.9 346 382.2 347.2C384.5 348.4 386.7 350.5 389 351.3C391.3 352.1 394.1 351.3 395.8 352C397.5 352.7 398.3 352.6 399.2 355.4C400.1 358.2 400.8 364.5 401.2 369C401.6 373.5 401.4 379 401.9 382.6C402.3 386.2 402.6 388.2 403.9 390.7C405.1 393.2 407.1 396 409.4 397.6" stroke="#11118e" stroke-width="2.6"/><path d="M409.4 397.6C411.7 399.2 414.8 399.8 417.5 400.6" stroke="#41418f" stroke-width="2.8"/><path d="M417.5 400.6C420.2 401.4 423 401.5 425.7 402.4" stroke="#4f4f92" stroke-width="3.6"/><path d="M425.7 402.4C428.4 403.3 431.3 404.5 433.8 406.1" stroke="#545492" stroke-width="4.2"/><path d="M433.8 406.1C436.3 407.7 439.5 411 440.6 412" stroke="#45458a" stroke-width="4.2"/><path d="M313.2 378C315.3 378.2 321.2 379 325.5 379.1" stroke="#4444ea" stroke-width="2"/><path d="M325.5 379.1C329.8 379.3 335.3 379 339.1 378.7" stroke="#4444ea" stroke-width="2.2"/><path d="M339.1 378.7C343 378.5 346.4 378.8 348.6 377.7" stroke="#4444ea" stroke-width="2"/><path d="M348.6 377.7C350.9 376.7 351.6 374.4 352.7 372.6" stroke="#4444ea" stroke-width="1.8"/><path d="M352.7 372.6C353.9 370.9 354.3 369.4 355.4 367.1C356.6 364.9 358.2 361.8 359.5 359C360.9 356.3 362.1 353.2 363.5 350.8" stroke="#4444ea" stroke-width="1.4"/><path d="M363.5 350.8C365 348.5 366.4 345.9 368.3 344.7" stroke="#4444ea" stroke-width="1.6"/><path d="M368.3 344.7C370.3 343.6 372.9 343.4 375.1 343.7C377.4 344.1 379.7 345.6 381.9 346.7C384.2 347.9 386.5 350 388.7 350.8C391 351.6 393.8 350.9 395.5 351.5C397.2 352.2 398 352.1 398.9 354.9C399.8 357.8 400.5 364 400.9 368.5C401.4 373.1 401.2 378.5 401.6 382.1C402.1 385.8 402.4 387.7 403.6 390.2C404.9 392.7 406.9 395.5 409.1 397.1" stroke="#4444ea" stroke-width="1.8"/><path d="M409.1 397.1C411.4 398.8 414.5 399.3 417.2 400.1" stroke="#8484ec" stroke-width="2"/><path d="M417.2 400.1C419.9 400.9 422.7 401 425.4 401.9" stroke="#9696ef" stroke-width="2.4"/><path d="M425.4 401.9C428.1 402.9 431 404 433.5 405.6" stroke="#9d9def" stroke-width="2.8"/><path d="M433.5 405.6C436 407.2 439.2 410.6 440.3 411.5" stroke="#8989e5" stroke-width="2.8"/></g><path d="M406,407.2 L412.1,407.2 L412.1,411.5 L406,411.5Z" fill="#e06060" /><path d="M406,411.5 L412.1,411.5 L414.5,424 L411,426Z" fill="#d8d8f0" /><path d="M293.8,414.7 L302.7,412 L312.2,412.6 L321.7,415.3 L329.9,419.4 L336.7,424.9 L338.7,431.7 L335.3,432.3 L329.9,428.3 L323.1,425.5 L314.9,424.2 L305.4,423.2 L297.2,423.5Z" fill="#f4b0b4" /><path d="M321.7,415.3 L329.9,419.4 L336.7,424.9 L338.7,431.7 L335.3,432.3 L329.9,428.3 L323.1,425.5Z" fill="#e4d8dc" /><path d="M293.8,414.7 L291.8,420.8 L294.5,430.3 L298.6,435.1 L300,434.4 L297.9,426.2 L297.2,423.5Z" fill="#c8c8d0" />
<g fill="none" stroke-linecap="round" stroke-linejoin="round"><path d="M505.6 411.3C506.1 409.9 506.7 405.8 508.3 403.1C509.9 400.4 512.4 397 515.1 395C517.8 393 521.2 391.6 524.6 390.9C528 390.2 531.9 390.3 535.5 390.9C539.1 391.5 542.8 393.4 546.4 394.5C550 395.6 553.7 396.9 557.3 397.3C560.9 397.7 565 397.3 568.1 397C571.2 396.7 572.1 395.5 575.6 395.3" stroke="#11118e" stroke-width="2.2"/><path d="M575.6 395.3C579.1 395.1 584.6 394.4 589.2 395.8C593.8 397.2 599.6 401.1 603.3 404" stroke="#11118e" stroke-width="2.4"/><path d="M603.3 404C607 406.9 609.2 410.3 611.5 413.5" stroke="#11118e" stroke-width="2.6"/><path d="M611.5 413.5C613.8 416.7 615.4 420.2 616.9 423" stroke="#11118e" stroke-width="3.2"/><path d="M616.9 423C618.4 425.8 619.7 429.2 620.3 430.5" stroke="#11118e" stroke-width="3.6"/><path d="M505.3 410.9C505.8 409.5 506.5 405.4 508 402.7C509.6 400 512.1 396.6 514.8 394.6C517.6 392.6 520.9 391.2 524.3 390.5C527.7 389.8 531.6 389.9 535.2 390.5C538.9 391.1 542.5 393 546.1 394.1C549.8 395.2 553.4 396.5 557 396.9C560.7 397.3 564.8 396.9 567.8 396.6C570.9 396.3 571.8 395.1 575.3 394.9C578.9 394.7 584.3 393.9 588.9 395.4C593.6 396.8 599.3 400.6 603 403.6" stroke="#4444ea" stroke-width="1.6"/><path d="M603 403.6C606.8 406.5 609 409.9 611.2 413.1" stroke="#4444ea" stroke-width="1.8"/><path d="M611.2 413.1C613.5 416.3 615.2 419.8 616.6 422.6" stroke="#4444ea" stroke-width="2.2"/><path d="M616.6 422.6C618.1 425.4 619.5 428.8 620 430.1" stroke="#4444ea" stroke-width="2.6"/></g><g fill="none" stroke-linecap="round" stroke-linejoin="round"><path d="M531.4 415.3C531.2 413.3 529.9 407 530.1 403.1C530.3 399.2 531.2 395.1 532.8 392.2C534.4 389.2 536.9 387.2 539.6 385.4C542.3 383.6 545.7 382.2 549.1 381.6C552.5 381 556.6 380.7 560 381.6C563.4 382.5 567.2 384.6 569.5 386.8C571.8 389 573.1 392.3 573.6 395C574.1 397.7 573.3 400.9 572.2 403.1C571.1 405.4 568.3 406.5 566.8 408.5" stroke="#11118e" stroke-width="2.2"/><path d="M566.8 408.5C565.3 410.5 563.9 412.9 563.4 415.3" stroke="#3e3e94" stroke-width="2.2"/><path d="M563.4 415.3C562.9 417.7 563.2 420.8 564 423C564.8 425.2 566.3 427.2 568 428.5C569.7 429.8 572 430.9 574.2 431" stroke="#797999" stroke-width="2.2"/><path d="M574.2 431C576.4 431.1 579.4 430.6 581 428.9" stroke="#3e3e94" stroke-width="2.2"/><path d="M581 428.9C582.6 427.2 583.2 424 583.8 420.8C584.4 417.6 584.1 412.8 584.4 409.9C584.7 406.9 584.8 405.4 585.8 403.1C586.8 400.8 588.4 398.3 590.5 396.3C592.6 394.3 596.1 392.4 598.7 390.9C601.3 389.3 603.7 388.2 606 387C608.3 385.8 610.6 385.3 612.3 383.9C614 382.5 615.5 380.5 616.4 378.5C617.3 376.5 617.9 373.8 617.7 371.7C617.5 369.6 616.6 367.1 615 365.6C613.4 364.1 610.7 363.1 608.2 362.9" stroke="#11118e" stroke-width="2.2"/><path d="M608.2 362.9C605.7 362.7 602.6 363.2 600.1 364.2C597.6 365.2 595.3 366.9 593.3 369C591.2 371.1 589.4 374.2 587.8 377.1C586.2 380.1 585.1 384.6 583.8 386.7C582.4 388.8 580.5 390.5 579.7 389.4C578.9 388.3 579.2 383.1 579 379.9C578.8 376.7 578.9 373.2 578.3 370.3C577.7 367.4 577 364.1 575.6 362.2C574.2 360.3 572.1 359 570.2 358.8C568.3 358.6 566.1 360.1 564 360.8C561.9 361.5 558.6 362.9 557.3 362.9C555.9 362.9 556.4 362.5 555.9 360.8C555.4 359.1 555.1 355.4 554.5 352.7C553.9 350 553.4 346.6 552.5 344.5C551.6 342.4 550.4 340.5 549.1 339.8C547.9 339.1 546.6 338.7 545 340.4" stroke="#11118e" stroke-width="2.4"/><path d="M545 340.4C543.4 342.1 541.6 346.4 539.6 350" stroke="#11118e" stroke-width="2.2"/><path d="M539.6 350C537.6 353.6 535.1 358.3 532.8 362.2C530.5 366.1 528 370.4 526 373.1" stroke="#11118e" stroke-width="2"/><path d="M526 373.1C524 375.8 521.4 377.6 520.5 378.5" stroke="#11118e" stroke-width="2.2"/><path d="M531.2 414.9C531 412.9 529.6 406.6 529.9 402.7C530.1 398.9 531 394.8 532.6 391.8C534.2 388.9 536.7 386.8 539.4 385C542.1 383.3 545.5 381.9 548.9 381.2C552.3 380.6 556.4 380.4 559.8 381.2C563.2 382.1 567 384.2 569.3 386.4C571.5 388.7 572.9 391.9 573.4 394.6C573.8 397.3 573.1 400.5 572 402.7C570.8 405 568 406.1 566.6 408.1" stroke="#4444ea" stroke-width="1.6"/><path d="M566.6 408.1C565.1 410.2 563.6 412.5 563.2 414.9" stroke="#7f7ff2" stroke-width="1.6"/><path d="M563.2 414.9C562.7 417.3 563 420.4 563.8 422.6C564.5 424.8 566.1 426.8 567.8 428.1C569.5 429.5 571.8 430.6 574 430.6" stroke="#cecef9" stroke-width="1.6"/><path d="M574 430.6C576.1 430.7 579.2 430.2 580.8 428.5" stroke="#7f7ff2" stroke-width="1.6"/><path d="M580.8 428.5C582.4 426.8 583 423.6 583.6 420.4C584.1 417.3 583.8 412.5 584.2 409.5C584.5 406.6 584.6 405 585.6 402.7C586.6 400.5 588.1 398 590.3 395.9C592.4 393.9 595.9 392.1 598.5 390.5C601.1 389 603.5 387.8 605.8 386.6C608 385.5 610.3 384.9 612.1 383.5C613.8 382.1 615.3 380.2 616.2 378.1C617.1 376.1 617.7 373.5 617.5 371.3C617.2 369.2 616.4 366.7 614.8 365.2C613.2 363.8 610.5 362.8 608 362.5C605.5 362.3 602.4 362.8 599.9 363.8C597.4 364.8 595.1 366.5 593.1 368.6C591 370.8 589.2 373.8 587.6 376.7C586 379.7 584.9 384.3 583.6 386.3C582.2 388.4 580.3 390.2 579.5 389C578.7 387.9 579 382.7 578.8 379.5C578.5 376.3 578.6 372.9 578.1 369.9C577.5 367 576.7 363.7 575.4 361.8C574 359.9 571.9 358.7 570 358.4C568 358.2 565.9 359.7 563.8 360.4C561.6 361.1 558.4 362.5 557.1 362.5C555.7 362.5 556.1 362.1 555.7 360.4C555.2 358.7 554.8 355 554.3 352.3C553.7 349.6 553.2 346.3 552.3 344.1C551.4 342 550.1 340.1 548.9 339.4C547.6 338.7 546.4 338.3 544.8 340" stroke="#4444ea" stroke-width="1.6"/><path d="M544.8 340C543.2 341.7 541.4 346 539.4 349.6C537.3 353.3 534.8 358 532.6 361.8C530.3 365.7 527.8 370 525.8 372.7C523.7 375.4 521.2 377.2 520.3 378.1" stroke="#4444ea" stroke-width="1.4"/></g><g fill="none" stroke-linecap="round" stroke-linejoin="round"><path d="M520.5 378.5C522.5 378.7 528.5 379.5 532.8 379.6" stroke="#11118e" stroke-width="3"/><path d="M532.8 379.6C537.1 379.7 542.5 379.4 546.4 379.2" stroke="#11118e" stroke-width="3.2"/><path d="M546.4 379.2C550.2 379 553.6 379.2 555.9 378.2" stroke="#11118e" stroke-width="3"/><path d="M555.9 378.2C558.2 377.2 558.9 374.9 560 373.1" stroke="#11118e" stroke-width="2.6"/><path d="M560 373.1C561.1 371.3 561.6 369.9 562.7 367.6C563.8 365.3 565.4 362.2 566.8 359.5C568.1 356.8 569.3 353.7 570.8 351.3" stroke="#11118e" stroke-width="2.2"/><path d="M570.8 351.3C572.3 348.9 573.7 346.4 575.6 345.2" stroke="#11118e" stroke-width="2.4"/><path d="M575.6 345.2C577.5 344 580.1 343.9 582.4 344.2C584.7 344.5 586.9 346 589.2 347.2C591.5 348.4 593.7 350.5 596 351.3C598.3 352.1 601.1 351.3 602.8 352C604.5 352.7 605.3 352.6 606.2 355.4C607.1 358.2 607.8 364.5 608.2 369C608.7 373.5 608.5 379 608.9 382.6C609.3 386.2 609.6 388.2 610.9 390.7C612.1 393.2 614 396 616.4 397.6C618.8 399.2 621.8 399.7 625.1 400.6" stroke="#11118e" stroke-width="2.6"/><path d="M625.1 400.6C628.4 401.6 632.8 402.3 636 403.3" stroke="#18187c" stroke-width="3"/><path d="M636 403.3C639.2 404.3 642 405.2 644.1 406.7" stroke="#1d1d72" stroke-width="3.4"/><path d="M644.1 406.7C646.2 408.2 648.1 411.2 648.9 412.1" stroke="#2c2c68" stroke-width="4"/><path d="M520.2 378.1C522.3 378.2 528.2 379 532.5 379.2" stroke="#4444ea" stroke-width="2"/><path d="M532.5 379.2C536.8 379.3 542.3 379 546.1 378.8" stroke="#4444ea" stroke-width="2.2"/><path d="M546.1 378.8C550 378.5 553.4 378.8 555.6 377.8" stroke="#4444ea" stroke-width="2"/><path d="M555.6 377.8C557.9 376.7 558.6 374.4 559.7 372.7" stroke="#4444ea" stroke-width="1.8"/><path d="M559.7 372.7C560.9 370.9 561.3 369.4 562.4 367.2C563.6 364.9 565.2 361.8 566.5 359.1C567.9 356.3 569.1 353.2 570.5 350.9" stroke="#4444ea" stroke-width="1.4"/><path d="M570.5 350.9C572 348.5 573.4 345.9 575.3 344.8" stroke="#4444ea" stroke-width="1.6"/><path d="M575.3 344.8C577.3 343.6 579.9 343.4 582.1 343.8C584.4 344.1 586.7 345.6 588.9 346.8C591.2 347.9 593.5 350.1 595.7 350.9C598 351.7 600.8 350.9 602.5 351.6C604.2 352.2 605 352.1 605.9 355C606.8 357.8 607.5 364 607.9 368.6C608.4 373.1 608.2 378.5 608.6 382.2C609.1 385.8 609.4 387.8 610.6 390.3C611.9 392.8 613.8 395.5 616.1 397.2C618.5 398.8 621.6 399.2 624.8 400.2" stroke="#4444ea" stroke-width="1.8"/><path d="M624.8 400.2C628.1 401.1 632.6 401.8 635.7 402.9" stroke="#4e4ed1" stroke-width="2"/><path d="M635.7 402.9C638.9 403.9 641.7 404.8 643.8 406.3" stroke="#5555c4" stroke-width="2.4"/><path d="M643.8 406.3C646 407.7 647.8 410.8 648.6 411.7" stroke="#6868b7" stroke-width="2.8"/></g><path d="M613.5,405.3 L618.3,408.7 L621.7,429.8 L618.3,427.1Z" fill="#e03838" /><path d="M616.5,418 L619.8,419 L621.7,429.8 L618.3,427.1Z" fill="#f0c8c8" /><g fill="none" stroke-linecap="round" stroke-linejoin="round"><path d="M505.6 433C504.7 431.9 501.1 428.2 500.2 426.2" stroke="#414172" stroke-width="4"/><path d="M500.2 426.2C499.3 424.2 499.5 422.3 500.2 420.8" stroke="#5f5f80" stroke-width="4.4"/><path d="M500.2 420.8C500.9 419.3 502.2 418.1 504.2 417.4" stroke="#7c7c8f" stroke-width="4.6"/><path d="M504.2 417.4C506.2 416.7 509.4 416.4 512.4 416.4" stroke="#94949b" stroke-width="4.6"/><path d="M512.4 416.4C515.4 416.4 518.7 416.8 521.9 417.4" stroke="#97979c" stroke-width="4.4"/><path d="M521.9 417.4C525.1 418 528.7 419.1 531.4 420.1" stroke="#8f8f99" stroke-width="4.2"/><path d="M531.4 420.1C534.1 421.1 536.2 422 538.2 423.5" stroke="#727292" stroke-width="3.8"/><path d="M538.2 423.5C540.2 425 542.6 427.4 543.7 428.9" stroke="#363685" stroke-width="3.6"/><path d="M543.7 428.9C544.8 430.4 544.8 431.7 545 432.3" stroke="#1d1d7c" stroke-width="3.2"/><path d="M505.2 432.4C504.3 431.2 500.7 427.6 499.8 425.6" stroke="#8484c4" stroke-width="2.8"/><path d="M499.8 425.6C498.9 423.5 499.1 421.6 499.8 420.2" stroke="#acacd8" stroke-width="3"/><path d="M499.8 420.2C500.5 418.7 501.8 417.5 503.8 416.8" stroke="#d1d1ec" stroke-width="3"/><path d="M503.8 416.8C505.8 416 509 415.8 512 415.8" stroke="#f2f2fa" stroke-width="3"/><path d="M512 415.8C514.9 415.8 518.3 416.1 521.5 416.8" stroke="#f5f5fc" stroke-width="3"/><path d="M521.5 416.8C524.7 417.4 528.3 418.4 531 419.5" stroke="#ececf9" stroke-width="2.8"/><path d="M531 419.5C533.7 420.5 535.7 421.4 537.8 422.9" stroke="#c4c4ef" stroke-width="2.6"/><path d="M537.8 422.9C539.8 424.3 542.2 426.8 543.3 428.3" stroke="#7676df" stroke-width="2.4"/><path d="M543.3 428.3C544.4 429.7 544.4 431.1 544.6 431.7" stroke="#5555d1" stroke-width="2.2"/></g>
<g fill="none" stroke-linecap="round" stroke-linejoin="round"><path d="M120.2 587.2C120.1 583.1 119.2 567.8 119.7 562.5C120.2 557.2 121.7 557.3 123.3 555.3C124.9 553.3 127.1 551.7 129.3 550.4C131.5 549.1 133.8 548 136.6 547.4C139.4 546.8 143.4 546.5 146.2 546.8C149 547.1 151.5 548 153.5 549.2C155.5 550.4 157.4 552.2 158.3 554C159.2 555.8 159.5 558.3 158.9 560.1C158.3 561.9 156.8 563.9 154.7 564.9C152.6 565.9 148.4 565.4 146.2 566.1C144 566.8 142 567.6 141.4 569C140.8 570.4 141.4 572.9 142.6 574.6C143.8 576.3 146.5 578.2 148.7 579.4C150.9 580.6 153.5 581.5 155.9 581.8C158.3 582.1 160.9 582.1 163.4 581.2C165.9 580.4 169.3 578.8 171 576.7C172.7 574.6 173 571.7 173.7 568.5C174.4 565.3 174.4 560.7 175.1 557.7C175.8 554.7 176.8 552.3 177.6 550.5C178.4 548.7 178.8 548.3 179.9 547.1C181 545.9 182.3 544.3 183.9 543.1C185.5 541.9 187.4 540.8 189.4 539.9C191.4 539 193.6 538.4 195.7 537.6C197.8 536.8 200.7 535.9 202.1 534.9C203.5 533.9 204.3 532.7 204.3 531.8C204.3 530.9 203.5 529.8 202.1 529.5C200.7 529.2 198 529.5 195.7 529.9C193.4 530.3 191.1 531.1 188.5 531.8C185.9 532.5 182.9 533.3 180.3 534C177.7 534.7 175.5 534.9 173.1 535.8C170.7 536.7 167.9 538.7 165.8 539.5" stroke="#11118e" stroke-width="2.8"/><path d="M165.8 539.5C163.7 540.3 161.8 540.7 160.5 540.4" stroke="#11118e" stroke-width="3"/><path d="M160.5 540.4C159.2 540.1 158.5 539.1 157.8 537.6" stroke="#11118e" stroke-width="3.4"/><path d="M157.8 537.6C157 536.1 156.5 534.2 156 531.3C155.5 528.4 155 523.6 154.6 520.4C154.2 517.2 154.2 514.9 153.7 512.3C153.2 509.7 152.5 507 151.5 505C150.5 503 149.3 501.6 147.8 500.5" stroke="#11118e" stroke-width="3.6"/><path d="M147.8 500.5C146.3 499.4 144.4 498.7 142.4 498.7" stroke="#11118e" stroke-width="3.4"/><path d="M142.4 498.7C140.4 498.7 137.9 499.8 136 500.5" stroke="#11118e" stroke-width="3"/><path d="M136 500.5C134.2 501.2 132 503.8 131.3 503.2C130.5 502.6 131.6 498.5 131.5 496.8" stroke="#11118e" stroke-width="2.6"/><path d="M131.5 496.8C131.4 495.1 131 493 130.6 492.8" stroke="#11118e" stroke-width="2.8"/><path d="M130.6 492.8C130.2 492.6 129.7 494 129.2 495.9" stroke="#11118e" stroke-width="2.6"/><path d="M129.2 495.9C128.8 497.8 128.4 500.9 127.9 504.1" stroke="#11118e" stroke-width="2.4"/><path d="M127.9 504.1C127.4 507.3 126.9 511.7 126.1 515C125.3 518.3 124 521.4 122.9 524C121.8 526.6 120.6 528.4 119.3 530.4C118 532.4 117 534.5 115.2 535.8" stroke="#11118e" stroke-width="2.2"/><path d="M115.2 535.8C113.5 537.1 110.4 538 108.8 538.1" stroke="#11118e" stroke-width="2.6"/><path d="M108.8 538.1C107.2 538.2 105.9 537.5 105.7 536.7" stroke="#11118e" stroke-width="2.8"/><path d="M105.7 536.7C105.6 535.9 106.5 534.2 107.9 533.1C109.3 532 112 530.6 114.3 529.9C116.6 529.1 119.1 528.8 121.5 528.6" stroke="#11118e" stroke-width="2.6"/><path d="M121.5 528.6C123.9 528.5 126.5 528.5 128.8 529C131.1 529.5 133.3 530.7 135.1 531.8C136.9 532.9 138.5 534.8 139.7 535.8C140.9 536.8 141.3 537.9 142.4 537.6C143.5 537.3 144.8 535.5 146 534" stroke="#11118e" stroke-width="2.8"/><path d="M146 534C147.2 532.5 148.5 530.7 149.6 528.6C150.7 526.5 151.8 523.9 152.8 521.3C153.8 518.7 154.5 516.1 155.5 513.2" stroke="#11118e" stroke-width="2.4"/><path d="M155.5 513.2C156.5 510.3 157.6 506.6 158.7 504.1" stroke="#11118e" stroke-width="2.8"/><path d="M158.7 504.1C159.8 501.6 160.9 499.3 162.2 498.2" stroke="#11118e" stroke-width="3"/><path d="M162.2 498.2C163.5 497.1 165 497.1 166.7 497.3" stroke="#11118e" stroke-width="3.4"/><path d="M166.7 497.3C168.4 497.5 170.4 498.7 172.2 499.6" stroke="#11118e" stroke-width="3.6"/><path d="M172.2 499.6C174 500.5 176.2 502.1 177.6 502.7" stroke="#11118e" stroke-width="3.4"/><path d="M177.6 502.7C178.9 503.3 179.5 503.7 180.3 503.2C181 502.7 181.6 500.6 182.1 499.6C182.6 498.6 182.7 497 183 497.3" stroke="#11118e" stroke-width="3.2"/><path d="M183 497.3C183.3 497.6 183.7 498.8 183.9 501.4" stroke="#11118e" stroke-width="3.4"/><path d="M183.9 501.4C184.1 504 184.2 509.3 184.4 513.2" stroke="#11118e" stroke-width="3.8"/><path d="M184.4 513.2C184.6 517.1 184.8 522 185.3 525C185.8 528 186.6 529.3 187.6 531.3" stroke="#11118e" stroke-width="4"/><path d="M187.6 531.3C188.6 533.2 191.2 536.8 191.2 536.7" stroke="#11118e" stroke-width="3.8"/><path d="M191.2 536.7C191.2 536.6 186.8 530.5 187.3 530.9C187.8 531.3 191.6 537.1 194.1 539" stroke="#11118e" stroke-width="3.4"/><path d="M194.1 539C196.6 540.9 199.7 541.4 202.2 542.4" stroke="#11118e" stroke-width="3.8"/><path d="M202.2 542.4C204.7 543.4 206.5 544.1 209 545.1" stroke="#2c2c8f" stroke-width="4.4"/><path d="M209 545.1C211.5 546.1 214.7 546.8 217.2 548.5" stroke="#7c7c96" stroke-width="4.8"/><path d="M217.2 548.5C219.7 550.2 222.2 552.6 224 555.3" stroke="#777794" stroke-width="5"/><path d="M224 555.3C225.8 558 227.1 561.7 228.1 564.9" stroke="#59598f" stroke-width="5"/><path d="M228.1 564.9C229.1 568.1 229.6 571.9 230.1 574.4" stroke="#272785" stroke-width="5"/><path d="M230.1 574.4C230.6 576.9 230.7 578.9 230.8 579.8" stroke="#090961" stroke-width="4.8"/><path d="M119.9 586.7C119.8 582.6 118.9 567.3 119.4 562C119.9 556.7 121.4 556.8 123 554.8C124.6 552.8 126.8 551.2 129 549.9C131.2 548.6 133.5 547.5 136.3 546.9C139.1 546.3 143.1 546 145.9 546.3C148.7 546.6 151.2 547.5 153.2 548.7C155.2 549.9 157.1 551.7 158 553.5C158.9 555.3 159.2 557.8 158.6 559.6C158 561.4 156.5 563.4 154.4 564.4C152.3 565.4 148.1 564.9 145.9 565.6C143.7 566.3 141.7 567.1 141.1 568.5C140.5 569.9 141.1 572.4 142.3 574.1C143.5 575.8 146.2 577.7 148.4 578.9C150.6 580.1 153.1 581 155.6 581.3C158 581.6 160.6 581.6 163.1 580.7C165.6 579.9 169 578.3 170.7 576.2C172.4 574.1 172.7 571.2 173.4 568C174.1 564.8 174.1 560.2 174.8 557.2C175.4 554.2 176.5 551.8 177.3 550C178.1 548.2 178.5 547.8 179.6 546.6C180.6 545.4 182 543.8 183.6 542.6C185.2 541.4 187.1 540.3 189.1 539.4C191.1 538.5 193.3 537.9 195.4 537.1C197.5 536.3 200.4 535.4 201.8 534.4C203.2 533.4 204 532.2 204 531.3C204 530.4 203.2 529.3 201.8 529C200.4 528.7 197.7 529 195.4 529.4C193.1 529.8 190.8 530.6 188.2 531.3C185.6 532 182.6 532.8 180 533.5C177.4 534.2 175.2 534.4 172.8 535.3C170.4 536.2 167.6 538.2 165.5 539" stroke="#4444ea" stroke-width="1.8"/><path d="M165.5 539C163.4 539.8 161.5 540.2 160.2 539.9" stroke="#4444ea" stroke-width="2"/><path d="M160.2 539.9C158.9 539.6 158.2 538.6 157.5 537.1C156.7 535.6 156.2 533.7 155.7 530.8C155.2 527.9 154.7 523.1 154.3 519.9C153.9 516.7 153.9 514.4 153.4 511.8C152.9 509.2 152.2 506.5 151.2 504.5C150.2 502.5 149 501.1 147.5 500" stroke="#4444ea" stroke-width="2.4"/><path d="M147.5 500C146 499 144.1 498.2 142.1 498.2" stroke="#4444ea" stroke-width="2.2"/><path d="M142.1 498.2C140.1 498.2 137.5 499.3 135.7 500" stroke="#4444ea" stroke-width="2"/><path d="M135.7 500C133.8 500.8 131.7 503.3 131 502.7C130.2 502.1 131.3 498 131.2 496.3C131.1 494.6 130.7 492.5 130.3 492.3C129.9 492.2 129.3 493.5 128.9 495.4" stroke="#4444ea" stroke-width="1.8"/><path d="M128.9 495.4C128.4 497.3 128.1 500.4 127.6 503.6C127.1 506.8 126.6 511.2 125.8 514.5" stroke="#4444ea" stroke-width="1.6"/><path d="M125.8 514.5C125 517.8 123.7 520.9 122.6 523.5C121.5 526.1 120.3 527.9 119 529.9" stroke="#4444ea" stroke-width="1.4"/><path d="M119 529.9C117.7 531.9 116.6 534 114.9 535.3" stroke="#4444ea" stroke-width="1.6"/><path d="M114.9 535.3C113.1 536.6 110.1 537.5 108.5 537.6C106.9 537.8 105.5 537 105.4 536.2C105.2 535.4 106.2 533.7 107.6 532.6C109 531.5 111.7 530.2 114 529.4C116.3 528.7 118.8 528.3 121.2 528.1C123.6 528 126.2 528 128.5 528.5" stroke="#4444ea" stroke-width="1.8"/><path d="M128.5 528.5C130.8 529 133 530.2 134.8 531.3C136.6 532.4 138.2 534.3 139.4 535.3C140.6 536.3 141 537.4 142.1 537.1" stroke="#4444ea" stroke-width="2"/><path d="M142.1 537.1C143.1 536.8 144.5 535 145.7 533.5" stroke="#4444ea" stroke-width="1.8"/><path d="M145.7 533.5C146.9 532 148.2 530.2 149.3 528.1C150.4 526 151.5 523.4 152.5 520.8C153.5 518.2 154.2 515.6 155.2 512.7" stroke="#4444ea" stroke-width="1.6"/><path d="M155.2 512.7C156.2 509.8 157.3 506.1 158.4 503.6" stroke="#4444ea" stroke-width="1.8"/><path d="M158.4 503.6C159.5 501.1 160.6 498.8 161.9 497.7" stroke="#4444ea" stroke-width="2"/><path d="M161.9 497.7C163.2 496.6 164.7 496.6 166.4 496.8C168.1 497 170.1 498.2 171.9 499.1C173.7 500 175.9 501.6 177.3 502.2" stroke="#4444ea" stroke-width="2.4"/><path d="M177.3 502.2C178.6 502.8 179.2 503.2 180 502.7C180.7 502.2 181.3 500.1 181.8 499.1C182.2 498.1 182.4 496.5 182.7 496.8" stroke="#4444ea" stroke-width="2.2"/><path d="M182.7 496.8C183 497.1 183.4 498.3 183.6 500.9" stroke="#4444ea" stroke-width="2.4"/><path d="M183.6 500.9C183.8 503.6 183.9 508.8 184.1 512.7C184.3 516.6 184.5 521.5 185 524.5C185.5 527.5 186.3 528.9 187.3 530.8C188.3 532.8 190.9 536.3 190.9 536.2" stroke="#4444ea" stroke-width="2.6"/><path d="M190.9 536.2C190.8 536.1 186.5 530 187 530.4C187.5 530.8 191.3 536.6 193.8 538.5" stroke="#4444ea" stroke-width="2.4"/><path d="M193.8 538.5C196.3 540.4 199.4 540.9 201.9 541.9" stroke="#4444ea" stroke-width="2.6"/><path d="M201.9 541.9C204.4 542.9 206.2 543.6 208.7 544.6" stroke="#6868ec" stroke-width="3"/><path d="M208.7 544.6C211.2 545.6 214.4 546.3 216.9 548" stroke="#d1d1f4" stroke-width="3.4"/><path d="M216.9 548C219.4 549.7 221.9 552.1 223.7 554.8" stroke="#cbcbf2" stroke-width="3.4"/><path d="M223.7 554.8C225.5 557.5 226.8 561.2 227.8 564.4" stroke="#a3a3ec" stroke-width="3.4"/><path d="M227.8 564.4C228.8 567.6 229.3 571.4 229.8 573.9" stroke="#6262df" stroke-width="3.4"/><path d="M229.8 573.9C230.2 576.4 230.4 578.4 230.5 579.3" stroke="#3b3baf" stroke-width="3.4"/></g><g fill="none" stroke-linecap="round" stroke-linejoin="round"><path d="M83.5 570.1C86.5 567 97.3 555.9 101.5 551.6C105.7 547.3 106.4 546.2 108.8 544.4C111.2 542.6 113.6 541.2 116 540.8C118.4 540.4 120.9 541.2 123.3 542C125.7 542.8 128.3 544.8 130.5 545.6C132.7 546.4 134 546.6 136.6 546.6" stroke="#11118e" stroke-width="2.8"/><path d="M136.6 546.6C139.2 546.6 143 546.1 146.2 545.5" stroke="#11118e" stroke-width="3"/><path d="M146.2 545.5C149.4 544.9 154.3 544.1 155.9 543.2C157.5 542.4 153.7 541 156 540.4C158.3 539.8 165.5 539.2 169.6 539.7" stroke="#11118e" stroke-width="3.4"/><path d="M169.6 539.7C173.7 540.2 177.1 541 180.5 543.1C183.9 545.2 187.3 549.2 190 552.6" stroke="#11118e" stroke-width="3.6"/><path d="M190 552.6C192.7 556 195.1 559.9 196.8 563.5" stroke="#11118e" stroke-width="3.8"/><path d="M196.8 563.5C198.5 567.1 199.8 570.8 200.2 574.4" stroke="#11118e" stroke-width="4"/><path d="M200.2 574.4C200.6 578 200.2 582.1 199.5 585.3" stroke="#4a4a85" stroke-width="4"/><path d="M199.5 585.3C198.8 588.5 196.7 592 196.1 593.4" stroke="#8d7e85" stroke-width="3.8"/><path d="M83.2 569.6C86.2 566.5 97 555.4 101.2 551.1C105.4 546.8 106.1 545.7 108.5 543.9C110.9 542.1 113.3 540.7 115.7 540.3C118.1 539.9 120.6 540.7 123 541.5C125.4 542.3 128 544.3 130.2 545.1C132.4 545.8 133.7 546.1 136.3 546.1" stroke="#4444ea" stroke-width="1.8"/><path d="M136.3 546.1C138.9 546.1 142.7 545.5 145.9 545" stroke="#4444ea" stroke-width="2"/><path d="M145.9 545C149.1 544.4 153.9 543.5 155.6 542.7C157.2 541.8 153.4 540.5 155.7 539.9" stroke="#4444ea" stroke-width="2.4"/><path d="M155.7 539.9C158 539.3 165.2 538.7 169.3 539.2" stroke="#4444ea" stroke-width="2.2"/><path d="M169.3 539.2C173.4 539.6 176.8 540.4 180.2 542.6" stroke="#4444ea" stroke-width="2.4"/><path d="M180.2 542.6C183.6 544.7 187 548.7 189.7 552.1C192.4 555.5 194.8 559.3 196.5 563C198.2 566.6 199.4 570.2 199.9 573.9" stroke="#4444ea" stroke-width="2.6"/><path d="M199.9 573.9C200.3 577.5 199.9 581.6 199.2 584.8" stroke="#9090df" stroke-width="2.6"/><path d="M199.2 584.8C198.5 587.9 196.3 591.5 195.8 592.9" stroke="#e8d5df" stroke-width="2.6"/></g><g fill="none" stroke-linecap="round" stroke-linejoin="round"><path d="M83.5 570.1C84.5 569.5 87 567.5 89.6 566.7" stroke="#11118e" stroke-width="3"/><path d="M89.6 566.7C92.2 566 95.9 565.4 99.1 565.6C102.3 565.8 105.9 566.8 108.6 568.1" stroke="#11118e" stroke-width="3.2"/><path d="M108.6 568.1C111.3 569.4 113.6 571.2 115.4 573.5" stroke="#11118e" stroke-width="3.4"/><path d="M115.4 573.5C117.2 575.8 118.7 578.8 119.5 581.7" stroke="#11118e" stroke-width="3.8"/><path d="M119.5 581.7C120.3 584.7 120.1 589.6 120.2 591.2" stroke="#090961" stroke-width="4.2"/><path d="M83.2 569.5C84.2 569 86.7 566.9 89.3 566.1" stroke="#4444ea" stroke-width="2"/><path d="M89.3 566.1C91.9 565.4 95.6 564.8 98.8 565C101.9 565.3 105.5 566.2 108.3 567.5" stroke="#4444ea" stroke-width="2.2"/><path d="M108.3 567.5C111 568.9 113.2 570.7 115.1 572.9" stroke="#4444ea" stroke-width="2.4"/><path d="M115.1 572.9C116.9 575.2 118.4 578.2 119.2 581.1" stroke="#4444ea" stroke-width="2.6"/><path d="M119.2 581.1C120 584.1 119.7 589.1 119.9 590.6" stroke="#3b3baf" stroke-width="2.8"/></g><g fill="none" stroke-linecap="round" stroke-linejoin="round"><path d="M195.4 575.7C196.5 574.4 199.7 569.4 202.2 567.6" stroke="#8a6363" stroke-width="2.4"/><path d="M202.2 567.6C204.7 565.8 207.9 565.1 210.4 564.9" stroke="#7c2c2c" stroke-width="2.8"/><path d="M210.4 564.9C212.9 564.7 216.1 566 217.2 566.2" stroke="#6d4f4f" stroke-width="2.4"/><path d="M195.2 575.3C196.3 574 199.5 569 202 567.2" stroke="#e5b1b1" stroke-width="1.6"/><path d="M202 567.2C204.5 565.4 207.7 564.7 210.2 564.5" stroke="#d16868" stroke-width="2"/><path d="M210.2 564.5C212.7 564.3 215.8 565.6 217 565.8" stroke="#be9696" stroke-width="1.6"/></g>
<g fill="none" stroke-linecap="round" stroke-linejoin="round"><path d="M324.4 585C324.4 581 324.1 566.4 324.7 561.2C325.3 556 326.7 556 328.3 554C329.9 552 332.1 550.4 334.3 549.1C336.5 547.8 338.8 546.7 341.6 546.1C344.4 545.5 348.4 545.2 351.2 545.5C354 545.8 356.5 546.7 358.5 547.9C360.5 549.1 362.4 550.9 363.3 552.7C364.2 554.5 364.5 557 363.9 558.8C363.3 560.6 361.8 562.6 359.7 563.6C357.6 564.6 353.4 564.1 351.2 564.8C349 565.5 347 566.3 346.4 567.7C345.8 569.1 346.4 571.6 347.6 573.3C348.8 575 351.5 576.9 353.7 578.1C355.9 579.3 358.4 580.2 360.9 580.5C363.3 580.8 365.9 580.8 368.4 579.9C370.9 579 374.3 577.5 376 575.4C377.7 573.3 378 570.4 378.7 567.2C379.4 564 379.4 559.4 380.1 556.4C380.7 553.4 381.8 551 382.6 549.2C383.4 547.4 383.8 547 384.9 545.8C385.9 544.6 387.3 543 388.9 541.8C390.5 540.6 392.4 539.5 394.4 538.6C396.4 537.7 398.6 537.1 400.7 536.3C402.8 535.5 405.7 534.6 407.1 533.6C408.5 532.6 409.3 531.4 409.3 530.5C409.3 529.6 408.5 528.5 407.1 528.2C405.7 527.9 403 528.2 400.7 528.6C398.4 529 396.1 529.8 393.5 530.5C390.9 531.2 387.9 532 385.3 532.7C382.7 533.4 380.5 533.6 378.1 534.5C375.7 535.4 372.9 537.4 370.8 538.2" stroke="#11118e" stroke-width="2"/><path d="M370.8 538.2C368.7 539 366.8 539.4 365.5 539.1" stroke="#11118e" stroke-width="2.2"/><path d="M365.5 539.1C364.2 538.8 363.5 537.8 362.8 536.3" stroke="#11118e" stroke-width="2.4"/><path d="M362.8 536.3C362 534.8 361.5 532.9 361 530C360.5 527.1 360 522.3 359.6 519.1C359.2 515.9 359.2 513.6 358.7 511C358.2 508.4 357.5 505.7 356.5 503.7C355.5 501.7 354.3 500.2 352.8 499.2" stroke="#11118e" stroke-width="2.6"/><path d="M352.8 499.2C351.3 498.1 349.4 497.4 347.4 497.4" stroke="#11118e" stroke-width="2.4"/><path d="M347.4 497.4C345.4 497.4 342.9 498.4 341 499.2" stroke="#11118e" stroke-width="2.2"/><path d="M341 499.2C339.1 499.9 337 502.5 336.3 501.9C335.5 501.3 336.6 497.2 336.5 495.5" stroke="#11118e" stroke-width="1.8"/><path d="M336.5 495.5C336.4 493.8 336 491.6 335.6 491.5" stroke="#11118e" stroke-width="2"/><path d="M335.6 491.5C335.2 491.4 334.6 492.7 334.2 494.6C333.8 496.5 333.4 499.6 332.9 502.8" stroke="#11118e" stroke-width="1.8"/><path d="M332.9 502.8C332.4 506 331.9 510.4 331.1 513.7C330.3 517 329 520.1 327.9 522.7C326.8 525.3 325.6 527.1 324.3 529.1C323 531.1 321.9 533.2 320.2 534.5" stroke="#11118e" stroke-width="1.6"/><path d="M320.2 534.5C318.4 535.8 315.4 536.6 313.8 536.8" stroke="#11118e" stroke-width="1.8"/><path d="M313.8 536.8C312.2 536.9 310.8 536.2 310.7 535.4" stroke="#11118e" stroke-width="2"/><path d="M310.7 535.4C310.6 534.6 311.5 532.9 312.9 531.8C314.3 530.7 317 529.4 319.3 528.6C321.6 527.9 324.1 527.4 326.5 527.3" stroke="#11118e" stroke-width="1.8"/><path d="M326.5 527.3C328.9 527.1 331.5 527.2 333.8 527.7C336.1 528.2 338.3 529.4 340.1 530.5C341.9 531.6 343.5 533.5 344.7 534.5C345.9 535.5 346.3 536.6 347.4 536.3C348.4 536 349.8 534.2 351 532.7" stroke="#11118e" stroke-width="2"/><path d="M351 532.7C352.2 531.2 353.5 529.4 354.6 527.3" stroke="#11118e" stroke-width="1.8"/><path d="M354.6 527.3C355.7 525.2 356.8 522.6 357.8 520" stroke="#11118e" stroke-width="1.6"/><path d="M357.8 520C358.8 517.4 359.5 514.8 360.5 511.9" stroke="#11118e" stroke-width="1.8"/><path d="M360.5 511.9C361.5 509 362.6 505.3 363.7 502.8" stroke="#11118e" stroke-width="2"/><path d="M363.7 502.8C364.8 500.3 365.9 498 367.2 496.9" stroke="#11118e" stroke-width="2.2"/><path d="M367.2 496.9C368.5 495.8 370 495.8 371.7 496" stroke="#11118e" stroke-width="2.4"/><path d="M371.7 496C373.4 496.2 375.4 497.4 377.2 498.3" stroke="#11118e" stroke-width="2.6"/><path d="M377.2 498.3C379 499.2 381.2 500.8 382.6 501.4C383.9 502 384.5 502.4 385.3 501.9C386 501.4 386.6 499.3 387.1 498.3C387.5 497.3 387.7 495.7 388 496C388.3 496.3 388.7 497.5 388.9 500.1" stroke="#11118e" stroke-width="2.4"/><path d="M388.9 500.1C389.1 502.8 389.2 508 389.4 511.9C389.6 515.8 389.8 520.7 390.3 523.7C390.8 526.7 391.6 528 392.6 530C393.6 532 396.3 535.5 396.2 535.4" stroke="#11118e" stroke-width="2.8"/><path d="M396.2 535.4C396.1 535.3 391.7 529.4 391.9 529.5" stroke="#11118e" stroke-width="2.4"/><path d="M391.9 529.5C392.1 529.6 395.3 534.5 397.3 536.3" stroke="#11118e" stroke-width="2.2"/><path d="M397.3 536.3C399.3 538.1 401.6 539.1 404.1 540.4" stroke="#11118e" stroke-width="2.6"/><path d="M404.1 540.4C406.6 541.6 409.4 542.7 412.3 543.8" stroke="#23238f" stroke-width="3.4"/><path d="M412.3 543.8C415.2 544.9 419.1 545.5 421.8 547.2" stroke="#555594" stroke-width="4.2"/><path d="M421.8 547.2C424.5 548.9 426.8 551.3 428.6 554" stroke="#595994" stroke-width="4.8"/><path d="M428.6 554C430.4 556.7 431.8 560.1 432.7 563.5" stroke="#565692" stroke-width="5"/><path d="M432.7 563.5C433.6 566.9 433.8 571.4 434 574.4" stroke="#4c4c8f" stroke-width="4.6"/><path d="M434 574.4C434.2 577.4 434 580.1 434 581.2" stroke="#41418a" stroke-width="4"/><path d="M324.2 584.6C324.2 580.7 323.8 566 324.5 560.8C325.1 555.7 326.5 555.7 328.1 553.6C329.7 551.6 331.9 550.1 334.1 548.7C336.3 547.4 338.6 546.3 341.4 545.7C344.2 545.1 348.2 544.8 351 545.1C353.8 545.4 356.3 546.3 358.3 547.5C360.3 548.7 362.2 550.5 363.1 552.3C364 554.2 364.3 556.6 363.7 558.4C363.1 560.3 361.6 562.2 359.5 563.2C357.4 564.2 353.2 563.8 351 564.4C348.8 565.1 346.8 565.9 346.2 567.3C345.6 568.8 346.2 571.2 347.4 572.9C348.6 574.7 351.3 576.5 353.5 577.7C355.7 578.9 358.2 579.8 360.7 580.1C363.1 580.4 365.7 580.4 368.2 579.5C370.7 578.7 374.1 577.2 375.8 575C377.5 572.9 377.8 570 378.5 566.8C379.2 563.7 379.2 559 379.9 556C380.5 553 381.6 550.6 382.4 548.8C383.2 547.1 383.6 546.7 384.7 545.4C385.7 544.2 387.1 542.6 388.7 541.4C390.3 540.2 392.2 539.2 394.2 538.2C396.1 537.3 398.4 536.8 400.5 535.9C402.6 535.1 405.4 534.2 406.9 533.2C408.3 532.3 409.1 531 409.1 530.1C409.1 529.2 408.3 528.2 406.9 527.8C405.4 527.5 402.7 527.9 400.5 528.2C398.2 528.6 395.8 529.5 393.3 530.1C390.7 530.8 387.6 531.7 385.1 532.3C382.5 533 380.3 533.2 377.9 534.1C375.5 535.1 372.7 537.1 370.6 537.8" stroke="#4444ea" stroke-width="1.4"/><path d="M370.6 537.8C368.5 538.6 366.6 539.1 365.3 538.7C363.9 538.4 363.3 537.5 362.6 535.9" stroke="#4444ea" stroke-width="1.6"/><path d="M362.6 535.9C361.8 534.4 361.3 532.5 360.8 529.6C360.2 526.8 359.8 521.9 359.4 518.7C359 515.6 359 513.2 358.5 510.6C358 508.1 357.3 505.3 356.3 503.3C355.3 501.4 354.1 499.9 352.6 498.8" stroke="#4444ea" stroke-width="1.8"/><path d="M352.6 498.8C351.1 497.8 349.1 497 347.2 497" stroke="#4444ea" stroke-width="1.6"/><path d="M347.2 497C345.2 497 342.6 498.1 340.8 498.8" stroke="#4444ea" stroke-width="1.4"/><path d="M340.8 498.8C338.9 499.6 336.8 502.2 336.1 501.5C335.3 500.9 336.4 496.9 336.3 495.1" stroke="#4444ea" stroke-width="1.2"/><path d="M336.3 495.1C336.2 493.4 335.8 491.3 335.4 491.1" stroke="#4444ea" stroke-width="1.4"/><path d="M335.4 491.1C335 491 334.4 492.4 334 494.2C333.5 496.1 333.2 499.3 332.7 502.4C332.2 505.6 331.7 510 330.9 513.3" stroke="#4444ea" stroke-width="1.2"/><path d="M330.9 513.3C330 516.7 328.8 519.8 327.7 522.3C326.5 524.9 325.4 526.8 324.1 528.7" stroke="#4444ea" stroke-width="1"/><path d="M324.1 528.7C322.8 530.7 321.7 532.9 320 534.1C318.2 535.4 315.2 536.3 313.6 536.4" stroke="#4444ea" stroke-width="1.2"/><path d="M313.6 536.4C312 536.6 310.6 535.9 310.5 535" stroke="#4444ea" stroke-width="1.4"/><path d="M310.5 535C310.3 534.2 311.2 532.6 312.7 531.4C314.1 530.3 316.8 529 319.1 528.2C321.3 527.5 323.9 527.1 326.3 526.9" stroke="#4444ea" stroke-width="1.2"/><path d="M326.3 526.9C328.7 526.8 331.3 526.8 333.6 527.3C335.8 527.9 338.1 529 339.9 530.1C341.7 531.3 343.3 533.2 344.5 534.1C345.7 535.1 346.1 536.2 347.2 535.9C348.2 535.6 349.6 533.8 350.8 532.3" stroke="#4444ea" stroke-width="1.4"/><path d="M350.8 532.3C352 530.8 353.2 529.1 354.4 526.9C355.5 524.8 356.6 522.2 357.6 519.6C358.6 517.1 359.3 514.4 360.3 511.5" stroke="#4444ea" stroke-width="1.2"/><path d="M360.3 511.5C361.3 508.7 362.4 504.9 363.5 502.4" stroke="#4444ea" stroke-width="1.4"/><path d="M363.5 502.4C364.6 499.9 365.6 497.7 367 496.5C368.3 495.4 369.8 495.4 371.5 495.6" stroke="#4444ea" stroke-width="1.6"/><path d="M371.5 495.6C373.1 495.9 375.2 497 377 497.9" stroke="#4444ea" stroke-width="1.8"/><path d="M377 497.9C378.8 498.8 381 500.4 382.4 501C383.7 501.6 384.3 502.1 385.1 501.5C385.8 501 386.4 498.9 386.9 497.9C387.3 497 387.5 495.3 387.8 495.6C388.1 495.9 388.4 497.1 388.7 499.7" stroke="#4444ea" stroke-width="1.6"/><path d="M388.7 499.7C388.9 502.4 388.9 507.6 389.2 511.5" stroke="#4444ea" stroke-width="1.8"/><path d="M389.2 511.5C389.4 515.5 389.5 520.3 390.1 523.3C390.6 526.4 391.4 527.7 392.4 529.6" stroke="#4444ea" stroke-width="2"/><path d="M392.4 529.6C393.4 531.6 396.1 535.1 396 535" stroke="#4444ea" stroke-width="1.8"/><path d="M396 535C395.9 535 391.5 529 391.7 529.1C391.9 529.3 395 534.1 397.1 535.9" stroke="#4444ea" stroke-width="1.6"/><path d="M397.1 535.9C399.1 537.8 401.4 538.8 403.9 540" stroke="#4444ea" stroke-width="1.8"/><path d="M403.9 540C406.4 541.3 409.1 542.3 412.1 543.4" stroke="#5d5dec" stroke-width="2.2"/><path d="M412.1 543.4C415 544.6 418.9 545.1 421.6 546.8" stroke="#9f9ff2" stroke-width="3"/><path d="M421.6 546.8C424.3 548.5 426.6 550.9 428.4 553.6" stroke="#a3a3f2" stroke-width="3.2"/><path d="M428.4 553.6C430.2 556.4 431.6 559.7 432.5 563.1" stroke="#a0a0ef" stroke-width="3.4"/><path d="M432.5 563.1C433.4 566.5 433.6 571.1 433.8 574" stroke="#9393ec" stroke-width="3.2"/><path d="M433.8 574C434 577 433.8 579.7 433.8 580.8" stroke="#8484e5" stroke-width="2.8"/></g><g fill="none" stroke-linecap="round" stroke-linejoin="round"><path d="M289.1 569.4C292 566.2 302.4 554.7 306.5 550.3C310.6 545.9 311.4 544.9 313.8 543.1C316.2 541.3 318.6 539.9 321 539.5C323.4 539.1 325.9 539.9 328.3 540.7C330.7 541.5 333.3 543.5 335.5 544.3C337.7 545.1 339 545.3 341.6 545.3" stroke="#11118e" stroke-width="2"/><path d="M341.6 545.3C344.2 545.3 348 544.8 351.2 544.2" stroke="#11118e" stroke-width="2.2"/><path d="M351.2 544.2C354.4 543.6 359.1 542.6 360.9 541.9C362.7 541.1 359.6 540.2 362 539.7" stroke="#11118e" stroke-width="2.4"/><path d="M362 539.7C364.4 539.2 371.5 538.6 375.6 539C379.7 539.4 383.3 540 386.5 541.8" stroke="#11118e" stroke-width="2"/><path d="M386.5 541.8C389.7 543.6 392.3 546.7 394.6 549.9C396.9 553.1 398.6 557.2 400.1 560.8" stroke="#11118e" stroke-width="2.2"/><path d="M400.1 560.8C401.6 564.4 402.7 568.5 403.5 571.7" stroke="#090961" stroke-width="2.6"/><path d="M403.5 571.7C404.3 574.9 404.7 577.1 404.8 579.8" stroke="#090945" stroke-width="3.2"/><path d="M404.8 579.8C404.9 582.5 404.2 586.6 404.1 588" stroke="#07073b" stroke-width="4"/><path d="M288.9 569C291.8 565.8 302.1 554.3 306.3 549.9C310.4 545.5 311.1 544.5 313.6 542.7C316 540.9 318.3 539.5 320.8 539.1C323.2 538.7 325.6 539.5 328.1 540.3C330.5 541.1 333 543.2 335.3 543.9C337.5 544.7 338.7 544.9 341.4 544.9" stroke="#4444ea" stroke-width="1.4"/><path d="M341.4 544.9C344 544.9 347.7 544.4 351 543.8C354.2 543.3 358.9 542.3 360.7 541.5C362.5 540.8 359.3 539.8 361.8 539.3" stroke="#4444ea" stroke-width="1.6"/><path d="M361.8 539.3C364.2 538.8 371.3 538.3 375.4 538.6C379.4 539 383.1 539.6 386.3 541.4C389.4 543.2 392.1 546.4 394.4 549.5" stroke="#4444ea" stroke-width="1.4"/><path d="M394.4 549.5C396.6 552.7 398.4 556.8 399.9 560.4" stroke="#4444ea" stroke-width="1.6"/><path d="M399.9 560.4C401.3 564.1 402.5 568.2 403.3 571.3" stroke="#3b3baf" stroke-width="1.8"/><path d="M403.3 571.3C404 574.5 404.5 576.7 404.6 579.4" stroke="#3b3b89" stroke-width="2.2"/><path d="M404.6 579.4C404.7 582.1 404 586.3 403.9 587.6" stroke="#37377c" stroke-width="2.6"/></g><g fill="none" stroke-linecap="round" stroke-linejoin="round"><path d="M289.1 569.4C290 568.8 292 566.7 294.5 566" stroke="#4b4b85" stroke-width="3.8"/><path d="M294.5 566C297 565.3 301.1 564.8 304 565" stroke="#414185" stroke-width="4.4"/><path d="M304 565C306.9 565.2 309.9 566.1 312.2 567" stroke="#373783" stroke-width="4.6"/><path d="M312.2 567C314.5 567.9 316 569.1 317.6 570.5" stroke="#2d2d80" stroke-width="4.6"/><path d="M317.6 570.5C319.2 571.9 320.6 573.6 321.7 575.5" stroke="#23237c" stroke-width="4.6"/><path d="M321.7 575.5C322.8 577.4 323.9 579.5 324.4 581.7" stroke="#1a1a72" stroke-width="4.2"/><path d="M324.4 581.7C324.8 584 324.4 587.8 324.4 589" stroke="#131359" stroke-width="4"/><path d="M288.7 568.7C289.6 568.2 291.6 566.1 294.1 565.3" stroke="#9191df" stroke-width="2.6"/><path d="M294.1 565.3C296.6 564.6 300.6 564.2 303.6 564.3" stroke="#8484df" stroke-width="3"/><path d="M303.6 564.3C306.5 564.5 309.5 565.4 311.8 566.3" stroke="#7777db" stroke-width="3.2"/><path d="M311.8 566.3C314 567.2 315.6 568.4 317.2 569.8" stroke="#6a6ad8" stroke-width="3.2"/><path d="M317.2 569.8C318.8 571.2 320.1 573 321.3 574.8" stroke="#5d5dd1" stroke-width="3"/><path d="M321.3 574.8C322.4 576.7 323.5 578.8 324 581" stroke="#5050c4" stroke-width="3"/><path d="M324 581C324.4 583.3 324 587.1 324 588.3" stroke="#4848a3" stroke-width="2.8"/></g><path d="M401.4,573 L406.9,564.9 L409.6,559.4 L417.1,572.3 L406.9,577.1Z" fill="#d8d8f4" /><path d="M409.6,559.4 L411,558.8 L418.4,571.8 L417.1,572.3Z" fill="#e84848" />
<g fill="none" stroke-linecap="round" stroke-linejoin="round"><path d="M530.8 584.5C530.8 580.6 530.2 566.1 530.8 561C531.4 555.9 532.8 555.8 534.4 553.8C536 551.8 538.2 550.2 540.4 548.9C542.6 547.6 544.9 546.5 547.7 545.9C550.5 545.3 554.5 545 557.3 545.3C560.1 545.6 562.6 546.5 564.6 547.7C566.6 548.9 568.5 550.7 569.4 552.5C570.3 554.3 570.6 556.8 570 558.6C569.4 560.4 567.9 562.4 565.8 563.4C563.7 564.4 559.5 563.9 557.3 564.6C555.1 565.3 553.1 566.1 552.5 567.5C551.9 568.9 552.5 571.4 553.7 573.1C554.9 574.8 557.6 576.7 559.8 577.9C562 579.1 564.5 580 567 580.3C569.5 580.6 572 580.6 574.5 579.7C577 578.9 580.4 577.3 582.1 575.2C583.8 573.1 584.1 570.2 584.8 567C585.5 563.8 585.6 559.2 586.2 556.2C586.9 553.2 587.9 550.8 588.7 549C589.5 547.2 590 546.8 591 545.6C592 544.4 593.4 542.8 595 541.6C596.6 540.4 598.5 539.3 600.5 538.4C602.5 537.5 604.7 536.9 606.8 536.1C608.9 535.3 611.8 534.4 613.2 533.4C614.6 532.4 615.4 531.2 615.4 530.3C615.4 529.4 614.6 528.3 613.2 528C611.8 527.7 609.1 528 606.8 528.4C604.5 528.8 602.2 529.6 599.6 530.3C597 531 594 531.8 591.4 532.5C588.8 533.2 586.6 533.4 584.2 534.3C581.8 535.2 579 537.2 576.9 538" stroke="#11118e" stroke-width="2"/><path d="M576.9 538C574.8 538.8 572.9 539.2 571.6 538.9" stroke="#11118e" stroke-width="2.2"/><path d="M571.6 538.9C570.3 538.6 569.6 537.6 568.9 536.1" stroke="#11118e" stroke-width="2.4"/><path d="M568.9 536.1C568.1 534.6 567.6 532.7 567.1 529.8C566.6 526.9 566.1 522.1 565.7 518.9C565.3 515.7 565.3 513.4 564.8 510.8C564.3 508.2 563.6 505.5 562.6 503.5C561.6 501.5 560.4 500.1 558.9 499" stroke="#11118e" stroke-width="2.6"/><path d="M558.9 499C557.4 497.9 555.5 497.2 553.5 497.2" stroke="#11118e" stroke-width="2.4"/><path d="M553.5 497.2C551.5 497.2 549 498.2 547.1 499" stroke="#11118e" stroke-width="2.2"/><path d="M547.1 499C545.2 499.8 543.1 502.3 542.4 501.7C541.6 501.1 542.7 497 542.6 495.3" stroke="#11118e" stroke-width="1.8"/><path d="M542.6 495.3C542.5 493.6 542.1 491.5 541.7 491.3" stroke="#11118e" stroke-width="2"/><path d="M541.7 491.3C541.3 491.1 540.8 492.5 540.3 494.4C539.8 496.3 539.5 499.4 539 502.6" stroke="#11118e" stroke-width="1.8"/><path d="M539 502.6C538.5 505.8 538 510.2 537.2 513.5C536.4 516.8 535.1 519.9 534 522.5C532.9 525.1 531.7 526.9 530.4 528.9C529.1 530.9 528 533 526.3 534.3" stroke="#11118e" stroke-width="1.6"/><path d="M526.3 534.3C524.5 535.6 521.5 536.5 519.9 536.6" stroke="#11118e" stroke-width="1.8"/><path d="M519.9 536.6C518.3 536.8 516.9 536 516.8 535.2" stroke="#11118e" stroke-width="2"/><path d="M516.8 535.2C516.6 534.4 517.6 532.7 519 531.6C520.4 530.5 523.1 529.1 525.4 528.4C527.7 527.6 530.2 527.2 532.6 527.1" stroke="#11118e" stroke-width="1.8"/><path d="M532.6 527.1C535 527 537.6 527 539.9 527.5C542.2 528 544.4 529.2 546.2 530.3C548 531.4 549.6 533.3 550.8 534.3C552 535.3 552.5 536.4 553.5 536.1C554.5 535.8 555.9 534 557.1 532.5" stroke="#11118e" stroke-width="2"/><path d="M557.1 532.5C558.3 531 559.6 529.2 560.7 527.1" stroke="#11118e" stroke-width="1.8"/><path d="M560.7 527.1C561.8 525 562.9 522.4 563.9 519.8" stroke="#11118e" stroke-width="1.6"/><path d="M563.9 519.8C564.9 517.2 565.6 514.6 566.6 511.7" stroke="#11118e" stroke-width="1.8"/><path d="M566.6 511.7C567.6 508.8 568.7 505.1 569.8 502.6" stroke="#11118e" stroke-width="2"/><path d="M569.8 502.6C570.9 500.1 572 497.8 573.3 496.7" stroke="#11118e" stroke-width="2.2"/><path d="M573.3 496.7C574.6 495.6 576.1 495.6 577.8 495.8" stroke="#11118e" stroke-width="2.4"/><path d="M577.8 495.8C579.5 496 581.5 497.2 583.3 498.1" stroke="#11118e" stroke-width="2.6"/><path d="M583.3 498.1C585.1 499 587.4 500.6 588.7 501.2C590.1 501.8 590.6 502.2 591.4 501.7C592.1 501.2 592.8 499.1 593.2 498.1C593.7 497.1 593.8 495.5 594.1 495.8C594.4 496.1 594.8 497.2 595 499.9" stroke="#11118e" stroke-width="2.4"/><path d="M595 499.9C595.2 502.5 595.3 507.8 595.5 511.7C595.7 515.6 595.9 520.5 596.4 523.5C596.9 526.5 597.7 527.8 598.7 529.8C599.7 531.8 602.4 535.2 602.3 535.2" stroke="#11118e" stroke-width="2.8"/><path d="M602.3 535.2C602.2 535.2 597.7 529.3 597.9 529.5" stroke="#11118e" stroke-width="2.4"/><path d="M597.9 529.5C598.1 529.7 601 534.5 603.3 536.3" stroke="#11118e" stroke-width="2.2"/><path d="M603.3 536.3C605.6 538.1 608.8 539.3 611.5 540.4" stroke="#11118e" stroke-width="2.8"/><path d="M611.5 540.4C614.2 541.5 616.8 542 619.7 543.1" stroke="#1d1d8a" stroke-width="3.6"/><path d="M619.7 543.1C622.7 544.2 626.5 545.2 629.2 547.2" stroke="#7c7c96" stroke-width="4.6"/><path d="M629.2 547.2C631.9 549.2 634.1 552.3 636 555.3" stroke="#808097" stroke-width="5"/><path d="M636 555.3C637.9 558.2 639.7 561.7 640.7 564.9" stroke="#72728f" stroke-width="4.8"/><path d="M640.7 564.9C641.7 568.1 642.2 571.5 642.1 574.4" stroke="#6d637c" stroke-width="4.4"/><path d="M642.1 574.4C642 577.3 640.4 581.1 640.1 582.5" stroke="#775959" stroke-width="3.8"/><path d="M530.6 584.1C530.6 580.2 530 565.8 530.6 560.6C531.2 555.5 532.6 555.5 534.2 553.4C535.8 551.4 538 549.9 540.2 548.5C542.4 547.2 544.7 546.1 547.5 545.5C550.3 544.9 554.3 544.6 557.1 544.9C559.9 545.2 562.4 546.1 564.4 547.3C566.4 548.5 568.3 550.3 569.2 552.1C570.1 554 570.4 556.4 569.8 558.2C569.2 560.1 567.7 562 565.6 563C563.5 564 559.3 563.6 557.1 564.2C554.9 564.9 552.9 565.7 552.3 567.1C551.7 568.6 552.3 571 553.5 572.7C554.7 574.5 557.4 576.3 559.6 577.5C561.8 578.7 564.3 579.6 566.8 579.9C569.2 580.2 571.8 580.2 574.3 579.3C576.8 578.5 580.2 577 581.9 574.8C583.6 572.7 583.9 569.8 584.6 566.6C585.3 563.5 585.3 558.8 586 555.8C586.6 552.8 587.7 550.4 588.5 548.6C589.3 546.9 589.7 546.5 590.8 545.2C591.8 544 593.2 542.4 594.8 541.2C596.4 540 598.3 539 600.3 538C602.2 537.1 604.5 536.6 606.6 535.7C608.7 534.9 611.5 534 613 533C614.4 532.1 615.2 530.8 615.2 529.9C615.2 529 614.4 528 613 527.6C611.5 527.3 608.8 527.7 606.6 528C604.3 528.4 601.9 529.3 599.4 529.9C596.8 530.6 593.7 531.5 591.2 532.1C588.6 532.8 586.4 533 584 533.9C581.6 534.9 578.8 536.9 576.7 537.6" stroke="#4444ea" stroke-width="1.4"/><path d="M576.7 537.6C574.6 538.4 572.7 538.9 571.4 538.5C570 538.2 569.4 537.3 568.7 535.7" stroke="#4444ea" stroke-width="1.6"/><path d="M568.7 535.7C567.9 534.2 567.4 532.3 566.9 529.4C566.3 526.6 565.9 521.7 565.5 518.5C565.1 515.4 565.1 513 564.6 510.4C564.1 507.9 563.4 505.1 562.4 503.1C561.4 501.2 560.2 499.7 558.7 498.6" stroke="#4444ea" stroke-width="1.8"/><path d="M558.7 498.6C557.2 497.6 555.2 496.8 553.3 496.8" stroke="#4444ea" stroke-width="1.6"/><path d="M553.3 496.8C551.3 496.8 548.7 497.9 546.9 498.6" stroke="#4444ea" stroke-width="1.4"/><path d="M546.9 498.6C545 499.4 542.9 502 542.2 501.3C541.4 500.7 542.5 496.7 542.4 494.9" stroke="#4444ea" stroke-width="1.2"/><path d="M542.4 494.9C542.3 493.2 541.9 491.1 541.5 490.9" stroke="#4444ea" stroke-width="1.4"/><path d="M541.5 490.9C541.1 490.8 540.5 492.2 540.1 494C539.6 495.9 539.3 499.1 538.8 502.2C538.3 505.4 537.8 509.8 537 513.1" stroke="#4444ea" stroke-width="1.2"/><path d="M537 513.1C536.1 516.5 534.9 519.6 533.8 522.1C532.6 524.7 531.5 526.6 530.2 528.5" stroke="#4444ea" stroke-width="1"/><path d="M530.2 528.5C528.9 530.5 527.8 532.7 526.1 533.9C524.3 535.2 521.3 536.1 519.7 536.2" stroke="#4444ea" stroke-width="1.2"/><path d="M519.7 536.2C518.1 536.4 516.7 535.7 516.6 534.8" stroke="#4444ea" stroke-width="1.4"/><path d="M516.6 534.8C516.4 534 517.3 532.4 518.8 531.2C520.2 530.1 522.9 528.8 525.2 528C527.4 527.3 530 526.9 532.4 526.7" stroke="#4444ea" stroke-width="1.2"/><path d="M532.4 526.7C534.8 526.6 537.4 526.6 539.7 527.1C541.9 527.7 544.2 528.8 546 529.9C547.8 531.1 549.4 533 550.6 533.9C551.8 534.9 552.2 536 553.3 535.7C554.3 535.4 555.7 533.6 556.9 532.1" stroke="#4444ea" stroke-width="1.4"/><path d="M556.9 532.1C558.1 530.6 559.3 528.9 560.5 526.7C561.6 524.6 562.7 522 563.7 519.4C564.7 516.9 565.4 514.2 566.4 511.3" stroke="#4444ea" stroke-width="1.2"/><path d="M566.4 511.3C567.4 508.5 568.5 504.7 569.6 502.2" stroke="#4444ea" stroke-width="1.4"/><path d="M569.6 502.2C570.7 499.7 571.7 497.5 573.1 496.3C574.4 495.2 575.9 495.2 577.6 495.4" stroke="#4444ea" stroke-width="1.6"/><path d="M577.6 495.4C579.2 495.7 581.3 496.8 583.1 497.7" stroke="#4444ea" stroke-width="1.8"/><path d="M583.1 497.7C584.9 498.6 587.1 500.2 588.5 500.8C589.8 501.4 590.4 501.9 591.2 501.3C591.9 500.8 592.5 498.7 593 497.7C593.4 496.8 593.6 495.1 593.9 495.4C594.2 495.7 594.5 496.9 594.8 499.5" stroke="#4444ea" stroke-width="1.6"/><path d="M594.8 499.5C595 502.2 595 507.4 595.3 511.3" stroke="#4444ea" stroke-width="1.8"/><path d="M595.3 511.3C595.5 515.3 595.6 520.1 596.2 523.1C596.7 526.2 597.5 527.5 598.5 529.4" stroke="#4444ea" stroke-width="2"/><path d="M598.5 529.4C599.5 531.4 602.2 534.9 602.1 534.8" stroke="#4444ea" stroke-width="1.8"/><path d="M602.1 534.8C601.9 534.8 597.5 529 597.7 529.1C597.8 529.3 600.8 534.1 603.1 535.9" stroke="#4444ea" stroke-width="1.6"/><path d="M603.1 535.9C605.3 537.8 608.5 538.9 611.3 540" stroke="#4444ea" stroke-width="1.8"/><path d="M611.3 540C614 541.2 616.5 541.6 619.5 542.7" stroke="#5555e5" stroke-width="2.4"/><path d="M619.5 542.7C622.4 543.9 626.3 544.8 629 546.8" stroke="#d1d1f4" stroke-width="3"/><path d="M629 546.8C631.7 548.9 633.9 552 635.8 554.9" stroke="#d8d8f5" stroke-width="3.4"/><path d="M635.8 554.9C637.7 557.9 639.5 561.4 640.5 564.5" stroke="#c4c4ec" stroke-width="3.2"/><path d="M640.5 564.5C641.5 567.7 642 571.1 641.9 574" stroke="#beb1d1" stroke-width="3"/><path d="M641.9 574C641.8 577 640.2 580.8 639.9 582.1" stroke="#cba3a3" stroke-width="2.6"/></g><g fill="none" stroke-linecap="round" stroke-linejoin="round"><path d="M495.4 566.7C498.3 563.9 508.5 554.1 512.6 550.1C516.7 546.1 517.5 544.7 519.9 542.9C522.3 541.1 524.7 539.7 527.1 539.3C529.5 538.9 532 539.7 534.4 540.5C536.8 541.3 539.4 543.3 541.6 544.1C543.8 544.9 545.1 545.1 547.7 545.1" stroke="#11118e" stroke-width="2"/><path d="M547.7 545.1C550.3 545.1 554.1 544.6 557.3 544" stroke="#11118e" stroke-width="2.2"/><path d="M557.3 544C560.5 543.4 565.2 542.4 567 541.7C568.8 541 565.6 540.4 568 539.7" stroke="#11118e" stroke-width="2.4"/><path d="M568 539.7C570.4 539 577.5 537.6 581.6 537.7" stroke="#11118e" stroke-width="2"/><path d="M581.6 537.7C585.7 537.8 589.3 538.6 592.5 540.4C595.7 542.2 598.3 545.3 600.6 548.5" stroke="#11118e" stroke-width="2.2"/><path d="M600.6 548.5C602.9 551.7 604.6 555.8 606.1 559.4" stroke="#11118e" stroke-width="2.4"/><path d="M606.1 559.4C607.6 563 608.8 567.1 609.5 570.3" stroke="#131363" stroke-width="3"/><path d="M609.5 570.3C610.2 573.5 610.3 575.8 610.5 578.5" stroke="#090945" stroke-width="4"/><path d="M610.5 578.5C610.7 581.2 610.5 585.2 610.5 586.6" stroke="#070736" stroke-width="5"/><path d="M495.1 566.3C498 563.5 508.3 553.7 512.3 549.7C516.4 545.7 517.2 544.3 519.6 542.5C522.1 540.7 524.4 539.3 526.8 538.9C529.3 538.5 531.7 539.3 534.1 540.1C536.6 540.9 539.1 542.9 541.3 543.7C543.6 544.5 544.8 544.7 547.4 544.7" stroke="#4444ea" stroke-width="1.4"/><path d="M547.4 544.7C550.1 544.7 553.8 544.2 557 543.6C560.3 543 565 542 566.7 541.3C568.5 540.6 565.3 540 567.7 539.3" stroke="#4444ea" stroke-width="1.6"/><path d="M567.7 539.3C570.2 538.6 577.3 537.2 581.3 537.3C585.4 537.4 589.1 538.2 592.2 540" stroke="#4444ea" stroke-width="1.4"/><path d="M592.2 540C595.4 541.8 598.1 544.9 600.3 548.1C602.6 551.3 604.4 555.4 605.8 559" stroke="#4444ea" stroke-width="1.6"/><path d="M605.8 559C607.3 562.6 608.5 566.7 609.2 569.9" stroke="#4848b1" stroke-width="2"/><path d="M609.2 569.9C610 573.1 610.1 575.4 610.2 578.1" stroke="#3b3b89" stroke-width="2.8"/><path d="M610.2 578.1C610.4 580.8 610.2 584.8 610.2 586.2" stroke="#373776" stroke-width="3.4"/></g><g fill="none" stroke-linecap="round" stroke-linejoin="round"><path d="M495.4 566.7C496.8 566.2 500.7 564.3 503.6 563.7C506.6 563.1 510.2 562.5 513.1 562.9" stroke="#11118e" stroke-width="2"/><path d="M513.1 562.9C516 563.3 518.9 564.5 521.3 566" stroke="#11118e" stroke-width="2.2"/><path d="M521.3 566C523.7 567.5 525.8 569.7 527.4 572.1" stroke="#11118e" stroke-width="2.4"/><path d="M527.4 572.1C529 574.5 530.2 577.6 530.8 580.3" stroke="#090961" stroke-width="2.8"/><path d="M530.8 580.3C531.4 583 530.8 587.1 530.8 588.5" stroke="#090945" stroke-width="3.4"/><path d="M495.1 566.3C496.5 565.8 500.4 563.9 503.3 563.3C506.3 562.7 509.9 562.1 512.8 562.5C515.8 562.9 518.7 564.1 521 565.6" stroke="#4444ea" stroke-width="1.4"/><path d="M521 565.6C523.4 567.1 525.6 569.3 527.1 571.7" stroke="#4444ea" stroke-width="1.6"/><path d="M527.1 571.7C528.7 574.1 530 577.2 530.5 579.9" stroke="#3b3baf" stroke-width="2"/><path d="M530.5 579.9C531.1 582.6 530.5 586.7 530.5 588.1" stroke="#3b3b89" stroke-width="2.2"/></g><path d="M612.9,567.6 L615.6,563.5 L624.4,566.9 L615.6,570.3Z" fill="#b8b8f0" /></g>
<text x="354.7" y="657.6" font-size="18.2" font-weight="bold" text-anchor="middle">Residues</text>
<rect x="195.5" y="675.9" width="11.5" height="5" fill="#ff55ff"/>
<text x="209.4" y="684.2" font-size="16.7" font-weight="bold">P1</text>
<rect x="234.7" y="675.9" width="11.5" height="5" fill="#2a2aff"/>
<text x="248.7" y="684.2" font-size="16.7" font-weight="bold">P2</text>
<rect x="275.0" y="675.9" width="11.5" height="5" fill="#33ffff"/>
<text x="288.6" y="684.2" font-size="16.7" font-weight="bold">P3</text>
<rect x="315.1" y="675.9" width="11.5" height="5" fill="#ff8c1a"/>
<text x="328.5" y="684.2" font-size="16.7" font-weight="bold">J3-2</text>
<rect x="366.6" y="675.9" width="11.5" height="5" fill="#ffff00"/>
<text x="381.0" y="684.2" font-size="16.7" font-weight="bold">J2-4</text>
<rect x="419.6" y="675.9" width="11.5" height="5" fill="#00ee00"/>
<text x="434.2" y="684.2" font-size="16.7" font-weight="bold">P4-P5</text>
<rect x="485.7" y="675.9" width="11.5" height="5" fill="#b83000"/>
<text x="499.3" y="684.2" font-size="16.7" font-weight="bold">L5</text>
</svg></body></html>
